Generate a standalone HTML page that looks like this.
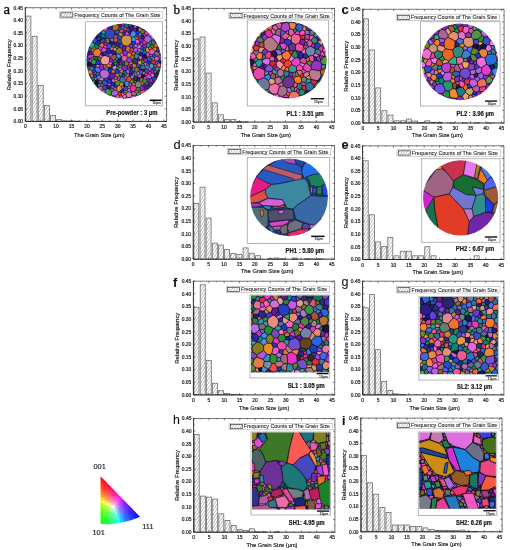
<!DOCTYPE html>
<html lang="en"><head><meta charset="utf-8"><title>Grain size distributions</title>
<style>html,body{margin:0;padding:0;background:#fff}body{width:510px;height:550px;overflow:hidden}svg{display:block;filter:blur(0.3px)}</style>
</head><body>
<svg width="510" height="550" viewBox="0 0 510 550" font-family="Liberation Sans, Arial, sans-serif">
<defs>
<pattern id="hatch" width="2" height="2.3" patternUnits="userSpaceOnUse" patternTransform="rotate(-58)"><rect width="2" height="2.3" fill="#fff"/><rect width="2" height="0.55" fill="#9c9c9c"/></pattern>
<filter id="soft" x="-5%" y="-5%" width="110%" height="110%"><feGaussianBlur stdDeviation="0.25"/></filter>
</defs>
<rect width="510" height="550" fill="#fff"/>
<g id="panel-a">
<rect x="25.9" y="16.1" width="5" height="105.3" fill="url(#hatch)" stroke="#666" stroke-width="0.75"/>
<rect x="32.1" y="36.3" width="5" height="85.1" fill="url(#hatch)" stroke="#666" stroke-width="0.75"/>
<rect x="38.2" y="85.6" width="5" height="35.8" fill="url(#hatch)" stroke="#666" stroke-width="0.75"/>
<rect x="44.4" y="105.5" width="5" height="15.9" fill="url(#hatch)" stroke="#666" stroke-width="0.75"/>
<rect x="50.5" y="115.4" width="5" height="6" fill="url(#hatch)" stroke="#666" stroke-width="0.75"/>
<rect x="56.7" y="119.7" width="5" height="1.7" fill="url(#hatch)" stroke="#666" stroke-width="0.75"/>
<rect x="62.9" y="120.9" width="5" height="0.5" fill="url(#hatch)" stroke="#666" stroke-width="0.75"/>
<rect x="69" y="120.9" width="5" height="0.5" fill="url(#hatch)" stroke="#666" stroke-width="0.75"/>
<rect x="75.2" y="121.2" width="5" height="0.2" fill="url(#hatch)" stroke="#666" stroke-width="0.75"/>
<path d="M25.3 7.7H166.6V121.4" fill="none" stroke="#4a4a4a" stroke-width="0.75"/>
<path d="M25.3 7.3V121.4H167" fill="none" stroke="#222" stroke-width="0.95"/>
<path d="M25.3 121.4v-1.9M25.3 7.7v1.9M40.7 121.4v-1.9M40.7 7.7v1.9M56.1 121.4v-1.9M56.1 7.7v1.9M71.5 121.4v-1.9M71.5 7.7v1.9M86.9 121.4v-1.9M86.9 7.7v1.9M102.3 121.4v-1.9M102.3 7.7v1.9M117.7 121.4v-1.9M117.7 7.7v1.9M133.1 121.4v-1.9M133.1 7.7v1.9M148.5 121.4v-1.9M148.5 7.7v1.9M163.9 121.4v-1.9M163.9 7.7v1.9M33 121.4v-1M33 7.7v1M48.4 121.4v-1M48.4 7.7v1M63.8 121.4v-1M63.8 7.7v1M79.2 121.4v-1M79.2 7.7v1M94.6 121.4v-1M94.6 7.7v1M110 121.4v-1M110 7.7v1M125.4 121.4v-1M125.4 7.7v1M140.8 121.4v-1M140.8 7.7v1M156.2 121.4v-1M156.2 7.7v1M25.3 121.4h1.9M166.6 121.4h-1.9M25.3 115.1h1.0M166.6 115.1h-1.0M25.3 108.8h1.9M166.6 108.8h-1.9M25.3 102.5h1.0M166.6 102.5h-1.0M25.3 96.1h1.9M166.6 96.1h-1.9M25.3 89.8h1.0M166.6 89.8h-1.0M25.3 83.5h1.9M166.6 83.5h-1.9M25.3 77.2h1.0M166.6 77.2h-1.0M25.3 70.9h1.9M166.6 70.9h-1.9M25.3 64.6h1.0M166.6 64.6h-1.0M25.3 58.2h1.9M166.6 58.2h-1.9M25.3 51.9h1.0M166.6 51.9h-1.0M25.3 45.6h1.9M166.6 45.6h-1.9M25.3 39.3h1.0M166.6 39.3h-1.0M25.3 33h1.9M166.6 33h-1.9M25.3 26.7h1.0M166.6 26.7h-1.0M25.3 20.3h1.9M166.6 20.3h-1.9M25.3 14h1.0M166.6 14h-1.0M25.3 7.7h1.9M166.6 7.7h-1.9" stroke="#2b2b2b" stroke-width="0.6" fill="none"/>
<g font-size="4.9" fill="#222" stroke="#222" stroke-width="0.2">
<text x="25.3" y="128.4" text-anchor="middle">0</text>
<text x="40.7" y="128.4" text-anchor="middle">5</text>
<text x="56.1" y="128.4" text-anchor="middle">10</text>
<text x="71.5" y="128.4" text-anchor="middle">15</text>
<text x="86.9" y="128.4" text-anchor="middle">20</text>
<text x="102.3" y="128.4" text-anchor="middle">25</text>
<text x="117.7" y="128.4" text-anchor="middle">30</text>
<text x="133.1" y="128.4" text-anchor="middle">35</text>
<text x="148.5" y="128.4" text-anchor="middle">40</text>
<text x="163.9" y="128.4" text-anchor="middle">45</text>
<text x="23.1" y="123.2" text-anchor="end">0.00</text>
<text x="23.1" y="110.5" text-anchor="end">0.05</text>
<text x="23.1" y="97.9" text-anchor="end">0.10</text>
<text x="23.1" y="85.2" text-anchor="end">0.15</text>
<text x="23.1" y="72.6" text-anchor="end">0.20</text>
<text x="23.1" y="60" text-anchor="end">0.25</text>
<text x="23.1" y="47.3" text-anchor="end">0.30</text>
<text x="23.1" y="34.7" text-anchor="end">0.35</text>
<text x="23.1" y="22.1" text-anchor="end">0.40</text>
<text x="23.1" y="9.5" text-anchor="end">0.45</text>
</g>
<text x="74.1" y="136.5" font-size="5.55" fill="#222" stroke="#222" stroke-width="0.18" textLength="50.5" lengthAdjust="spacingAndGlyphs">The Grain Size (µm)</text>
<text transform="translate(10.5 90.2) rotate(-90)" font-size="5.9" fill="#222" stroke="#222" stroke-width="0.18" textLength="51" lengthAdjust="spacingAndGlyphs">Relative Frequency</text>
<rect x="59.5" y="11.7" width="103.4" height="6.5" fill="#fff" stroke="#b0b0b0" stroke-width="0.6"/>
<rect x="60.8" y="12.8" width="12" height="4.3" fill="url(#hatch)" stroke="#3a3a3a" stroke-width="0.7"/>
<text x="74.3" y="16.9" font-size="5.3" fill="#222" stroke="#222" stroke-width="0.08" textLength="86.2" lengthAdjust="spacingAndGlyphs">Frequency Counts of The Grain Size</text>
<text x="3.4" y="13.9" font-size="14.8" font-family="Liberation Serif, sans-serif" font-weight="normal" fill="#111" stroke="#111" stroke-width="0.3">a</text>
<text x="106.3" y="115" font-size="6.3" font-weight="bold" fill="#1a1a1a" stroke="#1a1a1a" stroke-width="0.2" textLength="51.2" lengthAdjust="spacingAndGlyphs">Pre-powder : 3 µm</text>
</g>
<g id="panel-b">
<rect x="193.8" y="39" width="5" height="83.1" fill="url(#hatch)" stroke="#666" stroke-width="0.75"/>
<rect x="200" y="37" width="5" height="85.1" fill="url(#hatch)" stroke="#666" stroke-width="0.75"/>
<rect x="206.1" y="73.1" width="5" height="49" fill="url(#hatch)" stroke="#666" stroke-width="0.75"/>
<rect x="212.3" y="102.9" width="5" height="19.2" fill="url(#hatch)" stroke="#666" stroke-width="0.75"/>
<rect x="218.4" y="114.8" width="5" height="7.3" fill="url(#hatch)" stroke="#666" stroke-width="0.75"/>
<rect x="224.6" y="119.4" width="5" height="2.7" fill="url(#hatch)" stroke="#666" stroke-width="0.75"/>
<rect x="230.8" y="119.6" width="5" height="2.5" fill="url(#hatch)" stroke="#666" stroke-width="0.75"/>
<rect x="236.9" y="121.4" width="5" height="0.7" fill="url(#hatch)" stroke="#666" stroke-width="0.75"/>
<rect x="243.1" y="121.9" width="5" height="0.2" fill="url(#hatch)" stroke="#666" stroke-width="0.75"/>
<path d="M193.2 8.4H334.5V122.1" fill="none" stroke="#4a4a4a" stroke-width="0.75"/>
<path d="M193.2 8V122.1H334.9" fill="none" stroke="#222" stroke-width="0.95"/>
<path d="M193.2 122.1v-1.9M193.2 8.4v1.9M208.6 122.1v-1.9M208.6 8.4v1.9M224 122.1v-1.9M224 8.4v1.9M239.4 122.1v-1.9M239.4 8.4v1.9M254.8 122.1v-1.9M254.8 8.4v1.9M270.2 122.1v-1.9M270.2 8.4v1.9M285.6 122.1v-1.9M285.6 8.4v1.9M301 122.1v-1.9M301 8.4v1.9M316.4 122.1v-1.9M316.4 8.4v1.9M331.8 122.1v-1.9M331.8 8.4v1.9M200.9 122.1v-1M200.9 8.4v1M216.3 122.1v-1M216.3 8.4v1M231.7 122.1v-1M231.7 8.4v1M247.1 122.1v-1M247.1 8.4v1M262.5 122.1v-1M262.5 8.4v1M277.9 122.1v-1M277.9 8.4v1M293.3 122.1v-1M293.3 8.4v1M308.7 122.1v-1M308.7 8.4v1M324.1 122.1v-1M324.1 8.4v1M193.2 122.1h1.9M334.5 122.1h-1.9M193.2 115.8h1.0M334.5 115.8h-1.0M193.2 109.5h1.9M334.5 109.5h-1.9M193.2 103.2h1.0M334.5 103.2h-1.0M193.2 96.8h1.9M334.5 96.8h-1.9M193.2 90.5h1.0M334.5 90.5h-1.0M193.2 84.2h1.9M334.5 84.2h-1.9M193.2 77.9h1.0M334.5 77.9h-1.0M193.2 71.6h1.9M334.5 71.6h-1.9M193.2 65.2h1.0M334.5 65.2h-1.0M193.2 58.9h1.9M334.5 58.9h-1.9M193.2 52.6h1.0M334.5 52.6h-1.0M193.2 46.3h1.9M334.5 46.3h-1.9M193.2 40h1.0M334.5 40h-1.0M193.2 33.7h1.9M334.5 33.7h-1.9M193.2 27.4h1.0M334.5 27.4h-1.0M193.2 21h1.9M334.5 21h-1.9M193.2 14.7h1.0M334.5 14.7h-1.0M193.2 8.4h1.9M334.5 8.4h-1.9" stroke="#2b2b2b" stroke-width="0.6" fill="none"/>
<g font-size="4.9" fill="#222" stroke="#222" stroke-width="0.2">
<text x="193.2" y="129.1" text-anchor="middle">0</text>
<text x="208.6" y="129.1" text-anchor="middle">5</text>
<text x="224" y="129.1" text-anchor="middle">10</text>
<text x="239.4" y="129.1" text-anchor="middle">15</text>
<text x="254.8" y="129.1" text-anchor="middle">20</text>
<text x="270.2" y="129.1" text-anchor="middle">25</text>
<text x="285.6" y="129.1" text-anchor="middle">30</text>
<text x="301" y="129.1" text-anchor="middle">35</text>
<text x="316.4" y="129.1" text-anchor="middle">40</text>
<text x="331.8" y="129.1" text-anchor="middle">45</text>
<text x="191" y="123.9" text-anchor="end">0.00</text>
<text x="191" y="111.2" text-anchor="end">0.05</text>
<text x="191" y="98.6" text-anchor="end">0.10</text>
<text x="191" y="86" text-anchor="end">0.15</text>
<text x="191" y="73.3" text-anchor="end">0.20</text>
<text x="191" y="60.7" text-anchor="end">0.25</text>
<text x="191" y="48" text-anchor="end">0.30</text>
<text x="191" y="35.4" text-anchor="end">0.35</text>
<text x="191" y="22.8" text-anchor="end">0.40</text>
<text x="191" y="10.2" text-anchor="end">0.45</text>
</g>
<text x="240.7" y="136.9" font-size="5.55" fill="#222" stroke="#222" stroke-width="0.18" textLength="50.2" lengthAdjust="spacingAndGlyphs">The Grain Size (µm)</text>
<text transform="translate(178.4 90.8) rotate(-90)" font-size="5.9" fill="#222" stroke="#222" stroke-width="0.18" textLength="51" lengthAdjust="spacingAndGlyphs">Relative Frequency</text>
<rect x="228.8" y="12.3" width="103.4" height="6.5" fill="#fff" stroke="#b0b0b0" stroke-width="0.6"/>
<rect x="230.1" y="13.4" width="12" height="4.3" fill="url(#hatch)" stroke="#3a3a3a" stroke-width="0.7"/>
<text x="243.6" y="17.5" font-size="5.3" fill="#222" stroke="#222" stroke-width="0.08" textLength="86.2" lengthAdjust="spacingAndGlyphs">Frequency Counts of The Grain Size</text>
<text x="173.6" y="13.9" font-size="13.3" font-family="Liberation Serif, sans-serif" font-weight="normal" fill="#111" stroke="#111" stroke-width="0.3">b</text>
<text x="286.5" y="116.1" font-size="6.3" font-weight="bold" fill="#1a1a1a" stroke="#1a1a1a" stroke-width="0.2" textLength="37.3" lengthAdjust="spacingAndGlyphs">PL1 : 3.51 µm</text>
</g>
<g id="panel-c">
<rect x="363.4" y="18.9" width="5" height="104.1" fill="url(#hatch)" stroke="#666" stroke-width="0.75"/>
<rect x="369.6" y="50" width="5" height="73" fill="url(#hatch)" stroke="#666" stroke-width="0.75"/>
<rect x="375.7" y="87.9" width="5" height="35.1" fill="url(#hatch)" stroke="#666" stroke-width="0.75"/>
<rect x="381.9" y="110.7" width="5" height="12.3" fill="url(#hatch)" stroke="#666" stroke-width="0.75"/>
<rect x="388" y="115" width="5" height="8" fill="url(#hatch)" stroke="#666" stroke-width="0.75"/>
<rect x="394.2" y="120.8" width="5" height="2.2" fill="url(#hatch)" stroke="#666" stroke-width="0.75"/>
<rect x="400.4" y="120.8" width="5" height="2.2" fill="url(#hatch)" stroke="#666" stroke-width="0.75"/>
<rect x="406.5" y="119" width="5" height="4" fill="url(#hatch)" stroke="#666" stroke-width="0.75"/>
<rect x="412.7" y="121" width="5" height="2" fill="url(#hatch)" stroke="#666" stroke-width="0.75"/>
<rect x="418.8" y="122.5" width="5" height="0.5" fill="url(#hatch)" stroke="#666" stroke-width="0.75"/>
<rect x="425" y="120.8" width="5" height="2.2" fill="url(#hatch)" stroke="#666" stroke-width="0.75"/>
<rect x="431.2" y="122.3" width="5" height="0.7" fill="url(#hatch)" stroke="#666" stroke-width="0.75"/>
<rect x="437.3" y="122.5" width="5" height="0.5" fill="url(#hatch)" stroke="#666" stroke-width="0.75"/>
<rect x="449.6" y="122.8" width="5" height="0.2" fill="url(#hatch)" stroke="#666" stroke-width="0.75"/>
<rect x="462" y="122.8" width="5" height="0.2" fill="url(#hatch)" stroke="#666" stroke-width="0.75"/>
<rect x="474.3" y="122.8" width="5" height="0.2" fill="url(#hatch)" stroke="#666" stroke-width="0.75"/>
<rect x="486.6" y="122.8" width="5" height="0.2" fill="url(#hatch)" stroke="#666" stroke-width="0.75"/>
<path d="M362.8 9.3H504.1V123" fill="none" stroke="#4a4a4a" stroke-width="0.75"/>
<path d="M362.8 8.9V123H504.5" fill="none" stroke="#222" stroke-width="0.95"/>
<path d="M362.8 123v-1.9M362.8 9.3v1.9M378.2 123v-1.9M378.2 9.3v1.9M393.6 123v-1.9M393.6 9.3v1.9M409 123v-1.9M409 9.3v1.9M424.4 123v-1.9M424.4 9.3v1.9M439.8 123v-1.9M439.8 9.3v1.9M455.2 123v-1.9M455.2 9.3v1.9M470.6 123v-1.9M470.6 9.3v1.9M486 123v-1.9M486 9.3v1.9M501.4 123v-1.9M501.4 9.3v1.9M370.5 123v-1M370.5 9.3v1M385.9 123v-1M385.9 9.3v1M401.3 123v-1M401.3 9.3v1M416.7 123v-1M416.7 9.3v1M432.1 123v-1M432.1 9.3v1M447.5 123v-1M447.5 9.3v1M462.9 123v-1M462.9 9.3v1M478.3 123v-1M478.3 9.3v1M493.7 123v-1M493.7 9.3v1M362.8 123h1.9M504.1 123h-1.9M362.8 116.7h1.0M504.1 116.7h-1.0M362.8 110.4h1.9M504.1 110.4h-1.9M362.8 104h1.0M504.1 104h-1.0M362.8 97.7h1.9M504.1 97.7h-1.9M362.8 91.4h1.0M504.1 91.4h-1.0M362.8 85.1h1.9M504.1 85.1h-1.9M362.8 78.8h1.0M504.1 78.8h-1.0M362.8 72.5h1.9M504.1 72.5h-1.9M362.8 66.2h1.0M504.1 66.2h-1.0M362.8 59.8h1.9M504.1 59.8h-1.9M362.8 53.5h1.0M504.1 53.5h-1.0M362.8 47.2h1.9M504.1 47.2h-1.9M362.8 40.9h1.0M504.1 40.9h-1.0M362.8 34.6h1.9M504.1 34.6h-1.9M362.8 28.2h1.0M504.1 28.2h-1.0M362.8 21.9h1.9M504.1 21.9h-1.9M362.8 15.6h1.0M504.1 15.6h-1.0M362.8 9.3h1.9M504.1 9.3h-1.9" stroke="#2b2b2b" stroke-width="0.6" fill="none"/>
<g font-size="4.9" fill="#222" stroke="#222" stroke-width="0.2">
<text x="362.8" y="130" text-anchor="middle">0</text>
<text x="378.2" y="130" text-anchor="middle">5</text>
<text x="393.6" y="130" text-anchor="middle">10</text>
<text x="409" y="130" text-anchor="middle">15</text>
<text x="424.4" y="130" text-anchor="middle">20</text>
<text x="439.8" y="130" text-anchor="middle">25</text>
<text x="455.2" y="130" text-anchor="middle">30</text>
<text x="470.6" y="130" text-anchor="middle">35</text>
<text x="486" y="130" text-anchor="middle">40</text>
<text x="501.4" y="130" text-anchor="middle">45</text>
<text x="360.6" y="124.8" text-anchor="end">0.00</text>
<text x="360.6" y="112.1" text-anchor="end">0.05</text>
<text x="360.6" y="99.5" text-anchor="end">0.10</text>
<text x="360.6" y="86.8" text-anchor="end">0.15</text>
<text x="360.6" y="74.2" text-anchor="end">0.20</text>
<text x="360.6" y="61.6" text-anchor="end">0.25</text>
<text x="360.6" y="48.9" text-anchor="end">0.30</text>
<text x="360.6" y="36.3" text-anchor="end">0.35</text>
<text x="360.6" y="23.7" text-anchor="end">0.40</text>
<text x="360.6" y="11" text-anchor="end">0.45</text>
</g>
<text x="411.8" y="137.3" font-size="5.55" fill="#222" stroke="#222" stroke-width="0.18" textLength="51" lengthAdjust="spacingAndGlyphs">The Grain Size (µm)</text>
<text transform="translate(348 91.8) rotate(-90)" font-size="5.9" fill="#222" stroke="#222" stroke-width="0.18" textLength="51" lengthAdjust="spacingAndGlyphs">Relative Frequency</text>
<rect x="396.2" y="14.2" width="103.4" height="6.5" fill="#fff" stroke="#b0b0b0" stroke-width="0.6"/>
<rect x="397.5" y="15.3" width="12" height="4.3" fill="url(#hatch)" stroke="#3a3a3a" stroke-width="0.7"/>
<text x="411" y="19.4" font-size="5.3" fill="#222" stroke="#222" stroke-width="0.08" textLength="86.2" lengthAdjust="spacingAndGlyphs">Frequency Counts of The Grain Size</text>
<text x="341.4" y="13.8" font-size="13" font-family="Liberation Sans, sans-serif" font-weight="bold" fill="#111" stroke="#111" stroke-width="0.1">c</text>
<text x="456.5" y="116.1" font-size="6.3" font-weight="bold" fill="#1a1a1a" stroke="#1a1a1a" stroke-width="0.2" textLength="37.5" lengthAdjust="spacingAndGlyphs">PL2 : 3.96 µm</text>
</g>
<g id="panel-d">
<rect x="193.8" y="203.4" width="5" height="55.8" fill="url(#hatch)" stroke="#666" stroke-width="0.75"/>
<rect x="200" y="187.2" width="5" height="72" fill="url(#hatch)" stroke="#666" stroke-width="0.75"/>
<rect x="206.1" y="218.1" width="5" height="41.1" fill="url(#hatch)" stroke="#666" stroke-width="0.75"/>
<rect x="212.3" y="243.1" width="5" height="16.1" fill="url(#hatch)" stroke="#666" stroke-width="0.75"/>
<rect x="218.4" y="245.1" width="5" height="14.1" fill="url(#hatch)" stroke="#666" stroke-width="0.75"/>
<rect x="224.6" y="249.4" width="5" height="9.8" fill="url(#hatch)" stroke="#666" stroke-width="0.75"/>
<rect x="230.8" y="253.4" width="5" height="5.8" fill="url(#hatch)" stroke="#666" stroke-width="0.75"/>
<rect x="236.9" y="254.4" width="5" height="4.8" fill="url(#hatch)" stroke="#666" stroke-width="0.75"/>
<rect x="243.1" y="247.9" width="5" height="11.3" fill="url(#hatch)" stroke="#666" stroke-width="0.75"/>
<rect x="249.2" y="253.2" width="5" height="6" fill="url(#hatch)" stroke="#666" stroke-width="0.75"/>
<rect x="255.4" y="255.7" width="5" height="3.5" fill="url(#hatch)" stroke="#666" stroke-width="0.75"/>
<rect x="267.7" y="258.7" width="5" height="0.5" fill="url(#hatch)" stroke="#666" stroke-width="0.75"/>
<rect x="273.9" y="258" width="5" height="1.2" fill="url(#hatch)" stroke="#666" stroke-width="0.75"/>
<rect x="280" y="258.7" width="5" height="0.5" fill="url(#hatch)" stroke="#666" stroke-width="0.75"/>
<rect x="292.4" y="258" width="5" height="1.2" fill="url(#hatch)" stroke="#666" stroke-width="0.75"/>
<rect x="304.7" y="258.7" width="5" height="0.5" fill="url(#hatch)" stroke="#666" stroke-width="0.75"/>
<rect x="310.8" y="259" width="5" height="0.2" fill="url(#hatch)" stroke="#666" stroke-width="0.75"/>
<rect x="317" y="258.7" width="5" height="0.5" fill="url(#hatch)" stroke="#666" stroke-width="0.75"/>
<path d="M193.2 145.5H334.5V259.2" fill="none" stroke="#4a4a4a" stroke-width="0.75"/>
<path d="M193.2 145.1V259.2H334.9" fill="none" stroke="#222" stroke-width="0.95"/>
<path d="M193.2 259.2v-1.9M193.2 145.5v1.9M208.6 259.2v-1.9M208.6 145.5v1.9M224 259.2v-1.9M224 145.5v1.9M239.4 259.2v-1.9M239.4 145.5v1.9M254.8 259.2v-1.9M254.8 145.5v1.9M270.2 259.2v-1.9M270.2 145.5v1.9M285.6 259.2v-1.9M285.6 145.5v1.9M301 259.2v-1.9M301 145.5v1.9M316.4 259.2v-1.9M316.4 145.5v1.9M331.8 259.2v-1.9M331.8 145.5v1.9M200.9 259.2v-1M200.9 145.5v1M216.3 259.2v-1M216.3 145.5v1M231.7 259.2v-1M231.7 145.5v1M247.1 259.2v-1M247.1 145.5v1M262.5 259.2v-1M262.5 145.5v1M277.9 259.2v-1M277.9 145.5v1M293.3 259.2v-1M293.3 145.5v1M308.7 259.2v-1M308.7 145.5v1M324.1 259.2v-1M324.1 145.5v1M193.2 259.2h1.9M334.5 259.2h-1.9M193.2 252.9h1.0M334.5 252.9h-1.0M193.2 246.6h1.9M334.5 246.6h-1.9M193.2 240.2h1.0M334.5 240.2h-1.0M193.2 233.9h1.9M334.5 233.9h-1.9M193.2 227.6h1.0M334.5 227.6h-1.0M193.2 221.3h1.9M334.5 221.3h-1.9M193.2 215h1.0M334.5 215h-1.0M193.2 208.7h1.9M334.5 208.7h-1.9M193.2 202.3h1.0M334.5 202.3h-1.0M193.2 196h1.9M334.5 196h-1.9M193.2 189.7h1.0M334.5 189.7h-1.0M193.2 183.4h1.9M334.5 183.4h-1.9M193.2 177.1h1.0M334.5 177.1h-1.0M193.2 170.8h1.9M334.5 170.8h-1.9M193.2 164.4h1.0M334.5 164.4h-1.0M193.2 158.1h1.9M334.5 158.1h-1.9M193.2 151.8h1.0M334.5 151.8h-1.0M193.2 145.5h1.9M334.5 145.5h-1.9" stroke="#2b2b2b" stroke-width="0.6" fill="none"/>
<g font-size="4.9" fill="#222" stroke="#222" stroke-width="0.2">
<text x="193.2" y="266.2" text-anchor="middle">0</text>
<text x="208.6" y="266.2" text-anchor="middle">5</text>
<text x="224" y="266.2" text-anchor="middle">10</text>
<text x="239.4" y="266.2" text-anchor="middle">15</text>
<text x="254.8" y="266.2" text-anchor="middle">20</text>
<text x="270.2" y="266.2" text-anchor="middle">25</text>
<text x="285.6" y="266.2" text-anchor="middle">30</text>
<text x="301" y="266.2" text-anchor="middle">35</text>
<text x="316.4" y="266.2" text-anchor="middle">40</text>
<text x="331.8" y="266.2" text-anchor="middle">45</text>
<text x="191" y="260.9" text-anchor="end">0.00</text>
<text x="191" y="248.3" text-anchor="end">0.05</text>
<text x="191" y="235.7" text-anchor="end">0.10</text>
<text x="191" y="223" text-anchor="end">0.15</text>
<text x="191" y="210.4" text-anchor="end">0.20</text>
<text x="191" y="197.8" text-anchor="end">0.25</text>
<text x="191" y="185.1" text-anchor="end">0.30</text>
<text x="191" y="172.5" text-anchor="end">0.35</text>
<text x="191" y="159.9" text-anchor="end">0.40</text>
<text x="191" y="147.2" text-anchor="end">0.45</text>
</g>
<text x="240.7" y="273" font-size="5.55" fill="#222" stroke="#222" stroke-width="0.18" textLength="52.8" lengthAdjust="spacingAndGlyphs">The Grain Size (µm)</text>
<text transform="translate(178.4 227.9) rotate(-90)" font-size="5.9" fill="#222" stroke="#222" stroke-width="0.18" textLength="51" lengthAdjust="spacingAndGlyphs">Relative Frequency</text>
<rect x="227.5" y="148.3" width="103.4" height="6.5" fill="#fff" stroke="#b0b0b0" stroke-width="0.6"/>
<rect x="228.8" y="149.4" width="12" height="4.3" fill="url(#hatch)" stroke="#3a3a3a" stroke-width="0.7"/>
<text x="242.3" y="153.5" font-size="5.3" fill="#222" stroke="#222" stroke-width="0.08" textLength="86.2" lengthAdjust="spacingAndGlyphs">Frequency Counts of The Grain Size</text>
<text x="173.4" y="149.4" font-size="12.8" font-family="Liberation Sans, sans-serif" font-weight="normal" fill="#111" stroke="#111" stroke-width="0.1">d</text>
<text x="285.5" y="252.9" font-size="6.3" font-weight="bold" fill="#1a1a1a" stroke="#1a1a1a" stroke-width="0.2" textLength="38.6" lengthAdjust="spacingAndGlyphs">PH1 : 5.80 µm</text>
</g>
<g id="panel-e">
<rect x="363.2" y="160.8" width="5" height="98.7" fill="url(#hatch)" stroke="#666" stroke-width="0.75"/>
<rect x="369.4" y="214.8" width="5" height="44.7" fill="url(#hatch)" stroke="#666" stroke-width="0.75"/>
<rect x="375.5" y="241.9" width="5" height="17.6" fill="url(#hatch)" stroke="#666" stroke-width="0.75"/>
<rect x="381.7" y="246.4" width="5" height="13.1" fill="url(#hatch)" stroke="#666" stroke-width="0.75"/>
<rect x="387.8" y="237.6" width="5" height="21.9" fill="url(#hatch)" stroke="#666" stroke-width="0.75"/>
<rect x="394" y="255.8" width="5" height="3.7" fill="url(#hatch)" stroke="#666" stroke-width="0.75"/>
<rect x="400.2" y="251.2" width="5" height="8.3" fill="url(#hatch)" stroke="#666" stroke-width="0.75"/>
<rect x="406.3" y="251.2" width="5" height="8.3" fill="url(#hatch)" stroke="#666" stroke-width="0.75"/>
<rect x="412.5" y="255.8" width="5" height="3.7" fill="url(#hatch)" stroke="#666" stroke-width="0.75"/>
<rect x="418.6" y="255.8" width="5" height="3.7" fill="url(#hatch)" stroke="#666" stroke-width="0.75"/>
<rect x="424.8" y="246.7" width="5" height="12.8" fill="url(#hatch)" stroke="#666" stroke-width="0.75"/>
<rect x="431" y="255.8" width="5" height="3.7" fill="url(#hatch)" stroke="#666" stroke-width="0.75"/>
<rect x="474.1" y="255.8" width="5" height="3.7" fill="url(#hatch)" stroke="#666" stroke-width="0.75"/>
<path d="M362.6 145.8H503.9V259.5" fill="none" stroke="#4a4a4a" stroke-width="0.75"/>
<path d="M362.6 145.4V259.5H504.3" fill="none" stroke="#222" stroke-width="0.95"/>
<path d="M362.6 259.5v-1.9M362.6 145.8v1.9M378 259.5v-1.9M378 145.8v1.9M393.4 259.5v-1.9M393.4 145.8v1.9M408.8 259.5v-1.9M408.8 145.8v1.9M424.2 259.5v-1.9M424.2 145.8v1.9M439.6 259.5v-1.9M439.6 145.8v1.9M455 259.5v-1.9M455 145.8v1.9M470.4 259.5v-1.9M470.4 145.8v1.9M485.8 259.5v-1.9M485.8 145.8v1.9M501.2 259.5v-1.9M501.2 145.8v1.9M370.3 259.5v-1M370.3 145.8v1M385.7 259.5v-1M385.7 145.8v1M401.1 259.5v-1M401.1 145.8v1M416.5 259.5v-1M416.5 145.8v1M431.9 259.5v-1M431.9 145.8v1M447.3 259.5v-1M447.3 145.8v1M462.7 259.5v-1M462.7 145.8v1M478.1 259.5v-1M478.1 145.8v1M493.5 259.5v-1M493.5 145.8v1M362.6 259.5h1.9M503.9 259.5h-1.9M362.6 253.2h1.0M503.9 253.2h-1.0M362.6 246.9h1.9M503.9 246.9h-1.9M362.6 240.6h1.0M503.9 240.6h-1.0M362.6 234.2h1.9M503.9 234.2h-1.9M362.6 227.9h1.0M503.9 227.9h-1.0M362.6 221.6h1.9M503.9 221.6h-1.9M362.6 215.3h1.0M503.9 215.3h-1.0M362.6 209h1.9M503.9 209h-1.9M362.6 202.7h1.0M503.9 202.7h-1.0M362.6 196.3h1.9M503.9 196.3h-1.9M362.6 190h1.0M503.9 190h-1.0M362.6 183.7h1.9M503.9 183.7h-1.9M362.6 177.4h1.0M503.9 177.4h-1.0M362.6 171.1h1.9M503.9 171.1h-1.9M362.6 164.8h1.0M503.9 164.8h-1.0M362.6 158.4h1.9M503.9 158.4h-1.9M362.6 152.1h1.0M503.9 152.1h-1.0M362.6 145.8h1.9M503.9 145.8h-1.9" stroke="#2b2b2b" stroke-width="0.6" fill="none"/>
<g font-size="4.9" fill="#222" stroke="#222" stroke-width="0.2">
<text x="362.6" y="266.5" text-anchor="middle">0</text>
<text x="378" y="266.5" text-anchor="middle">5</text>
<text x="393.4" y="266.5" text-anchor="middle">10</text>
<text x="408.8" y="266.5" text-anchor="middle">15</text>
<text x="424.2" y="266.5" text-anchor="middle">20</text>
<text x="439.6" y="266.5" text-anchor="middle">25</text>
<text x="455" y="266.5" text-anchor="middle">30</text>
<text x="470.4" y="266.5" text-anchor="middle">35</text>
<text x="485.8" y="266.5" text-anchor="middle">40</text>
<text x="501.2" y="266.5" text-anchor="middle">45</text>
<text x="360.4" y="261.2" text-anchor="end">0.00</text>
<text x="360.4" y="248.6" text-anchor="end">0.05</text>
<text x="360.4" y="236" text-anchor="end">0.10</text>
<text x="360.4" y="223.3" text-anchor="end">0.15</text>
<text x="360.4" y="210.7" text-anchor="end">0.20</text>
<text x="360.4" y="198.1" text-anchor="end">0.25</text>
<text x="360.4" y="185.4" text-anchor="end">0.30</text>
<text x="360.4" y="172.8" text-anchor="end">0.35</text>
<text x="360.4" y="160.2" text-anchor="end">0.40</text>
<text x="360.4" y="147.6" text-anchor="end">0.45</text>
</g>
<text x="412.5" y="274.3" font-size="5.55" fill="#222" stroke="#222" stroke-width="0.18" textLength="50.6" lengthAdjust="spacingAndGlyphs">The Grain Size (µm)</text>
<text transform="translate(347.8 228.2) rotate(-90)" font-size="5.9" fill="#222" stroke="#222" stroke-width="0.18" textLength="51" lengthAdjust="spacingAndGlyphs">Relative Frequency</text>
<rect x="397" y="149.7" width="103.4" height="6.5" fill="#fff" stroke="#b0b0b0" stroke-width="0.6"/>
<rect x="398.3" y="150.8" width="12" height="4.3" fill="url(#hatch)" stroke="#3a3a3a" stroke-width="0.7"/>
<text x="411.8" y="154.9" font-size="5.3" fill="#222" stroke="#222" stroke-width="0.08" textLength="86.2" lengthAdjust="spacingAndGlyphs">Frequency Counts of The Grain Size</text>
<text x="341.4" y="149.2" font-size="12.8" font-family="Liberation Sans, sans-serif" font-weight="bold" fill="#111" stroke="#111" stroke-width="0.1">e</text>
<text x="455.8" y="251.2" font-size="6.3" font-weight="bold" fill="#1a1a1a" stroke="#1a1a1a" stroke-width="0.2" textLength="38.3" lengthAdjust="spacingAndGlyphs">PH2 : 6.67 µm</text>
</g>
<g id="panel-f">
<rect x="194" y="307.3" width="5" height="87.6" fill="url(#hatch)" stroke="#666" stroke-width="0.75"/>
<rect x="200.2" y="284.8" width="5" height="110.1" fill="url(#hatch)" stroke="#666" stroke-width="0.75"/>
<rect x="206.3" y="360.6" width="5" height="34.3" fill="url(#hatch)" stroke="#666" stroke-width="0.75"/>
<rect x="212.5" y="383.2" width="5" height="11.7" fill="url(#hatch)" stroke="#666" stroke-width="0.75"/>
<rect x="218.6" y="390.7" width="5" height="4.2" fill="url(#hatch)" stroke="#666" stroke-width="0.75"/>
<rect x="224.8" y="393.4" width="5" height="1.5" fill="url(#hatch)" stroke="#666" stroke-width="0.75"/>
<rect x="231" y="394.4" width="5" height="0.5" fill="url(#hatch)" stroke="#666" stroke-width="0.75"/>
<rect x="237.1" y="394.7" width="5" height="0.2" fill="url(#hatch)" stroke="#666" stroke-width="0.75"/>
<path d="M193.4 281.2H334.7V394.9" fill="none" stroke="#4a4a4a" stroke-width="0.75"/>
<path d="M193.4 280.8V394.9H335.1" fill="none" stroke="#222" stroke-width="0.95"/>
<path d="M193.4 394.9v-1.9M193.4 281.2v1.9M208.8 394.9v-1.9M208.8 281.2v1.9M224.2 394.9v-1.9M224.2 281.2v1.9M239.6 394.9v-1.9M239.6 281.2v1.9M255 394.9v-1.9M255 281.2v1.9M270.4 394.9v-1.9M270.4 281.2v1.9M285.8 394.9v-1.9M285.8 281.2v1.9M301.2 394.9v-1.9M301.2 281.2v1.9M316.6 394.9v-1.9M316.6 281.2v1.9M332 394.9v-1.9M332 281.2v1.9M201.1 394.9v-1M201.1 281.2v1M216.5 394.9v-1M216.5 281.2v1M231.9 394.9v-1M231.9 281.2v1M247.3 394.9v-1M247.3 281.2v1M262.7 394.9v-1M262.7 281.2v1M278.1 394.9v-1M278.1 281.2v1M293.5 394.9v-1M293.5 281.2v1M308.9 394.9v-1M308.9 281.2v1M324.3 394.9v-1M324.3 281.2v1M193.4 394.9h1.9M334.7 394.9h-1.9M193.4 388.6h1.0M334.7 388.6h-1.0M193.4 382.3h1.9M334.7 382.3h-1.9M193.4 375.9h1.0M334.7 375.9h-1.0M193.4 369.6h1.9M334.7 369.6h-1.9M193.4 363.3h1.0M334.7 363.3h-1.0M193.4 357h1.9M334.7 357h-1.9M193.4 350.7h1.0M334.7 350.7h-1.0M193.4 344.4h1.9M334.7 344.4h-1.9M193.4 338h1.0M334.7 338h-1.0M193.4 331.7h1.9M334.7 331.7h-1.9M193.4 325.4h1.0M334.7 325.4h-1.0M193.4 319.1h1.9M334.7 319.1h-1.9M193.4 312.8h1.0M334.7 312.8h-1.0M193.4 306.5h1.9M334.7 306.5h-1.9M193.4 300.1h1.0M334.7 300.1h-1.0M193.4 293.8h1.9M334.7 293.8h-1.9M193.4 287.5h1.0M334.7 287.5h-1.0M193.4 281.2h1.9M334.7 281.2h-1.9" stroke="#2b2b2b" stroke-width="0.6" fill="none"/>
<g font-size="4.9" fill="#222" stroke="#222" stroke-width="0.2">
<text x="193.4" y="401.9" text-anchor="middle">0</text>
<text x="208.8" y="401.9" text-anchor="middle">5</text>
<text x="224.2" y="401.9" text-anchor="middle">10</text>
<text x="239.6" y="401.9" text-anchor="middle">15</text>
<text x="255" y="401.9" text-anchor="middle">20</text>
<text x="270.4" y="401.9" text-anchor="middle">25</text>
<text x="285.8" y="401.9" text-anchor="middle">30</text>
<text x="301.2" y="401.9" text-anchor="middle">35</text>
<text x="316.6" y="401.9" text-anchor="middle">40</text>
<text x="332" y="401.9" text-anchor="middle">45</text>
<text x="191.2" y="396.6" text-anchor="end">0.00</text>
<text x="191.2" y="384" text-anchor="end">0.05</text>
<text x="191.2" y="371.4" text-anchor="end">0.10</text>
<text x="191.2" y="358.8" text-anchor="end">0.15</text>
<text x="191.2" y="346.1" text-anchor="end">0.20</text>
<text x="191.2" y="333.5" text-anchor="end">0.25</text>
<text x="191.2" y="320.8" text-anchor="end">0.30</text>
<text x="191.2" y="308.2" text-anchor="end">0.35</text>
<text x="191.2" y="295.6" text-anchor="end">0.40</text>
<text x="191.2" y="282.9" text-anchor="end">0.45</text>
</g>
<text x="239.1" y="410.3" font-size="5.55" fill="#222" stroke="#222" stroke-width="0.18" textLength="50.2" lengthAdjust="spacingAndGlyphs">The Grain Size (µm)</text>
<text transform="translate(178.6 363.7) rotate(-90)" font-size="5.9" fill="#222" stroke="#222" stroke-width="0.18" textLength="51" lengthAdjust="spacingAndGlyphs">Relative Frequency</text>
<rect x="226.3" y="286.2" width="103.4" height="6.5" fill="#fff" stroke="#b0b0b0" stroke-width="0.6"/>
<rect x="227.6" y="287.3" width="12" height="4.3" fill="url(#hatch)" stroke="#3a3a3a" stroke-width="0.7"/>
<text x="241.1" y="291.3" font-size="5.3" fill="#222" stroke="#222" stroke-width="0.08" textLength="86.2" lengthAdjust="spacingAndGlyphs">Frequency Counts of The Grain Size</text>
<text x="173" y="286.9" font-size="12.5" font-family="Liberation Sans, sans-serif" font-weight="bold" fill="#111" stroke="#111" stroke-width="0.1">f</text>
<text x="287.7" y="387.8" font-size="6.3" font-weight="bold" fill="#1a1a1a" stroke="#1a1a1a" stroke-width="0.2" textLength="37" lengthAdjust="spacingAndGlyphs">SL1 : 3.05 µm</text>
</g>
<g id="panel-g">
<rect x="363.2" y="307.8" width="5" height="87.1" fill="url(#hatch)" stroke="#666" stroke-width="0.75"/>
<rect x="369.4" y="294.4" width="5" height="100.5" fill="url(#hatch)" stroke="#666" stroke-width="0.75"/>
<rect x="375.5" y="349.7" width="5" height="45.2" fill="url(#hatch)" stroke="#666" stroke-width="0.75"/>
<rect x="381.7" y="381.3" width="5" height="13.6" fill="url(#hatch)" stroke="#666" stroke-width="0.75"/>
<rect x="387.8" y="390.4" width="5" height="4.5" fill="url(#hatch)" stroke="#666" stroke-width="0.75"/>
<rect x="394" y="393.9" width="5" height="1" fill="url(#hatch)" stroke="#666" stroke-width="0.75"/>
<rect x="400.2" y="394.7" width="5" height="0.2" fill="url(#hatch)" stroke="#666" stroke-width="0.75"/>
<path d="M362.6 281.2H503.9V394.9" fill="none" stroke="#4a4a4a" stroke-width="0.75"/>
<path d="M362.6 280.8V394.9H504.3" fill="none" stroke="#222" stroke-width="0.95"/>
<path d="M362.6 394.9v-1.9M362.6 281.2v1.9M378 394.9v-1.9M378 281.2v1.9M393.4 394.9v-1.9M393.4 281.2v1.9M408.8 394.9v-1.9M408.8 281.2v1.9M424.2 394.9v-1.9M424.2 281.2v1.9M439.6 394.9v-1.9M439.6 281.2v1.9M455 394.9v-1.9M455 281.2v1.9M470.4 394.9v-1.9M470.4 281.2v1.9M485.8 394.9v-1.9M485.8 281.2v1.9M501.2 394.9v-1.9M501.2 281.2v1.9M370.3 394.9v-1M370.3 281.2v1M385.7 394.9v-1M385.7 281.2v1M401.1 394.9v-1M401.1 281.2v1M416.5 394.9v-1M416.5 281.2v1M431.9 394.9v-1M431.9 281.2v1M447.3 394.9v-1M447.3 281.2v1M462.7 394.9v-1M462.7 281.2v1M478.1 394.9v-1M478.1 281.2v1M493.5 394.9v-1M493.5 281.2v1M362.6 394.9h1.9M503.9 394.9h-1.9M362.6 388.6h1.0M503.9 388.6h-1.0M362.6 382.3h1.9M503.9 382.3h-1.9M362.6 375.9h1.0M503.9 375.9h-1.0M362.6 369.6h1.9M503.9 369.6h-1.9M362.6 363.3h1.0M503.9 363.3h-1.0M362.6 357h1.9M503.9 357h-1.9M362.6 350.7h1.0M503.9 350.7h-1.0M362.6 344.4h1.9M503.9 344.4h-1.9M362.6 338h1.0M503.9 338h-1.0M362.6 331.7h1.9M503.9 331.7h-1.9M362.6 325.4h1.0M503.9 325.4h-1.0M362.6 319.1h1.9M503.9 319.1h-1.9M362.6 312.8h1.0M503.9 312.8h-1.0M362.6 306.5h1.9M503.9 306.5h-1.9M362.6 300.1h1.0M503.9 300.1h-1.0M362.6 293.8h1.9M503.9 293.8h-1.9M362.6 287.5h1.0M503.9 287.5h-1.0M362.6 281.2h1.9M503.9 281.2h-1.9" stroke="#2b2b2b" stroke-width="0.6" fill="none"/>
<g font-size="4.9" fill="#222" stroke="#222" stroke-width="0.2">
<text x="362.6" y="401.9" text-anchor="middle">0</text>
<text x="378" y="401.9" text-anchor="middle">5</text>
<text x="393.4" y="401.9" text-anchor="middle">10</text>
<text x="408.8" y="401.9" text-anchor="middle">15</text>
<text x="424.2" y="401.9" text-anchor="middle">20</text>
<text x="439.6" y="401.9" text-anchor="middle">25</text>
<text x="455" y="401.9" text-anchor="middle">30</text>
<text x="470.4" y="401.9" text-anchor="middle">35</text>
<text x="485.8" y="401.9" text-anchor="middle">40</text>
<text x="501.2" y="401.9" text-anchor="middle">45</text>
<text x="360.4" y="396.6" text-anchor="end">0.00</text>
<text x="360.4" y="384" text-anchor="end">0.05</text>
<text x="360.4" y="371.4" text-anchor="end">0.10</text>
<text x="360.4" y="358.8" text-anchor="end">0.15</text>
<text x="360.4" y="346.1" text-anchor="end">0.20</text>
<text x="360.4" y="333.5" text-anchor="end">0.25</text>
<text x="360.4" y="320.8" text-anchor="end">0.30</text>
<text x="360.4" y="308.2" text-anchor="end">0.35</text>
<text x="360.4" y="295.6" text-anchor="end">0.40</text>
<text x="360.4" y="282.9" text-anchor="end">0.45</text>
</g>
<text x="409.4" y="409.9" font-size="5.55" fill="#222" stroke="#222" stroke-width="0.18" textLength="50.5" lengthAdjust="spacingAndGlyphs">The Grain Size (µm)</text>
<text transform="translate(347.8 363.7) rotate(-90)" font-size="5.9" fill="#222" stroke="#222" stroke-width="0.18" textLength="51" lengthAdjust="spacingAndGlyphs">Relative Frequency</text>
<rect x="396.6" y="286.5" width="103.4" height="6.5" fill="#fff" stroke="#b0b0b0" stroke-width="0.6"/>
<rect x="397.9" y="287.6" width="12" height="4.3" fill="url(#hatch)" stroke="#3a3a3a" stroke-width="0.7"/>
<text x="411.4" y="291.6" font-size="5.3" fill="#222" stroke="#222" stroke-width="0.08" textLength="86.2" lengthAdjust="spacingAndGlyphs">Frequency Counts of The Grain Size</text>
<text x="341.4" y="286.4" font-size="12.5" font-family="Liberation Sans, sans-serif" font-weight="normal" fill="#111" stroke="#111" stroke-width="0.1">g</text>
<text x="457.1" y="389.1" font-size="6.3" font-weight="bold" fill="#1a1a1a" stroke="#1a1a1a" stroke-width="0.2" textLength="35.1" lengthAdjust="spacingAndGlyphs">SL2: 3.12 µm</text>
</g>
<g id="panel-h">
<rect x="194.2" y="434.5" width="5" height="97.7" fill="url(#hatch)" stroke="#666" stroke-width="0.75"/>
<rect x="200.4" y="496.1" width="5" height="36.1" fill="url(#hatch)" stroke="#666" stroke-width="0.75"/>
<rect x="206.5" y="497.1" width="5" height="35.1" fill="url(#hatch)" stroke="#666" stroke-width="0.75"/>
<rect x="212.7" y="499.1" width="5" height="33.1" fill="url(#hatch)" stroke="#666" stroke-width="0.75"/>
<rect x="218.8" y="513.8" width="5" height="18.4" fill="url(#hatch)" stroke="#666" stroke-width="0.75"/>
<rect x="225" y="520.5" width="5" height="11.7" fill="url(#hatch)" stroke="#666" stroke-width="0.75"/>
<rect x="231.2" y="525.4" width="5" height="6.8" fill="url(#hatch)" stroke="#666" stroke-width="0.75"/>
<rect x="237.3" y="529.7" width="5" height="2.5" fill="url(#hatch)" stroke="#666" stroke-width="0.75"/>
<rect x="243.5" y="530.5" width="5" height="1.7" fill="url(#hatch)" stroke="#666" stroke-width="0.75"/>
<rect x="249.6" y="528.8" width="5" height="3.4" fill="url(#hatch)" stroke="#666" stroke-width="0.75"/>
<rect x="255.8" y="531.7" width="5" height="0.5" fill="url(#hatch)" stroke="#666" stroke-width="0.75"/>
<rect x="262" y="531.7" width="5" height="0.5" fill="url(#hatch)" stroke="#666" stroke-width="0.75"/>
<rect x="274.3" y="531.7" width="5" height="0.5" fill="url(#hatch)" stroke="#666" stroke-width="0.75"/>
<path d="M193.6 418.5H334.9V532.2" fill="none" stroke="#4a4a4a" stroke-width="0.75"/>
<path d="M193.6 418.1V532.2H335.3" fill="none" stroke="#222" stroke-width="0.95"/>
<path d="M193.6 532.2v-1.9M193.6 418.5v1.9M209 532.2v-1.9M209 418.5v1.9M224.4 532.2v-1.9M224.4 418.5v1.9M239.8 532.2v-1.9M239.8 418.5v1.9M255.2 532.2v-1.9M255.2 418.5v1.9M270.6 532.2v-1.9M270.6 418.5v1.9M286 532.2v-1.9M286 418.5v1.9M301.4 532.2v-1.9M301.4 418.5v1.9M316.8 532.2v-1.9M316.8 418.5v1.9M332.2 532.2v-1.9M332.2 418.5v1.9M201.3 532.2v-1M201.3 418.5v1M216.7 532.2v-1M216.7 418.5v1M232.1 532.2v-1M232.1 418.5v1M247.5 532.2v-1M247.5 418.5v1M262.9 532.2v-1M262.9 418.5v1M278.3 532.2v-1M278.3 418.5v1M293.7 532.2v-1M293.7 418.5v1M309.1 532.2v-1M309.1 418.5v1M324.5 532.2v-1M324.5 418.5v1M193.6 532.2h1.9M334.9 532.2h-1.9M193.6 525.9h1.0M334.9 525.9h-1.0M193.6 519.6h1.9M334.9 519.6h-1.9M193.6 513.2h1.0M334.9 513.2h-1.0M193.6 506.9h1.9M334.9 506.9h-1.9M193.6 500.6h1.0M334.9 500.6h-1.0M193.6 494.3h1.9M334.9 494.3h-1.9M193.6 488h1.0M334.9 488h-1.0M193.6 481.7h1.9M334.9 481.7h-1.9M193.6 475.4h1.0M334.9 475.4h-1.0M193.6 469h1.9M334.9 469h-1.9M193.6 462.7h1.0M334.9 462.7h-1.0M193.6 456.4h1.9M334.9 456.4h-1.9M193.6 450.1h1.0M334.9 450.1h-1.0M193.6 443.8h1.9M334.9 443.8h-1.9M193.6 437.5h1.0M334.9 437.5h-1.0M193.6 431.1h1.9M334.9 431.1h-1.9M193.6 424.8h1.0M334.9 424.8h-1.0M193.6 418.5h1.9M334.9 418.5h-1.9" stroke="#2b2b2b" stroke-width="0.6" fill="none"/>
<g font-size="4.9" fill="#222" stroke="#222" stroke-width="0.2">
<text x="193.6" y="539.2" text-anchor="middle">0</text>
<text x="209" y="539.2" text-anchor="middle">5</text>
<text x="224.4" y="539.2" text-anchor="middle">10</text>
<text x="239.8" y="539.2" text-anchor="middle">15</text>
<text x="255.2" y="539.2" text-anchor="middle">20</text>
<text x="270.6" y="539.2" text-anchor="middle">25</text>
<text x="286" y="539.2" text-anchor="middle">30</text>
<text x="301.4" y="539.2" text-anchor="middle">35</text>
<text x="316.8" y="539.2" text-anchor="middle">40</text>
<text x="332.2" y="539.2" text-anchor="middle">45</text>
<text x="191.4" y="534" text-anchor="end">0.00</text>
<text x="191.4" y="521.3" text-anchor="end">0.05</text>
<text x="191.4" y="508.7" text-anchor="end">0.10</text>
<text x="191.4" y="496.1" text-anchor="end">0.15</text>
<text x="191.4" y="483.4" text-anchor="end">0.20</text>
<text x="191.4" y="470.8" text-anchor="end">0.25</text>
<text x="191.4" y="458.2" text-anchor="end">0.30</text>
<text x="191.4" y="445.5" text-anchor="end">0.35</text>
<text x="191.4" y="432.9" text-anchor="end">0.40</text>
<text x="191.4" y="420.3" text-anchor="end">0.45</text>
</g>
<text x="246.5" y="546.5" font-size="5.55" fill="#222" stroke="#222" stroke-width="0.18" textLength="51" lengthAdjust="spacingAndGlyphs">The Grain Size (µm)</text>
<text transform="translate(178.8 501) rotate(-90)" font-size="5.9" fill="#222" stroke="#222" stroke-width="0.18" textLength="51" lengthAdjust="spacingAndGlyphs">Relative Frequency</text>
<rect x="229" y="423.3" width="103.4" height="6.5" fill="#fff" stroke="#b0b0b0" stroke-width="0.6"/>
<rect x="230.3" y="424.4" width="12" height="4.3" fill="url(#hatch)" stroke="#3a3a3a" stroke-width="0.7"/>
<text x="243.8" y="428.4" font-size="5.3" fill="#222" stroke="#222" stroke-width="0.08" textLength="86.2" lengthAdjust="spacingAndGlyphs">Frequency Counts of The Grain Size</text>
<text x="173.1" y="424.1" font-size="12.3" font-family="Liberation Sans, sans-serif" font-weight="normal" fill="#111" stroke="#111" stroke-width="0.1">h</text>
<text x="288.8" y="524.5" font-size="6.3" font-weight="bold" fill="#1a1a1a" stroke="#1a1a1a" stroke-width="0.2" textLength="35.9" lengthAdjust="spacingAndGlyphs">SH1: 4.95 µm</text>
</g>
<g id="panel-i">
<rect x="361.4" y="455.3" width="5" height="76.5" fill="url(#hatch)" stroke="#666" stroke-width="0.75"/>
<rect x="367.6" y="482.8" width="5" height="49" fill="url(#hatch)" stroke="#666" stroke-width="0.75"/>
<rect x="373.7" y="494.2" width="5" height="37.6" fill="url(#hatch)" stroke="#666" stroke-width="0.75"/>
<rect x="379.9" y="507.6" width="5" height="24.2" fill="url(#hatch)" stroke="#666" stroke-width="0.75"/>
<rect x="386" y="512.6" width="5" height="19.2" fill="url(#hatch)" stroke="#666" stroke-width="0.75"/>
<rect x="392.2" y="525" width="5" height="6.8" fill="url(#hatch)" stroke="#666" stroke-width="0.75"/>
<rect x="398.4" y="525" width="5" height="6.8" fill="url(#hatch)" stroke="#666" stroke-width="0.75"/>
<rect x="404.5" y="525" width="5" height="6.8" fill="url(#hatch)" stroke="#666" stroke-width="0.75"/>
<rect x="410.7" y="526.5" width="5" height="5.3" fill="url(#hatch)" stroke="#666" stroke-width="0.75"/>
<rect x="416.8" y="526.5" width="5" height="5.3" fill="url(#hatch)" stroke="#666" stroke-width="0.75"/>
<rect x="423" y="527.9" width="5" height="3.9" fill="url(#hatch)" stroke="#666" stroke-width="0.75"/>
<rect x="429.2" y="529.6" width="5" height="2.2" fill="url(#hatch)" stroke="#666" stroke-width="0.75"/>
<rect x="435.3" y="530.6" width="5" height="1.2" fill="url(#hatch)" stroke="#666" stroke-width="0.75"/>
<rect x="441.5" y="530.3" width="5" height="1.5" fill="url(#hatch)" stroke="#666" stroke-width="0.75"/>
<rect x="447.6" y="530.6" width="5" height="1.2" fill="url(#hatch)" stroke="#666" stroke-width="0.75"/>
<rect x="453.8" y="530.6" width="5" height="1.2" fill="url(#hatch)" stroke="#666" stroke-width="0.75"/>
<rect x="460" y="530.1" width="5" height="1.7" fill="url(#hatch)" stroke="#666" stroke-width="0.75"/>
<rect x="466.1" y="531.3" width="5" height="0.5" fill="url(#hatch)" stroke="#666" stroke-width="0.75"/>
<rect x="472.3" y="531.6" width="5" height="0.2" fill="url(#hatch)" stroke="#666" stroke-width="0.75"/>
<path d="M360.8 418.1H502.1V531.8" fill="none" stroke="#4a4a4a" stroke-width="0.75"/>
<path d="M360.8 417.7V531.8H502.5" fill="none" stroke="#222" stroke-width="0.95"/>
<path d="M360.8 531.8v-1.9M360.8 418.1v1.9M376.2 531.8v-1.9M376.2 418.1v1.9M391.6 531.8v-1.9M391.6 418.1v1.9M407 531.8v-1.9M407 418.1v1.9M422.4 531.8v-1.9M422.4 418.1v1.9M437.8 531.8v-1.9M437.8 418.1v1.9M453.2 531.8v-1.9M453.2 418.1v1.9M468.6 531.8v-1.9M468.6 418.1v1.9M484 531.8v-1.9M484 418.1v1.9M499.4 531.8v-1.9M499.4 418.1v1.9M368.5 531.8v-1M368.5 418.1v1M383.9 531.8v-1M383.9 418.1v1M399.3 531.8v-1M399.3 418.1v1M414.7 531.8v-1M414.7 418.1v1M430.1 531.8v-1M430.1 418.1v1M445.5 531.8v-1M445.5 418.1v1M460.9 531.8v-1M460.9 418.1v1M476.3 531.8v-1M476.3 418.1v1M491.7 531.8v-1M491.7 418.1v1M360.8 531.8h1.9M502.1 531.8h-1.9M360.8 525.5h1.0M502.1 525.5h-1.0M360.8 519.2h1.9M502.1 519.2h-1.9M360.8 512.9h1.0M502.1 512.9h-1.0M360.8 506.5h1.9M502.1 506.5h-1.9M360.8 500.2h1.0M502.1 500.2h-1.0M360.8 493.9h1.9M502.1 493.9h-1.9M360.8 487.6h1.0M502.1 487.6h-1.0M360.8 481.3h1.9M502.1 481.3h-1.9M360.8 475h1.0M502.1 475h-1.0M360.8 468.6h1.9M502.1 468.6h-1.9M360.8 462.3h1.0M502.1 462.3h-1.0M360.8 456h1.9M502.1 456h-1.9M360.8 449.7h1.0M502.1 449.7h-1.0M360.8 443.4h1.9M502.1 443.4h-1.9M360.8 437.1h1.0M502.1 437.1h-1.0M360.8 430.7h1.9M502.1 430.7h-1.9M360.8 424.4h1.0M502.1 424.4h-1.0M360.8 418.1h1.9M502.1 418.1h-1.9" stroke="#2b2b2b" stroke-width="0.6" fill="none"/>
<g font-size="4.9" fill="#222" stroke="#222" stroke-width="0.2">
<text x="360.8" y="538.8" text-anchor="middle">0</text>
<text x="376.2" y="538.8" text-anchor="middle">5</text>
<text x="391.6" y="538.8" text-anchor="middle">10</text>
<text x="407" y="538.8" text-anchor="middle">15</text>
<text x="422.4" y="538.8" text-anchor="middle">20</text>
<text x="437.8" y="538.8" text-anchor="middle">25</text>
<text x="453.2" y="538.8" text-anchor="middle">30</text>
<text x="468.6" y="538.8" text-anchor="middle">35</text>
<text x="484" y="538.8" text-anchor="middle">40</text>
<text x="499.4" y="538.8" text-anchor="middle">45</text>
<text x="358.6" y="533.6" text-anchor="end">0.00</text>
<text x="358.6" y="520.9" text-anchor="end">0.05</text>
<text x="358.6" y="508.3" text-anchor="end">0.10</text>
<text x="358.6" y="495.7" text-anchor="end">0.15</text>
<text x="358.6" y="483" text-anchor="end">0.20</text>
<text x="358.6" y="470.4" text-anchor="end">0.25</text>
<text x="358.6" y="457.8" text-anchor="end">0.30</text>
<text x="358.6" y="445.1" text-anchor="end">0.35</text>
<text x="358.6" y="432.5" text-anchor="end">0.40</text>
<text x="358.6" y="419.9" text-anchor="end">0.45</text>
</g>
<text x="411.3" y="546" font-size="5.55" fill="#222" stroke="#222" stroke-width="0.18" textLength="50.2" lengthAdjust="spacingAndGlyphs">The Grain Size (µm)</text>
<text transform="translate(346 500.6) rotate(-90)" font-size="5.9" fill="#222" stroke="#222" stroke-width="0.18" textLength="51" lengthAdjust="spacingAndGlyphs">Relative Frequency</text>
<rect x="396.3" y="422" width="103.4" height="6.5" fill="#fff" stroke="#b0b0b0" stroke-width="0.6"/>
<rect x="397.6" y="423.1" width="12" height="4.3" fill="url(#hatch)" stroke="#3a3a3a" stroke-width="0.7"/>
<text x="411.1" y="427.1" font-size="5.3" fill="#222" stroke="#222" stroke-width="0.08" textLength="86.2" lengthAdjust="spacingAndGlyphs">Frequency Counts of The Grain Size</text>
<text x="342" y="424.9" font-size="12.3" font-family="Liberation Sans, sans-serif" font-weight="bold" fill="#111" stroke="#111" stroke-width="0.1">i</text>
<text x="456.1" y="524.5" font-size="6.3" font-weight="bold" fill="#1a1a1a" stroke="#1a1a1a" stroke-width="0.2" textLength="35.7" lengthAdjust="spacingAndGlyphs">SH2: 6.26 µm</text>
</g>
<rect x="85.4" y="21.7" width="77.2" height="84" fill="#fff" stroke="#adadad" stroke-width="0.9"/>
<clipPath id="clip-a"><circle cx="123.9" cy="61.1" r="37.6"/></clipPath>
<g clip-path="url(#clip-a)"><g filter="url(#soft)" stroke="#0a0812" stroke-width="0.4" stroke-linejoin="round">
<rect x="84" y="21" width="80" height="80" fill="#15101c" stroke="none"/>
<path d="M115 33.3L114.8 34.6L113.5 37.9L109.7 39.2L109.5 39.2L105.9 38.2L105.5 38L104.7 34.4L105.5 31.4L108.2 28.8L112.1 28.8L114.6 30.9z" fill="#2d46be"/>
<path d="M124.2 45.5L121.5 43.1L121 39.8L122.2 36.6L122.8 36L125.4 35L129.7 35.5L131.2 37.1L131.7 41.5L131 43.4L128.1 45.8L126.4 46.1z" fill="#cd9646"/>
<path d="M101.4 51.7L100.5 54.6L98.7 56.4L97.8 56.7L94 56.1L93.1 54.5L92.9 52L94.1 50.1L96 48.8L98.4 48.6L101 50.6z" fill="#eb7832"/>
<path d="M100.4 60.8L101.2 58L102.8 56.2L103.8 55.7L105.4 55.6L109 57L109.7 57.7L109.5 62L108.4 63.7L106.8 64.8L102.9 64.5L101.3 63.8z" fill="#eba096"/>
<path d="M107.5 77.8L103.6 78.9L101.1 77L100 75L99.9 72.3L101 70.7L104.1 69.3L104.4 69.3L107.9 70.6L109.5 73.4L108.8 76.5z" fill="#b46ed2"/>
<path d="M151.6 40.2L148.4 42.7L147 42.8L143.9 40.1L143.8 39.2L144.6 37.4L146.8 35.6L147.7 35.3L150.5 36.5L151.9 39.7z" fill="#aa5adc"/>
<path d="M131.1 92L130 88.4L130.5 86.4L131.9 85.4L135.3 85.8L136.4 87.5L136 89.9L134.9 91.2L131.1 92z" fill="#f0328c"/>
<path d="M117.9 94.3L115.6 96.1L112.8 95.9L111.2 94.5L111.7 92L113.7 90.2L116.7 90.2L118.4 91.8z" fill="#a06ec8"/>
<path d="M124.6 61.5L123.8 61.4L121.6 59.7L121.1 57.6L121.3 57.1L123.8 55.4L126.7 56L127.6 57.2L126.3 60.8z" fill="#f05aaa"/>
<path d="M122.3 52.4L119.7 54.1L116.3 53.9L115.7 51.7L116.7 49L119.4 47.3L121.5 48.3L122.8 50.9z" fill="#967828"/>
<path d="M95.9 71.7L94.6 68.8L96.1 67L99.2 67.3L101 70.7L99.9 72.3L96.6 72.2z" fill="#5078e6"/>
<path d="M154 64.6L153.8 67.5L152.1 68.9L151.6 69L149.5 67.6L149 65.9L149.4 64.6L151.1 63.1z" fill="#3ca0aa"/>
<path d="M156.6 64.6L158.6 62.8L159.9 62.9L161.3 64.9L160.2 66.8L158.8 67.4L157.4 66.7z" fill="#f06e3c"/>
<path d="M140.7 82.1L141.9 85.4L139.5 87.6L136.4 87.5L135.3 85.8L135.4 83.4L137.2 81L139 81.1z" fill="#788c6e"/>
<path d="M130.7 97.5L129.1 97.8L126.6 97L125.8 94.5L126.4 93.2L127.9 91.8L131.1 92L131.1 92L131.9 95.4zM121.7 102L117.3 102L117.5 100L119.6 96.3L121.6 95.8L122.2 96.2L123.6 98.5zM141 49.4L139.9 52.4L139.8 52.4L137.7 50.9L137.8 48.8L140.5 48.5zM122.2 96.2L124.5 94.5L125.8 94.5L126.6 97L125.6 98.3L123.6 98.5zM114.7 79.2L115.3 82.3L115 82.7L111.8 82.1L111.6 79.5L111.7 79.3L114 78.6zM109.8 49L111.7 46.5L113.7 47.7L112.8 50.2L111.5 50.6zM99.2 67.3L96.1 67L95.7 64.5L100.3 64.6z" fill="#e471bd"/>
<path d="M127.1 66L127.4 67.7L126.9 69.7L126 70.6L123.6 70.7L122 69.3L121.7 67.8L122.6 65.5L124.2 65zM140.5 90.7L139.5 87.6L141.9 85.4L142.1 85.4L144.4 87.4L144.8 89L144.3 89.9zM130.6 20L135.2 20L134.2 25.1L133.2 25.9L131.8 25.6L129.9 23.3zM128.2 52.3L126.7 56L123.8 55.4L122.3 52.4L122.8 50.9L125.4 50.3L128.2 52.2zM88.6 42.6L89 47.5L83 45.9L83 37.9z" fill="#7c2edb"/>
<path d="M89 47.5L88.6 42.6L93.2 42.5L95 43.6L95.1 43.9L94.3 46.5L92.6 48.1L91.3 48.3L89 47.5zM104.7 34.4L101.7 33.8L101.1 31.4L102.9 30.2L105.5 31.4zM153.3 57.5L151.7 59.3L150 56.9L152.2 56.3z" fill="#1fa9a2"/>
<path d="M147 78.8L146 76.4L148.1 73.8L150.6 74.8L151.7 77.7L151.4 78.4L150.2 78.9zM137.7 50.9L135.1 52.4L133.3 51.5L133.3 49L135.4 47.6L136.8 47.6L137.8 48.8zM105.4 93.3L100.9 94.7L101.6 90.4L103 89.3L105.2 90zM107 48.9L103.3 47.4L104 44.8L106.9 45.4L107.2 48.8zM150.2 71.2L151.8 73.3L150.6 74.8L148.1 73.8L148 73.4L149.4 71.3z" fill="#b950ea"/>
<path d="M129.8 35.2L131.5 30.9L132.8 30.5L135.4 31.5L136.3 34.1L135.2 36.2L134.3 36.7L131.2 37.1L129.7 35.5zM129.2 82.3L129 85.8L127.4 86.7L125.4 86.2L124.1 82.7L126.1 80.9L129 82zM134.3 36.7L136.2 39.6L135.1 41.6L131.7 41.5L131.2 37.1zM119.7 54.1L121.3 57.1L121.1 57.6L118.6 58.5L116.6 57.2L116.1 54.2L116.3 53.9zM108.2 67.1L108.5 69.7L107.9 70.6L104.4 69.3L107 66zM101.1 77L98.5 79.9L97.4 79.3L96.4 77.3L96.9 76.2L100 75z" fill="#3c90ec"/>
<path d="M128.4 24.2L128.8 27.2L128.6 27.6L126.9 28.3L124.7 27.6L123.9 26L124.4 24.1L126.2 23.1zM83 97.9L83 90.2L94 83.5L94.9 83.6L95.8 86.5zM126 70.6L127.2 73.3L125.2 75.5L125.2 75.5L122.6 73.4L122.5 73.3L123.6 70.7zM89.7 74.7L85.1 79.9L83 81.3L83 72.3L87.5 71.8zM118.9 26.5L120.9 26.8L121.5 28.9L119.2 30.5L117.8 29.9z" fill="#09746a"/>
<path d="M116.6 88L117.7 85.8L119.5 85.2L121.2 86.4L122.2 89.1L119.4 91.6L118.4 91.8L116.7 90.2z" fill="#d88f30"/>
<path d="M137 58.8L138.2 60.9L137.3 63.4L136 64.2L133.1 63.5L131.9 61.3L132.1 59.7L134.4 57.9zM137.7 77.2L137.1 80.9L133.5 80.2L132.4 79.1L134.1 76.4L134.9 76L137.1 76.2zM107.8 20L115.1 20L115.5 23.5L112.6 25.5z" fill="#2e3a48"/>
<path d="M154.5 53.4L152.3 54.5L149.7 54.2L148.4 52.4L149.6 50L152.1 48.7L152.6 48.8L155.1 51.6zM147.2 63.4L146.4 65.7L145.2 66.4L144.5 65.8L143.9 63.4L144.8 62.3L146.7 62.2zM165 58.1L165 61.2L160.9 61.3L159.5 59.6L159.6 58.6L161.9 57.4zM134 72.5L134.9 76L134.1 76.4L132.1 74.9L132.2 73.9zM149.4 71.3L148 69.1L149.5 67.6L151.6 69L150.2 71.2zM146.4 65.7L147.2 63.4L149.4 64.6L149 65.9z" fill="#f153bb"/>
<path d="M159.5 59.6L157.5 61.1L155.8 61.3L154.6 60.3L154.4 57.6L156 56L158.1 56.2L159.6 58.6zM151.4 86.4L164.2 102L154.6 102L148.4 89.2L149.7 86.6zM100.8 20L103.6 20L108.2 28.8L105.5 31.4L102.9 30.2zM140.2 77.9L137.7 77.2L137.1 76.2L137.4 75.5L140.2 73.8L141.6 74.3L141.3 77.5zM149.7 54.2L149.4 56.6L147.4 57.4L145.7 54.6L147.4 52.4L148.4 52.4zM154.6 102L150.9 102L144.3 89.9L144.8 89L148.4 89.2zM111 86.1L106.9 85.6L106.8 85.4L107.7 83L110.9 83.2L111.4 85.7zM165 72.9L165 78.5L157.8 76.5L158 74.6L162.6 72.6zM124.5 94.5L123.1 92.6L123.8 91.5L126.4 93.2L125.8 94.5zM149.6 50L148 47.7L150.5 46.3L152.1 48.7zM121.2 86.4L122.7 85.7L124.5 86.8L123.2 89.3L122.2 89.1z" fill="#df4e9e"/>
<path d="M115.5 23.5L118.1 24.6L118.9 26.5L117.8 29.9L114.6 30.9L112.1 28.8L112.6 25.5zM132.1 59.7L129.5 57.3L131.5 54.8L134.2 56L134.4 57.9zM135.6 53.9L134.2 56L131.5 54.8L131.4 53.8L132.9 51.7L133.3 51.5L135.1 52.4zM100.9 86.2L100.7 83.9L102 83.2L103.8 85.4L102.5 87z" fill="#b46d1c"/>
<path d="M112.8 95.9L113.3 102L106.3 102L109.2 95.3L111.2 94.5z" fill="#866d9c"/>
<path d="M139.6 31.8L141.4 29.2L141.9 28.9L144.4 29.5L145.4 31.2L144.4 33.3L142.4 34.4L141.9 34.3L139.7 32.7zM113.7 44.3L115.6 46.1L115.1 47.2L113.7 47.7L111.7 46.5L111.6 45.3zM153.8 44.7L154.3 47.1L152.6 48.8L152.1 48.7L150.5 46.3L150.7 45L151.9 44.4zM140 44.8L137.5 45.3L136.5 43.8L139.8 42.4L140 42.5z" fill="#726c24"/>
<path d="M106.9 88.7L110.2 89.3L111.7 92L111.2 94.5L109.2 95.3L106.1 94.2L105.4 93.3L105.2 90zM118 20L123 20L122.6 23.2L121.5 24L119 23.5zM87.2 66.2L83 68.3L83 63.3L86.5 64.3zM142.9 59.8L144.8 62.3L143.9 63.4L141.9 63.4L141.2 60.1L141.7 59.8zM119.4 67.9L118.6 69.6L116.5 69L116.8 66.3L118.1 66.3z" fill="#3ba330"/>
<path d="M103.8 85.4L102 83.2L102.5 80.9L103.6 79.6L107.3 81.5L107.7 83L106.8 85.4zM143.4 54.9L142.1 52.8L143.3 50.6L145.5 50.4L147.4 52.4L145.7 54.6zM127.2 90.6L123.9 90.3L123.2 89.3L124.5 86.8L125.4 86.2L127.4 86.7L128 88.4zM111.7 46.5L109.8 49L107.2 48.8L106.9 45.4L108.2 43.5L108.9 43.3L110.1 43.6L111.6 45.3zM93.2 42.5L92.2 39.1L94.5 37.8L96.5 38.2L97.4 40.3L95 43.6zM138.2 34.1L138.9 36.2L137.9 37.7L135.2 36.2L136.3 34.1zM83 50.9L83 45.9L89 47.5L89 47.5L87.9 50.7zM142.2 46.1L144.2 47.9L142.9 49.9L141 49.4L140.5 48.5L141.4 46.3zM154.4 57.6L153.3 57.5L152.2 56.3L152.3 54.5L154.5 53.4L156 56zM89.6 58.7L89.3 61.8L87.8 62.3L86.5 60.1L87.7 57.6zM107.5 77.8L108.1 79.9L107.3 81.5L103.6 79.6L103.6 78.9z" fill="#2c53d4"/>
<path d="M116.6 57.2L115.5 59.5L113.3 60.3L109.9 57.7L112.5 54.7L116.1 54.2zM91.3 66L89.7 69.5L89.2 69.6L87.2 66.2zM144.4 33.3L146.8 35.6L144.6 37.4L142.4 34.4z" fill="#9b5149"/>
<path d="M85.5 20.2L101.1 31.4L101.7 33.8L100.2 36.2L100.1 36.3L97.5 36.4L92.7 31.2zM99.1 45.7L95.1 43.9L95 43.6L97.4 40.3L100.4 40.6L101.3 42.9zM111.5 50.6L110.8 52.8L109 53.9L106.8 52.7L106.2 51.5L107 48.9L107.2 48.8L109.8 49zM111.8 82.1L115 82.7L115.3 84.6L114.1 85.9L111.4 85.7L110.9 83.2zM123.9 90.3L123.8 91.5L123.1 92.6L121.6 93.2L119.4 91.6L122.2 89.1L123.2 89.3zM160.9 61.3L159.9 62.9L158.6 62.8L157.5 61.1L159.5 59.6z" fill="#1531a1"/>
<path d="M124.1 76.8L126.1 80.4L126.1 80.9L124.1 82.7L123.9 82.7L120.4 82.1L119.3 80.7L120.7 76.7L121.2 76.6zM116.7 49L115.1 47.2L115.6 46.1L116.2 45.7L119.2 46.8L119.4 47.3zM129.5 70.5L126.9 69.7L127.4 67.7L130 68.2L130.4 69.5z" fill="#2f7b9c"/>
<path d="M144.3 89.9L150.9 102L149 102L140.3 94.2L139.8 91.6L139.8 91.6L140.5 90.7zM101.6 90.4L99.1 90L98.1 88.7L98 87L100.9 86.2L102.5 87L103 89.3zM132.6 64.1L129.6 65.2L128.6 64.8L128.6 62.9L131.9 61.3L133.1 63.5zM124.1 76.8L125.2 75.5L125.2 75.5L127.4 77.2L126.1 80.4zM153.9 73.4L154.2 70.7L155.6 70.1L157.1 70.9L156.5 73L154.1 73.5zM148.1 73.8L146 76.4L145.5 76.2L144.5 74.6L145.3 73L148 73.4zM96.6 72.2L95.8 74.6L93.1 74.2L92.7 73.7L92.9 73.3L95.9 71.7z" fill="#fa4c71"/>
<path d="M115.3 75.9L114 78.6L111.7 79.3L108.8 76.5L109.5 73.4L111.1 72.8L115 73.3L115.1 73.5zM123.5 32.1L125.3 33.3L125.4 35L122.8 36L122.1 33.1zM142.1 85.4L143.9 83.4L145.4 83.4L146.2 85L144.4 87.4zM140.3 66.8L141.7 69.4L141.4 70.1L139.2 70.8L138.6 67.8zM121.2 76.6L122.6 73.4L125.2 75.5L124.1 76.8zM111.6 79.5L108.1 79.9L107.5 77.8L108.8 76.5L111.7 79.3z" fill="#6a1ba8"/>
<path d="M113.8 69.8L111.7 67.1L111.7 67L115 65.2L116 65.5L116.8 66.3L116.5 69L114.7 70.3z" fill="#cf81e2"/>
<path d="M89.7 69.5L92 70.4L92.9 73.3L92.7 73.7L89.9 74.7L89.7 74.7L87.5 71.8L89.2 69.6zM165 43.1L165 45.8L160.2 48.7L157.5 47.5L158.3 44.8zM106.3 102L101.4 102L106.1 94.2L109.2 95.3zM154.6 60.3L151.8 60.4L151.7 59.3L153.3 57.5L154.4 57.6z" fill="#db7a37"/>
<path d="M156.9 80.2L155.2 81.5L152.9 81.5L151.4 78.4L151.7 77.7L154.2 76.4L156.6 77.3zM114.7 70.3L116.5 69L118.6 69.6L119.5 70.9L119.5 72.3L118.6 73.2L115.1 73.5L115 73.3zM100.1 36.3L100.7 40L100.4 40.6L97.4 40.3L96.5 38.2L97.5 36.4zM100.3 64.6L95.7 64.5L95.5 64.3L96.2 60.8L97.9 60L100.4 60.8L101.3 63.8zM94.6 77.8L93.1 76.8L93.1 74.2L95.8 74.6L96.9 76.2L96.4 77.3zM136.1 43.7L133.7 45.4L133.3 45.4L131 43.4L131.7 41.5L135.1 41.6zM110.9 83.2L107.7 83L107.3 81.5L108.1 79.9L111.6 79.5L111.8 82.1zM149 102L140.7 102L137.9 96L140.3 94.2zM138.2 34.1L136.3 34.1L135.4 31.5L136 30.9L138.7 31L139.6 31.8L139.7 32.7zM107.9 70.6L108.5 69.7L110.7 69.1L111.7 70.5L111.1 72.8L109.5 73.4zM139.6 20L146.9 20L142 26.2L139.7 26.7L138.1 25.2zM95.9 71.7L92.9 73.3L92 70.4L94.2 68.8L94.6 68.8zM149.4 64.6L147.2 63.4L146.7 62.2L147.6 61.1L150.9 61.6L151.1 63.1zM117.6 36.7L114.8 34.6L115 33.3L118.6 34.6L118.8 35.4zM115.6 46.1L113.7 44.3L114.4 42.1L116.3 42.4L116.2 45.7zM125.3 33.3L123.5 32.1L123.9 30.1L126 30.5L126.6 31.6z" fill="#2039c9"/>
<path d="M144.7 69.1L141.7 69.4L140.3 66.8L140.8 65.6L144.5 65.8L145.2 66.4L145.3 68.5zM127.7 102L121.7 102L123.6 98.5L125.6 98.3L127.7 101.6z" fill="#3e8398"/>
<path d="M83 72.3L83 68.3L87.2 66.2L87.2 66.2L89.2 69.6L87.5 71.8zM87.7 57.6L86.5 60.1L83 61.1L83 54.8L87.3 56.6zM148.4 42.7L150.7 45L150.5 46.3L148 47.7L146.6 47.4L146.1 44.1L147 42.8zM122.6 73.4L121.2 76.6L120.7 76.7L119.6 76.1L118.6 73.2L119.5 72.3L122.5 73.3zM137.7 50.9L139.8 52.4L138.8 54.5L135.6 53.9L135.1 52.4zM151.6 40.2L151.9 44.4L150.7 45L148.4 42.7zM118.6 58.5L118.3 59.9L117 60.7L115.5 59.5L116.6 57.2z" fill="#1c9285"/>
<path d="M138.7 57.6L137 58.8L134.4 57.9L134.2 56L135.6 53.9L138.8 54.5L139.3 55.8zM165 69.3L165 72.9L162.6 72.6L158.7 70.2L158.8 67.4L160.2 66.8zM143.9 63.4L144.5 65.8L140.8 65.6L140.7 65.2L141.9 63.4z" fill="#4080ba"/>
<path d="M141.2 60.1L141.9 63.4L140.7 65.2L137.3 63.4L138.2 60.9L140.7 60.1zM128.2 52.3L131.4 53.8L131.5 54.8L129.5 57.3L127.6 57.2L126.7 56zM93.1 74.2L93.1 76.8L91.2 77.9L91.1 77.8L89.9 74.7L92.7 73.7zM115.1 47.2L116.7 49L115.7 51.7L112.8 50.2L113.7 47.7zM91.9 102L83 102L83 101L98.1 88.7L99.1 90z" fill="#d98f33"/>
<path d="M134.9 91.2L136.5 93.8L136.4 95.2L135 96.1L131.9 95.4L131.1 92zM129 73.5L129.7 76.4L127.4 77.2L125.2 75.5L127.2 73.3z" fill="#9d6590"/>
<path d="M93.8 56.6L90 58.7L89.6 58.7L87.7 57.6L87.3 56.6L89.3 54.4L93.1 54.5L94 56.1zM118.2 80.5L117.1 79.3L117.3 77.1L119.6 76.1L120.7 76.7L119.3 80.7zM122.6 23.2L124.4 24.1L123.9 26L121.6 25.9L121.5 24zM131.4 53.8L128.2 52.3L128.2 52.2L130 50.5L132.9 51.7z" fill="#e427b9"/>
<path d="M144.8 62.3L142.9 59.8L144.4 58.2L147.1 57.9L147.6 61.1L146.7 62.2zM148 69.1L149.4 71.3L148 73.4L145.3 73L144.3 71.4L144.7 69.1L145.3 68.5zM145.7 48.1L144.2 47.9L142.2 46.1L143.5 44.3L146.1 44.1L146.6 47.4zM165 31L165 31.2L156.2 43L155.7 43L152.5 39.7zM102.9 64.5L104.1 69.3L101 70.7L99.2 67.3L100.3 64.6L101.3 63.8zM106.9 45.4L104 44.8L103.4 43.4L103.8 43L106.5 42.2L108.2 43.5zM113.3 60.3L112.9 62.4L112.8 62.4L109.5 62L109.7 57.7L109.9 57.7zM133.7 45.4L135.4 47.6L133.3 49L132.2 47.9L133.3 45.4z" fill="#9424c1"/>
<path d="M129.5 57.3L132.1 59.7L131.9 61.3L128.6 62.9L126.3 60.8L127.6 57.2zM157.4 66.7L155.3 68.1L153.8 67.5L154 64.6L155.4 64L156.6 64.6zM140.7 102L134.2 102L135 96.1L136.4 95.2L137.9 96zM142.4 41.9L143.5 44.3L142.2 46.1L141.4 46.3L140 44.8L140 42.5zM132.4 66.6L130.5 66.8L129.6 65.2L132.6 64.1z" fill="#863fd8"/>
<path d="M91.3 66L87.2 66.2L87.2 66.2L86.5 64.3L87.8 62.3L89.3 61.8L91.3 62.6L92.2 64.4L91.5 65.9zM98.4 83L95.1 83.4L94.8 80.3L97.4 79.3L98.5 79.9L98.8 80.4zM145.7 54.6L147.4 57.4L147.1 57.9L144.4 58.2L143 55.7L143.4 54.9zM145.5 76.2L143 78.5L141.3 77.5L141.6 74.3L141.6 74.3L144.5 74.6zM98.1 88.7L83 101L83 97.9L95.8 86.5L97.8 86.8L98 87z" fill="#280b33"/>
<path d="M123.9 30.1L123.5 32.1L122.1 33.1L119.8 32.4L119.2 30.5L121.5 28.9L123.4 29.4zM113.8 41.6L113.5 37.9L117.2 37.9L118.2 39.8L117.4 41.8L116.3 42.4L114.4 42.1zM149.4 20L162.6 20L148.3 31.3L145.4 31.2L144.4 29.5zM106.8 64.8L107 66L104.4 69.3L104.1 69.3L102.9 64.5zM165 45.8L165 51.8L160.3 50.8L160.2 48.7z" fill="#d74b47"/>
<path d="M140.5 48.5L137.8 48.8L136.8 47.6L137.5 45.3L140 44.8L141.4 46.3zM139.8 42.4L136.5 43.8L136.1 43.7L135.1 41.6L136.2 39.6L138.2 39L138.4 39.1zM112.8 62.4L111.3 65.5L108.4 63.7L109.5 62zM146.6 79.2L143.2 79L143 78.5L145.5 76.2L146 76.4L147 78.8z" fill="#e45cf6"/>
<path d="M91.3 62.6L92 60.5L94.1 59.3L96.2 60.8L95.5 64.3L92.2 64.4zM117.7 85.8L115.3 84.6L115 82.7L115.3 82.3L118.2 80.5L119.3 80.7L120.4 82.1L119.5 85.2zM121.7 67.8L119.4 67.9L118.1 66.3L119.6 64.6L122.4 65.3L122.6 65.5zM94.8 80.3L95.1 83.4L94.9 83.6L94 83.5L92.1 81.3L92.6 80.3L94.2 80z" fill="#3ca333"/>
<path d="M133.5 80.2L133.6 82.5L131.8 83.8L129.2 82.3L129 82L132 79.1L132.4 79.1zM138.6 67.8L139.2 70.8L139 71.3L136.3 72.3L134.5 71.8L134.8 67.9L136.2 66.9zM124.2 65L124.6 61.5L126.3 60.8L128.6 62.9L128.6 64.8L127.1 66zM143.2 79L142.4 81.5L140.7 82.1L139 81.1L140.2 77.9L141.3 77.5L143 78.5z" fill="#718426"/>
<path d="M165 78.5L165 86.1L156.9 80.2L156.6 77.3L157.8 76.5zM162.6 72.6L158 74.6L156.5 73L157.1 70.9L158.7 70.2zM154.2 76.4L154.1 73.5L156.5 73L158 74.6L157.8 76.5L156.6 77.3zM111.3 65.5L112.8 62.4L112.9 62.4L114 63.1L115 65.2L111.7 67L111.7 67zM144.3 71.4L142.8 71.8L141.4 70.1L141.7 69.4L144.7 69.1z" fill="#1e3158"/>
<path d="M131.8 69.5L134.4 71.8L134 72.5L132.2 73.9L129.3 73.2L129.5 70.5L130.4 69.5zM119.2 46.8L116.2 45.7L116.3 42.4L117.4 41.8L120.5 43.6zM146.9 20L149.4 20L144.4 29.5L141.9 28.9L142 26.2zM165 61.2L165 64.4L161.3 64.9L159.9 62.9L160.9 61.3z" fill="#53159a"/>
<path d="M106.2 51.5L103 52.4L101.4 51.7L101 50.6L102.6 47.7L103.3 47.4L107 48.9zM134.2 25.1L137.1 25.8L136.7 28.2L136 28.6L133.9 28.1L133.2 25.9zM125.4 35L125.3 33.3L126.6 31.6L128.2 31.9L129.8 35.2L129.7 35.5zM109 57L109 53.9L110.8 52.8L112.5 54.7L109.9 57.7L109.7 57.7zM141.4 29.2L139.5 28.1L139.7 26.7L142 26.2L141.9 28.9z" fill="#c44ddc"/>
<path d="M112.5 54.7L110.8 52.8L111.5 50.6L112.8 50.2L115.7 51.7L116.3 53.9L116.1 54.2zM113.7 44.3L111.6 45.3L110.1 43.6L111.9 41.7L113.8 41.6L114.4 42.1zM142.1 56.3L139.3 55.8L138.8 54.5L139.8 52.4L139.9 52.4L142.1 52.8L143.4 54.9L143 55.7zM139.7 26.7L139.5 28.1L138.5 28.8L136.7 28.2L137.1 25.8L138.1 25.2zM121.6 59.7L120.3 61.3L118.3 59.9L118.6 58.5L121.1 57.6zM129.8 35.2L128.2 31.9L130 30.3L131.5 30.9zM103 52.4L103.8 55.7L102.8 56.2L100.5 54.6L101.4 51.7z" fill="#2f189f"/>
<path d="M83 85.5L83 81.3L85.1 79.9L91.1 77.8L91.2 77.9L92.6 80.3L92.1 81.3zM117.8 29.9L119.2 30.5L119.8 32.4L118.6 34.6L115 33.3L114.6 30.9zM103 89.3L102.5 87L103.8 85.4L106.8 85.4L106.9 85.6L106.9 88.7L105.2 90zM137.3 63.4L140.7 65.2L140.8 65.6L140.3 66.8L138.6 67.8L136.2 66.9L136 64.2zM118.8 35.4L122.2 36.6L121 39.8L118.2 39.8L117.2 37.9L117.6 36.7zM117.3 102L113.3 102L112.8 95.9L115.6 96.1L117.5 100zM150.2 78.9L150.1 81.8L148.4 82.8L146.9 82L146.6 79.2L147 78.8zM85.1 79.9L89.7 74.7L89.9 74.7L91.1 77.8zM113.8 69.8L111.7 70.5L110.7 69.1L111.7 67.1z" fill="#404ab0"/>
<path d="M158.9 52.1L159.7 54.4L158.1 56.2L156 56L154.5 53.4L155.1 51.6L156 51.3z" fill="#786e91"/>
<path d="M150 56.9L151.7 59.3L151.8 60.4L150.9 61.6L147.6 61.1L147.1 57.9L147.4 57.4L149.4 56.6zM124.2 45.5L121.5 48.3L119.4 47.3L119.2 46.8L120.5 43.6L121.5 43.1zM100 75L96.9 76.2L95.8 74.6L96.6 72.2L99.9 72.3zM105.1 38.2L103.8 43L103.4 43.4L101.3 42.9L100.4 40.6L100.7 40L104.2 38.2zM91.3 48.3L91.3 51.1L89.1 51.6L87.9 50.7L89 47.5zM122.4 65.3L122.1 62.5L123.8 61.4L124.6 61.5L124.2 65L122.6 65.5zM85.3 20L100.8 20L102.9 30.2L101.1 31.4L85.5 20.2zM105.4 55.6L106.8 52.7L109 53.9L109 57zM155.3 68.1L155.6 70.1L154.2 70.7L152.1 68.9L153.8 67.5z" fill="#3b4fb9"/>
<path d="M96 48.8L94.3 46.5L95.1 43.9L99.1 45.7L99.2 46.2L98.4 48.6zM104.2 38.2L100.2 36.2L101.7 33.8L104.7 34.4L105.5 38L105.1 38.2zM116.9 62.2L114 63.1L112.9 62.4L113.3 60.3L115.5 59.5L117 60.7zM135.4 83.4L133.6 82.5L133.5 80.2L137.1 80.9L137.2 81z" fill="#12874e"/>
<path d="M151.8 60.4L154.6 60.3L155.8 61.3L155.4 64L154 64.6L151.1 63.1L150.9 61.6zM121.6 93.2L121.6 95.8L119.6 96.3L117.9 94.3L118.4 91.8L119.4 91.6zM129.6 65.2L130.5 66.8L130 68.2L127.4 67.7L127.1 66L128.6 64.8z" fill="#de2a28"/>
<path d="M139.8 42.4L138.4 39.1L140.8 38L143.8 39.2L143.9 40.1L142.4 41.9L140 42.5zM152.1 68.9L154.2 70.7L153.9 73.4L151.8 73.3L150.2 71.2L151.6 69zM131 43.4L133.3 45.4L132.2 47.9L130.2 48.1L128.1 45.8zM130 30.3L128.2 31.9L126.6 31.6L126 30.5L126.9 28.3L128.6 27.6zM155.2 81.5L157.2 85.8L152.9 84.9L152.3 82.2L152.9 81.5z" fill="#7b29bf"/>
<path d="M126.1 80.4L127.4 77.2L129.7 76.4L130.2 76.6L132 79.1L129 82L126.1 80.9zM148.3 85L146.2 85L145.4 83.4L146.9 82L148.4 82.8z" fill="#d64831"/>
<path d="M128.8 27.2L131.8 25.6L133.2 25.9L133.9 28.1L132.8 30.5L131.5 30.9L130 30.3L128.6 27.6zM140.8 38L140.5 36.4L141.9 34.3L142.4 34.4L144.6 37.4L143.8 39.2zM95.7 64.5L96.1 67L94.6 68.8L94.2 68.8L91.5 65.9L92.2 64.4L95.5 64.3zM106.9 85.6L111 86.1L111 88.2L110.2 89.3L106.9 88.7zM123 20L126 20L126.2 23.1L124.4 24.1L122.6 23.2zM117 60.7L118.3 59.9L120.3 61.3L120.4 61.4L119 63.1L117.3 62.7L116.9 62.2zM108.5 69.7L108.2 67.1L111.7 67L111.7 67L111.7 67.1L110.7 69.1zM109.7 39.2L111.9 41.7L110.1 43.6L108.9 43.3L109.5 39.2zM140.2 77.9L139 81.1L137.2 81L137.1 80.9L137.7 77.2zM132.2 73.9L132.1 74.9L130.2 76.6L129.7 76.4L129 73.5L129.3 73.2z" fill="#27208e"/>
<path d="M148.4 89.2L144.8 89L144.4 87.4L146.2 85L148.3 85L149.7 86.6zM103.6 20L107.8 20L112.6 25.5L112.1 28.8L108.2 28.8zM148.3 85L148.4 82.8L150.1 81.8L152.3 82.2L152.9 84.9L151.4 86.4L149.7 86.6zM89.1 51.6L89.3 54.4L87.3 56.6L83 54.8L83 50.9L87.9 50.7zM138.7 57.6L140.7 60.1L138.2 60.9L137 58.8zM143 55.7L144.4 58.2L142.9 59.8L141.7 59.8L142.1 56.3zM100.7 40L100.1 36.3L100.2 36.2L104.2 38.2z" fill="#362ca2"/>
<path d="M130.2 48.1L130 50.5L128.2 52.2L125.4 50.3L126.4 46.1L128.1 45.8zM157 47.8L154.3 47.1L153.8 44.7L155.7 43L156.2 43L158.3 44.8L157.5 47.5zM118.6 73.2L119.6 76.1L117.3 77.1L115.3 75.9L115.1 73.5zM139.8 91.6L136.5 93.8L134.9 91.2L136 89.9L139.8 91.6z" fill="#b77444"/>
<path d="M160.2 48.7L160.3 50.8L158.9 52.1L156 51.3L157 47.8L157.5 47.5zM119.6 64.6L118.1 66.3L116.8 66.3L116 65.5L117.3 62.7L119 63.1zM126.4 46.1L125.4 50.3L122.8 50.9L121.5 48.3L124.2 45.5zM119 23.5L121.5 24L121.6 25.9L120.9 26.8L118.9 26.5L118.1 24.6zM93.1 54.5L89.3 54.4L89.1 51.6L91.3 51.1L92.9 52zM133.3 67.7L131.8 69.5L130.4 69.5L130 68.2L130.5 66.8L132.4 66.6zM106.8 52.7L105.4 55.6L103.8 55.7L103 52.4L106.2 51.5zM116.6 88L114.4 87.1L114.1 85.9L115.3 84.6L117.7 85.8z" fill="#6a2081"/>
<path d="M143.9 83.4L142.4 81.5L143.2 79L146.6 79.2L146.9 82L145.4 83.4zM151.9 44.4L151.6 40.2L151.9 39.7L152.5 39.7L155.7 43L153.8 44.7zM139.5 87.6L140.5 90.7L139.8 91.6L136 89.9L136.4 87.5z" fill="#3f8b4e"/>
<path d="M103.4 43.4L104 44.8L103.3 47.4L102.6 47.7L99.2 46.2L99.1 45.7L101.3 42.9zM133.6 102L127.7 102L127.7 101.6L129.1 97.8L130.7 97.5zM135.2 36.2L137.9 37.7L138.2 39L136.2 39.6L134.3 36.7zM126.9 28.3L126 30.5L123.9 30.1L123.4 29.4L124.7 27.6z" fill="#fe633d"/>
<path d="M135 96.1L134.2 102L133.6 102L130.7 97.5L131.9 95.4zM126.9 69.7L129.5 70.5L129.3 73.2L129 73.5L127.2 73.3L126 70.6zM127.9 91.8L127.2 90.6L128 88.4L130 88.4L131.1 92z" fill="#b06bda"/>
<path d="M134.8 67.9L133.3 67.7L132.4 66.6L132.6 64.1L133.1 63.5L136 64.2L136.2 66.9zM91.3 51.1L91.3 48.3L92.6 48.1L94.1 50.1L92.9 52zM142.4 81.5L143.9 83.4L142.1 85.4L141.9 85.4L140.7 82.1z" fill="#dd7b3c"/>
<path d="M162.6 20L165 20L165 20.2L150.5 36.5L147.7 35.3L148.3 31.3zM165 20.2L165 31L152.5 39.7L151.9 39.7L150.5 36.5zM130.2 76.6L132.1 74.9L134.1 76.4L132.4 79.1L132 79.1zM136.5 43.8L137.5 45.3L136.8 47.6L135.4 47.6L133.7 45.4L136.1 43.7zM140.2 73.8L137.4 75.5L136.3 72.3L139 71.3zM89.3 61.8L89.6 58.7L90 58.7L92 60.5L91.3 62.6zM165 52.5L165 58.1L161.9 57.4L160.8 54.6zM130 88.4L128 88.4L127.4 86.7L129 85.8L130.5 86.4zM141.6 74.3L142.8 71.8L144.3 71.4L145.3 73L144.5 74.6z" fill="#a274dc"/>
<path d="M97.8 56.7L97.9 60L96.2 60.8L94.1 59.3L93.8 56.6L94 56.1z" fill="#126d41"/>
<path d="M150.6 74.8L151.8 73.3L153.9 73.4L154.1 73.5L154.2 76.4L151.7 77.7zM142.1 56.3L141.7 59.8L141.2 60.1L140.7 60.1L138.7 57.6L139.3 55.8zM103.6 79.6L102.5 80.9L98.8 80.4L98.5 79.9L101.1 77L103.6 78.9zM123.1 92.6L124.5 94.5L122.2 96.2L121.6 95.8L121.6 93.2zM100.5 54.6L102.8 56.2L101.2 58L98.7 56.4z" fill="#e96fab"/>
<path d="M92.2 39.1L93.2 42.5L88.6 42.6L83 37.9L83 35.7z" fill="#f87568"/>
<path d="M121.6 25.9L123.9 26L124.7 27.6L123.4 29.4L121.5 28.9L120.9 26.8zM141.4 70.1L142.8 71.8L141.6 74.3L141.6 74.3L140.2 73.8L139 71.3L139.2 70.8zM114.1 85.9L114.4 87.1L113.2 88.9L111 88.2L111 86.1L111.4 85.7zM115.1 20L118 20L119 23.5L118.1 24.6L115.5 23.5zM157.5 61.1L158.6 62.8L156.6 64.6L155.4 64L155.8 61.3z" fill="#4665e2"/>
<path d="M83 63.3L83 61.1L86.5 60.1L87.8 62.3L86.5 64.3zM140.3 94.2L137.9 96L136.4 95.2L136.5 93.8L139.8 91.6zM157.1 70.9L155.6 70.1L155.3 68.1L157.4 66.7L158.8 67.4L158.7 70.2zM114 63.1L116.9 62.2L117.3 62.7L116 65.5L115 65.2z" fill="#38a992"/>
<path d="M136.7 28.2L138.5 28.8L138.7 31L136 30.9L136 28.6zM98.6 83.3L97.8 86.8L95.8 86.5L94.9 83.6L95.1 83.4L98.4 83zM126 20L130.6 20L129.9 23.3L128.4 24.2L126.2 23.1zM97.5 36.4L96.5 38.2L94.5 37.8L92.7 31.2zM124.5 86.8L122.7 85.7L123.9 82.7L124.1 82.7L125.4 86.2z" fill="#2d183d"/>
<path d="M119 63.1L120.4 61.4L122.1 62.5L122.4 65.3L119.6 64.6zM83 20L85.3 20L85.5 20.2L92.7 31.2L94.5 37.8L92.2 39.1L83 35.7zM133.9 28.1L136 28.6L136 30.9L135.4 31.5L132.8 30.5z" fill="#5e3996"/>
<path d="M141.9 34.3L140.5 36.4L138.9 36.2L138.2 34.1L139.7 32.7zM145.2 66.4L146.4 65.7L149 65.9L149.5 67.6L148 69.1L145.3 68.5zM89.7 69.5L91.3 66L91.5 65.9L94.2 68.8L92 70.4zM100.7 83.9L100.9 86.2L98 87L97.8 86.8L98.6 83.3zM139.9 52.4L141 49.4L142.9 49.9L143.3 50.6L142.1 52.8zM134.4 71.8L131.8 69.5L133.3 67.7L134.8 67.9L134.5 71.8z" fill="#3b85ec"/>
<path d="M97.9 60L97.8 56.7L98.7 56.4L101.2 58L100.4 60.8zM165 31.2L165 43.1L158.3 44.8L156.2 43zM106.5 42.2L103.8 43L105.1 38.2L105.5 38L105.9 38.2z" fill="#5f692d"/>
<path d="M123.9 82.7L122.7 85.7L121.2 86.4L119.5 85.2L120.4 82.1zM148 47.7L149.6 50L148.4 52.4L147.4 52.4L145.5 50.4L145.7 48.1L146.6 47.4zM111.7 67L108.2 67.1L107 66L106.8 64.8L108.4 63.7L111.3 65.5z" fill="#da9131"/>
<path d="M117.5 100L115.6 96.1L117.9 94.3L119.6 96.3z" fill="#ed5c93"/>
<path d="M157 47.8L156 51.3L155.1 51.6L152.6 48.8L154.3 47.1zM111.1 72.8L111.7 70.5L113.8 69.8L114.7 70.3L115 73.3z" fill="#e27a16"/>
<path d="M83 90.2L83 85.5L92.1 81.3L94 83.5zM152.3 54.5L152.2 56.3L150 56.9L149.4 56.6L149.7 54.2z" fill="#5b80e1"/>
<path d="M147 42.8L146.1 44.1L143.5 44.3L142.4 41.9L143.9 40.1zM152.3 82.2L150.1 81.8L150.2 78.9L151.4 78.4L152.9 81.5zM137.9 37.7L138.9 36.2L140.5 36.4L140.8 38L138.4 39.1L138.2 39zM129.1 97.8L127.7 101.6L125.6 98.3L126.6 97zM129.2 82.3L131.8 83.8L131.9 85.4L130.5 86.4L129 85.8z" fill="#f43579"/>
<path d="M100.7 83.9L98.6 83.3L98.4 83L98.8 80.4L102.5 80.9L102 83.2zM94.6 77.8L94.2 80L92.6 80.3L91.2 77.9L93.1 76.8zM135.2 20L139.6 20L138.1 25.2L137.1 25.8L134.2 25.1zM129.9 23.3L131.8 25.6L128.8 27.2L128.4 24.2zM123.8 61.4L122.1 62.5L120.4 61.4L120.3 61.3L121.6 59.7zM145.5 50.4L143.3 50.6L142.9 49.9L144.2 47.9L145.7 48.1z" fill="#2f7a54"/>
<path d="M119.8 32.4L122.1 33.1L122.8 36L122.2 36.6L118.8 35.4L118.6 34.6z" fill="#da9024"/>
<path d="M134.9 76L134 72.5L134.4 71.8L134.5 71.8L136.3 72.3L137.4 75.5L137.1 76.2z" fill="#478ca4"/>
<path d="M113.7 90.2L113.2 88.9L114.4 87.1L116.6 88L116.7 90.2zM148.3 31.3L147.7 35.3L146.8 35.6L144.4 33.3L145.4 31.2zM165 51.8L165 52.5L160.8 54.6L159.7 54.4L158.9 52.1L160.3 50.8zM99.2 46.2L102.6 47.7L101 50.6L98.4 48.6zM101.4 102L95.5 102L100.9 94.7L105.4 93.3L106.1 94.2zM165 64.4L165 69.3L160.2 66.8L161.3 64.9z" fill="#f232c9"/>
<path d="M122.3 52.4L123.8 55.4L121.3 57.1L119.7 54.1z" fill="#f0547e"/>
<path d="M109.5 39.2L108.9 43.3L108.2 43.5L106.5 42.2L105.9 38.2z" fill="#ad6e3d"/>
<path d="M160.8 54.6L161.9 57.4L159.6 58.6L158.1 56.2L159.7 54.4zM165 90.9L165 102L164.2 102L151.4 86.4L152.9 84.9L157.2 85.8zM92 60.5L90 58.7L93.8 56.6L94.1 59.3z" fill="#2b839c"/>
<path d="M122.5 73.3L119.5 72.3L119.5 70.9L122 69.3L123.6 70.7zM97.4 79.3L94.8 80.3L94.2 80L94.6 77.8L96.4 77.3z" fill="#ae7787"/>
<path d="M132.2 47.9L133.3 49L133.3 51.5L132.9 51.7L130 50.5L130.2 48.1z" fill="#fa3b42"/>
<path d="M131.9 85.4L131.8 83.8L133.6 82.5L135.4 83.4L135.3 85.8z" fill="#bf6b97"/>
<path d="M95.5 102L91.9 102L99.1 90L101.6 90.4L100.9 94.7zM165 86.1L165 90.9L157.2 85.8L155.2 81.5L156.9 80.2z" fill="#ad86a9"/>
<path d="M113.5 37.9L113.8 41.6L111.9 41.7L109.7 39.2L113.5 37.9zM114.8 34.6L117.6 36.7L117.2 37.9L113.5 37.9L113.5 37.9zM117.3 77.1L117.1 79.3L114.7 79.2L114 78.6L115.3 75.9z" fill="#858079"/>
<path d="M118.6 69.6L119.4 67.9L121.7 67.8L122 69.3L119.5 70.9z" fill="#e173b0"/>
<path d="M126.4 93.2L123.8 91.5L123.9 90.3L127.2 90.6L127.9 91.8zM94.1 50.1L92.6 48.1L94.3 46.5L96 48.8z" fill="#7f951e"/>
<path d="M120.5 43.6L117.4 41.8L118.2 39.8L121 39.8L121.5 43.1z" fill="#26616a"/>
<path d="M115.3 82.3L114.7 79.2L117.1 79.3L118.2 80.5z" fill="#ff7e65"/>
<path d="M111.7 92L110.2 89.3L111 88.2L113.2 88.9L113.7 90.2z" fill="#668479"/>
<path d="M139.5 28.1L141.4 29.2L139.6 31.8L138.7 31L138.5 28.8z" fill="#dfa195"/>
</g></g>
<rect x="149.7" y="99.5" width="12" height="1.6" fill="#111"/>
<text x="156.5" y="104.2" font-size="3.4" font-weight="bold" text-anchor="middle" fill="#222">10µm</text>
<rect x="247.3" y="20" width="81.3" height="86" fill="#fff" stroke="#adadad" stroke-width="0.9"/>
<clipPath id="clip-b"><circle cx="288.2" cy="60" r="38.5"/></clipPath>
<g clip-path="url(#clip-b)"><g filter="url(#soft)" stroke="#0a0812" stroke-width="0.55" stroke-linejoin="round">
<rect x="247" y="19" width="82" height="82" fill="#15101c" stroke="none"/>
<path d="M271.6 36.8L278.5 44.3L276.2 49.4L275.4 50.2L270.6 51.9L268.4 51.3L264.6 48.3L264 47.4L263.6 41.5L264 40.6L267.6 37.6z" fill="#b47882"/>
<path d="M254.1 70.3L257.9 67.2L258.9 67.2L264.5 69.8L264.7 70.2L265 75.5L264.2 77.7L258.1 80.1L256.7 79.6L253.4 76.1L253.1 72.7z" fill="#eb46aa"/>
<path d="M268.4 89.3L254.9 93.7L258.1 80.1L264.2 77.7L268.4 80.3L270.2 84.9z" fill="#6e7896"/>
<path d="M273.8 94.4L270.7 92.8L269.3 91.2L268.4 89.3L270.2 84.9L275.1 83.2L278 84.5L279.5 86.7L277.5 93.7z" fill="#f06eaa"/>
<path d="M279.5 86.7L283.5 85.6L287 88L287.3 91.6L286.1 94.3L282.8 96.5L280.1 96.2L277.5 93.7z" fill="#aa6e8c"/>
<path d="M294.8 82.3L292.9 86.3L290.3 87.8L287 88L283.5 85.6L282.3 82.1L282.5 80.8L285.3 76.7L288.5 75.9L292.8 77.3L293.7 78z" fill="#6e328c"/>
<path d="M298.7 102L290.1 102L288.5 97.5L288.6 96.3L290.2 92.6L291.5 91.6L294.4 91.1L296.1 91.5L298.3 92.9L299.5 95.2z" fill="#f06e6e"/>
<path d="M288.9 23.2L290 28.9L288.4 30.8L284.9 32L281.2 29.9L280.5 29L282.1 24L284 22.7L286.6 22.4z" fill="#aa46c8"/>
<path d="M291 22L294.4 22.7L296.4 24.6L295.6 28L293.3 29.6L290 28.9L288.9 23.2z" fill="#f0823c"/>
<path d="M264.8 32.2L268.4 29.8L270.6 29.9L273.1 34.9L271.6 36.8L267.6 37.6L264.9 33.9L264.7 32.4z" fill="#e632a0"/>
<path d="M280.8 36.7L279.6 43.7L279.4 44L278.5 44.3L271.6 36.8L273.1 34.9L275 34.3L280.4 36.3z" fill="#dc6ee6"/>
<path d="M281.8 54.1L286 50.7L288.4 51L291.3 55.1L291.4 55.4L288.6 59.9L285.8 60.3L282.7 58L281.6 54.5z" fill="#fa7828"/>
<path d="M288.4 67.6L286.2 67.3L283.7 64.8L283.7 63.8L285.8 60.3L288.6 59.9L291.4 62L292 64.4z" fill="#f03c3c"/>
<path d="M291 40.6L291.1 36L294.4 33.7L299.6 35L300.1 35.6L300.9 39.2L299.2 43.1L295.7 44.6L291.9 42.9z" fill="#f0648c"/>
<path d="M310.6 66L312.4 61.9L314.3 60.6L316.3 60.3L320.4 61.3L321.9 64.2L321.2 69.5L320.2 70.9L311.2 69.5z" fill="#9632c8"/>
<path d="M321.2 75L320.5 77.4L317.7 80.8L311.1 79.6L311.1 79.5L309.2 74.9L309.1 71.9L311.2 69.5L320.2 70.9z" fill="#be788c"/>
<path d="M308.7 56.3L305.7 53.4L305.5 49.3L308.8 46.6L311 46.4L314.5 48.2L315.3 49.3L314.9 52.9L313.3 55.4z" fill="#6e8caa"/>
<path d="M314.2 87.3L312.1 90L308.8 91.2L306.2 90.4L305.5 85.5L306.5 83.4L310.4 82.1L314 85.3z" fill="#326eaa"/>
<path d="M296.5 71.2L295.4 72L292.7 72.8L289.4 72.1L288.9 71.5L288.4 67.6L292 64.4L296.4 66.8L296.9 70.4z" fill="#3c9696"/>
<path d="M303.3 26.3L302.6 30L299.7 31.7L297.4 30.7L295.6 28L296.4 24.6L299.2 23.5L302.1 24.8z" fill="#3c5ac8"/>
<path d="M272 71.2L268.5 72L264.7 70.2L264.5 69.8L264.8 68.9L266.8 65.3L269.4 64.3L272.6 66.6L273.4 68.7L273.4 69z" fill="#8250c8"/>
<path d="M306.6 71.7L302.9 68.9L302.9 67.1L304.9 63.9L306.6 63.2L310.6 66L311.2 69.5L309.1 71.9z" fill="#eb46b4"/>
<path d="M330 39.7L330 46.9L325.6 48.5L323.3 47.9L321.5 45.6L321.5 45.5L323.3 42.6zM259.7 42.7L258.7 45.9L255.2 45.4L254.9 42L256.9 40.7zM277.3 71.3L273.4 69L273.4 68.7L276.9 66.6L280 68.9zM316.3 60.3L316.7 57L319 55.7L320.8 60.2L320.4 61.3zM264 40.6L261.5 36.9L264.9 33.9L267.6 37.6zM311 46.4L312.5 42.8L315.3 43.5L314.5 48.2zM272.7 73.3L270.3 75.6L268.4 74.4L268.5 72L272 71.2z" fill="#953dc7"/>
<path d="M330 70.2L330 77.3L321.2 75L320.2 70.9L321.2 69.5L325.2 68.4zM264 47.4L259.5 47.1L258.7 45.9L259.7 42.7L263.6 41.5z" fill="#b35a1c"/>
<path d="M254.9 62.3L252.2 66L251.9 66.2L246 63.6L246 61.2L251.3 58.8L253.2 59.4zM275.4 50.2L277.7 54.9L276.3 57L274.9 57.4L271.3 55.9L270.6 51.9z" fill="#3a1047"/>
<path d="M284 71L284 75.5L280 77L278.8 76.7L276.8 73.4L277.3 71.3L280 68.9L280.4 68.9zM282.3 82.1L278 84.5L275.1 83.2L274.6 79.1L275.6 77.8L278.8 76.7L280 77L282.5 80.8zM278.4 28.8L275.8 24.8L276.4 23.5L279.6 22.5L282.1 24L280.5 29zM272.1 28.4L276.1 30.4L275 34.3L273.1 34.9L270.6 29.9zM305.1 18L313.1 18L311.4 21.2L305.6 26.5L303.3 26.3L302.1 24.8zM285.1 49.5L287.2 45.4L288.5 45.4L289.1 50.3L288.4 51L286 50.7zM283.5 85.6L279.5 86.7L278 84.5L282.3 82.1z" fill="#b6728d"/>
<path d="M330 57.5L330 63.1L325.3 65L321.9 64.2L320.4 61.3L320.8 60.2L324 56.6L324.8 56.3zM307.4 45.1L303.6 45.3L305.5 42.1L307.1 42.3z" fill="#4b9a2c"/>
<path d="M295.5 50.2L294.1 50.9L289.1 50.3L288.5 45.4L291.9 42.9L295.7 44.6zM326.6 18L330 18L330 27.2L319 33.5L314.9 33.4L314.1 30.6zM291.3 18L296 18L294.4 22.7L291 22zM282.4 18L286.2 18L286.6 22.4L284 22.7z" fill="#5f3885"/>
<path d="M299.2 43.1L303.4 45.5L304 48.7L301.2 51.9L300.9 51.9L295.7 50.4L295.5 50.2L295.7 44.6zM306.7 102L298.7 102L299.5 95.2L303.5 95.1zM324 56.6L319.5 55.3L321.3 51.5L322.1 51.3L324 52.4L324.8 56.3zM297.8 83.6L296.6 87.3L294.5 87.4L292.9 86.3L294.8 82.3zM307.1 42.3L305.5 42.1L304.2 39.3L304.8 38.8L309.2 39.8z" fill="#ef52a0"/>
<path d="M285 32.5L289 34.8L289.5 35.5L286.9 39L285 39.6L281 36.7zM293.3 29.6L294.5 33L294.4 33.7L291.1 36L289.5 35.5L289 34.8L288.4 30.8L290 28.9zM313.5 55.8L314.3 60.6L312.4 61.9L309.5 60.7L308.6 56.6L308.7 56.3L313.3 55.4zM274.9 57.4L274.4 61L270.3 61.2L269.3 58.7L271.3 55.9zM288.4 30.8L289 34.8L285 32.5L284.9 32z" fill="#e55ca5"/>
<path d="M308.8 91.2L316.5 102L306.7 102L303.5 95.1L305.6 90.7L306.2 90.4z" fill="#14383c"/>
<path d="M254.2 50.6L253.2 52.7L249.8 54.4L246 53.7L246 44L253.2 47.2zM268.4 80.3L270.7 78.2L274.6 79.1L275.1 83.2L270.2 84.9zM282.7 58L279.7 60.9L278.2 60.9L276.3 57L277.7 54.9L281.6 54.5z" fill="#e6a371"/>
<path d="M330 91.2L330 100.6L314.2 87.3L314 85.3L317.7 81.1zM256.7 79.6L246 88.4L246 79.5L253.4 76.1zM330 77.3L330 82.7L320.5 77.4L321.2 75z" fill="#3a8825"/>
<path d="M266.8 65.3L262.5 63L261.9 60.1L266.1 57.9L269.3 58.7L270.3 61.2L269.4 64.3z" fill="#da70ef"/>
<path d="M291.4 62L294.6 58L297.6 57.6L299.8 59.1L300.5 62.5L299.6 64.6L296.4 66.8L292 64.4zM287.2 45.4L285.1 49.5L281.6 49.1L279.4 44L279.6 43.7L284.2 42.7zM280.1 96.2L277.2 102L271.8 102L273.8 94.4L277.5 93.7zM294.5 33L297.4 30.7L299.7 31.7L299.6 35L294.4 33.7zM306.6 71.7L303.5 73.7L302.5 73.4L301.4 70.4L302.9 68.9z" fill="#f240c8"/>
<path d="M294.9 77L298.8 75.8L299.5 76L301.4 77.8L301.5 81.9L300.6 83.1L297.8 83.6L294.8 82.3L293.7 78zM254.1 70.3L251.7 67.2L251.9 66.2L252.2 66L257.4 66.7L257.9 67.2z" fill="#f3821f"/>
<path d="M262.9 54.5L261.9 60L258.6 59.5L256.1 57L256.2 55.4L259.1 52.3L261.4 52.8zM286.2 67.3L284.4 70.7L284 71L280.4 68.9L283.7 64.8zM288.9 71.5L284.4 70.7L286.2 67.3L288.4 67.6z" fill="#ff7742"/>
<path d="M280 68.9L276.9 66.6L276 63.8L276.3 62.3L278.2 60.9L279.7 60.9L283.7 63.8L283.7 64.8L280.4 68.9zM291 40.6L286.9 39L289.5 35.5L291.1 36zM312.1 90L318.9 102L316.5 102L308.8 91.2z" fill="#f0988b"/>
<path d="M315.3 43.5L312.5 42.8L310.9 40.2L314.1 37L316.2 37.6L318.1 40.9L317.8 42zM295.7 50.4L298 54.6L297.6 57.6L294.6 58L291.4 55.4L291.3 55.1L294.1 50.9L295.5 50.2zM258.6 59.5L255 62.4L254.9 62.3L253.2 59.4L256.1 57zM264.9 54.8L266.1 57.9L261.9 60.1L261.9 60L262.9 54.5z" fill="#2e8b63"/>
<path d="M266.1 57.9L264.9 54.8L268.4 51.3L270.6 51.9L271.3 55.9L269.3 58.7zM306 58.6L306.9 62.2L306.6 63.2L304.9 63.9L300.5 62.5L299.8 59.1L303.1 57.4zM246 61.2L246 53.7L249.8 54.4L251.3 58.8z" fill="#e54785"/>
<path d="M310.9 30L314.1 30.6L314.9 33.4L313.6 35.9L309.5 35L309.2 34.6L309.5 31zM263.6 41.5L259.7 42.7L256.9 40.7L257.4 37.8L261.1 36.8L261.5 36.9L264 40.6zM318.2 49L321.3 51.5L319.5 55.3L319.1 55.5L314.9 52.9L315.3 49.3z" fill="#5d737e"/>
<path d="M254.9 42L255.2 45.4L253.2 47.2L246 44L246 39.7zM297.4 88.6L296.1 91.5L294.4 91.1L294.5 87.4L296.6 87.3z" fill="#e759b0"/>
<path d="M309.2 74.9L306.3 77.7L303.7 76.7L303.5 73.7L306.6 71.7L309.1 71.9zM295.4 72L294.9 77L293.7 78L292.8 77.3L292.7 72.8z" fill="#c7808e"/>
<path d="M265.1 18L274.8 18L276.4 23.5L275.8 24.8L272.5 26zM330 27.2L330 28.3L321.5 40L318.1 40.9L316.2 37.6L319 33.5zM264.8 68.9L262.1 63.9L262.5 63L266.8 65.3zM264.9 33.9L261.5 36.9L261.1 36.8L260.9 33L264.7 32.4zM258.9 67.2L262.1 63.9L264.8 68.9L264.5 69.8zM274.4 61L274.9 57.4L276.3 57L278.2 60.9L276.3 62.3zM316.7 57L316.3 60.3L314.3 60.6L313.5 55.8z" fill="#5d18a8"/>
<path d="M321.5 45.6L318.2 49L315.3 49.3L314.5 48.2L315.3 43.5L317.8 42L321.5 45.5zM287.2 45.4L284.2 42.7L285 39.6L286.9 39L291 40.6L291.9 42.9L288.5 45.4z" fill="#2b39c7"/>
<path d="M304.2 39.3L305.5 42.1L303.6 45.3L303.4 45.5L299.2 43.1L300.9 39.2zM313.1 18L326.6 18L314.1 30.6L310.9 30L311.4 21.2zM281 36.7L285 39.6L284.2 42.7L279.6 43.7L280.8 36.7z" fill="#812694"/>
<path d="M311.4 21.2L310.9 30L309.5 31L306.1 30.1L305.6 26.5zM246 71.8L246 70L251.7 67.2L254.1 70.3L253.1 72.7z" fill="#523297"/>
<path d="M306.3 77.7L306.9 78.9L305.8 82.5L301.5 81.9L301.4 77.8L303.7 76.7z" fill="#66887f"/>
<path d="M303.5 95.1L299.5 95.2L298.3 92.9L300 89.8L301.7 89.1L305.6 90.7zM282.5 80.8L280 77L284 75.5L285.3 76.7zM297.4 30.7L294.5 33L293.3 29.6L295.6 28z" fill="#248b67"/>
<path d="M309.5 35L309.4 39.8L309.2 39.8L304.8 38.8L304.8 35L305.3 34.5L309.2 34.6zM281.2 29.9L280.4 36.3L275 34.3L276.1 30.4L278.4 28.8L280.5 29zM257.4 37.8L256.9 40.7L254.9 42L246 39.7L246 26.5zM305.5 85.5L302.3 85.7L300.6 83.1L301.5 81.9L305.8 82.5L306.5 83.4zM275.6 77.8L275.1 74.3L276.8 73.4L278.8 76.7z" fill="#9e56a0"/>
<path d="M260.9 33L261.1 36.8L257.4 37.8L246 26.5L246 19.9z" fill="#828c1b"/>
<path d="M312.5 42.8L311 46.4L308.8 46.6L307.4 45.1L307.1 42.3L309.2 39.8L309.4 39.8L310.9 40.2z" fill="#e3579a"/>
<path d="M301.4 70.4L302.5 73.4L299.5 76L298.8 75.8L296.5 71.2L296.9 70.4zM308.6 56.6L309.5 60.7L306.9 62.2L306 58.6z" fill="#ff6843"/>
<path d="M258.4 51.1L254.2 50.6L253.2 47.2L255.2 45.4L258.7 45.9L259.5 47.1z" fill="#d93b3d"/>
<path d="M257.4 66.7L255 62.4L258.6 59.5L261.9 60L261.9 60.1L262.5 63L262.1 63.9L258.9 67.2L257.9 67.2zM314.9 33.4L319 33.5L316.2 37.6L314.1 37L313.6 35.9z" fill="#2b9ca1"/>
<path d="M275.1 74.3L275.6 77.8L274.6 79.1L270.7 78.2L270.3 75.6L272.7 73.3zM330 63.1L330 70.2L325.2 68.4L325.3 65z" fill="#8d6443"/>
<path d="M297.6 57.6L298 54.6L300.9 51.9L301.2 51.9L303.8 54.1L303.1 57.4L299.8 59.1zM330 82.7L330 91.2L317.7 81.1L317.7 80.8L320.5 77.4z" fill="#24279f"/>
<path d="M300 89.8L297.4 88.6L296.6 87.3L297.8 83.6L300.6 83.1L302.3 85.7L301.7 89.1zM271.8 102L266.3 102L270.7 92.8L273.8 94.4z" fill="#297e62"/>
<path d="M302.6 30L305 30.9L305.3 34.5L304.8 35L300.1 35.6L299.6 35L299.7 31.7zM251.3 58.8L249.8 54.4L253.2 52.7L256.2 55.4L256.1 57L253.2 59.4zM299.6 64.6L302.9 67.1L302.9 68.9L301.4 70.4L296.9 70.4L296.4 66.8zM275.8 24.8L278.4 28.8L276.1 30.4L272.1 28.4L272.5 26zM309.4 39.8L309.5 35L313.6 35.9L314.1 37L310.9 40.2zM325.6 48.5L326 50.7L324 52.4L322.1 51.3L323.3 47.9z" fill="#ff53b1"/>
<path d="M276.2 49.4L280.9 50L281.8 54.1L281.6 54.5L277.7 54.9L275.4 50.2zM309.2 34.6L305.3 34.5L305 30.9L306.1 30.1L309.5 31zM300.7 18L305.1 18L302.1 24.8L299.2 23.5z" fill="#9c69d8"/>
<path d="M284.4 70.7L288.9 71.5L289.4 72.1L288.5 75.9L285.3 76.7L284 75.5L284 71zM247 102L246 102L246 88.4L256.7 79.6L258.1 80.1L254.9 93.7z" fill="#1e8996"/>
<path d="M330 51.2L330 57.5L324.8 56.3L324 52.4L326 50.7zM283.5 97.5L283.8 102L277.2 102L280.1 96.2L282.8 96.5zM291.4 55.4L294.6 58L291.4 62L288.6 59.9zM314.9 52.9L319.1 55.5L319 55.7L316.7 57L313.5 55.8L313.3 55.4zM302.9 67.1L299.6 64.6L300.5 62.5L304.9 63.9zM257.4 66.7L252.2 66L254.9 62.3L255 62.4z" fill="#dc7ae3"/>
<path d="M259.6 18L265.1 18L272.5 26L272.1 28.4L270.6 29.9L268.4 29.8L261.1 20.6zM288.6 96.3L286.1 94.3L287.3 91.6L290.2 92.6z" fill="#d87738"/>
<path d="M276 63.8L272.6 66.6L269.4 64.3L270.3 61.2L274.4 61L276.3 62.3zM283.7 63.8L279.7 60.9L282.7 58L285.8 60.3zM251.7 67.2L246 70L246 63.6L251.9 66.2zM294.1 50.9L291.3 55.1L288.4 51L289.1 50.3z" fill="#d7253e"/>
<path d="M246 18L259.6 18L261.1 20.6L264.8 32.2L264.7 32.4L260.9 33L246 19.9zM256.2 55.4L253.2 52.7L254.2 50.6L258.4 51.1L259.1 52.3zM294.9 77L295.4 72L296.5 71.2L298.8 75.8z" fill="#7e7497"/>
<path d="M296 18L300.7 18L299.2 23.5L296.4 24.6L294.4 22.7zM273.4 69L277.3 71.3L276.8 73.4L275.1 74.3L272.7 73.3L272 71.2z" fill="#4b9698"/>
<path d="M286.2 18L291.3 18L291 22L288.9 23.2L286.6 22.4z" fill="#538dbd"/>
<path d="M290.1 102L283.8 102L283.5 97.5L288.5 97.5z" fill="#688721"/>
<path d="M265 75.5L268.4 74.4L270.3 75.6L270.7 78.2L268.4 80.3L264.2 77.7z" fill="#457ef5"/>
<path d="M269.3 91.2L261.3 102L247 102L254.9 93.7L268.4 89.3zM294.5 87.4L294.4 91.1L291.5 91.6L290.3 87.8L292.9 86.3zM310.6 66L306.6 63.2L306.9 62.2L309.5 60.7L312.4 61.9z" fill="#4a9248"/>
<path d="M264.6 48.3L261.4 52.8L259.1 52.3L258.4 51.1L259.5 47.1L264 47.4zM321.5 40L323.3 42.6L321.5 45.5L317.8 42L318.1 40.9zM311.1 79.5L306.9 78.9L306.3 77.7L309.2 74.9zM305.6 26.5L306.1 30.1L305 30.9L302.6 30L303.3 26.3z" fill="#e59b66"/>
<path d="M323.3 47.9L322.1 51.3L321.3 51.5L318.2 49L321.5 45.6zM288.5 97.5L283.5 97.5L282.8 96.5L286.1 94.3L288.6 96.3z" fill="#d741bd"/>
<path d="M279.3 18L282.4 18L284 22.7L282.1 24L279.6 22.5zM317.7 81.1L314 85.3L310.4 82.1L311.1 79.6L317.7 80.8zM304.8 35L304.8 38.8L304.2 39.3L300.9 39.2L300.1 35.6zM330 100.6L330 102L318.9 102L312.1 90L314.2 87.3zM276.9 66.6L273.4 68.7L272.6 66.6L276 63.8z" fill="#dd2648"/>
<path d="M268.4 51.3L264.9 54.8L262.9 54.5L261.4 52.8L264.6 48.3zM292.7 72.8L292.8 77.3L288.5 75.9L289.4 72.1zM320.8 60.2L319 55.7L319.1 55.5L319.5 55.3L324 56.6z" fill="#7c2cd3"/>
<path d="M264.8 32.2L261.1 20.6L268.4 29.8z" fill="#f47f7e"/>
<path d="M246 79.5L246 71.8L253.1 72.7L253.4 76.1z" fill="#f556de"/>
<path d="M305.6 90.7L301.7 89.1L302.3 85.7L305.5 85.5L306.2 90.4zM299.5 76L302.5 73.4L303.5 73.7L303.7 76.7L301.4 77.8z" fill="#d4312a"/>
<path d="M308.6 56.6L306 58.6L303.1 57.4L303.8 54.1L305.7 53.4L308.7 56.3z" fill="#19379b"/>
<path d="M279.4 44L281.6 49.1L280.9 50L276.2 49.4L278.5 44.3z" fill="#2b744e"/>
<path d="M306.5 83.4L305.8 82.5L306.9 78.9L311.1 79.5L311.1 79.6L310.4 82.1zM330 28.3L330 39.7L323.3 42.6L321.5 40z" fill="#2aa6a6"/>
<path d="M325.3 65L325.2 68.4L321.2 69.5L321.9 64.2zM330 46.9L330 51.2L326 50.7L325.6 48.5z" fill="#2f9e88"/>
<path d="M290.3 87.8L291.5 91.6L290.2 92.6L287.3 91.6L287 88z" fill="#c16de7"/>
<path d="M303.6 45.3L307.4 45.1L308.8 46.6L305.5 49.3L304 48.7L303.4 45.5zM296.1 91.5L297.4 88.6L300 89.8L298.3 92.9z" fill="#9f41c6"/>
<path d="M281.8 54.1L280.9 50L281.6 49.1L285.1 49.5L286 50.7z" fill="#455fbc"/>
<path d="M305.7 53.4L303.8 54.1L301.2 51.9L304 48.7L305.5 49.3z" fill="#ff6896"/>
<path d="M284.9 32L285 32.5L281 36.7L280.8 36.7L280.4 36.3L281.2 29.9z" fill="#4d68d4"/>
<path d="M266.3 102L261.3 102L269.3 91.2L270.7 92.8zM300.9 51.9L298 54.6L295.7 50.4zM274.8 18L279.3 18L279.6 22.5L276.4 23.5z" fill="#254cb1"/>
<path d="M268.5 72L268.4 74.4L265 75.5L264.7 70.2z" fill="#4d939a"/>
</g></g>
<rect x="310.8" y="98" width="13.3" height="1.4" fill="#111"/>
<text x="318.3" y="102.7" font-size="3.4" font-weight="bold" text-anchor="middle" fill="#222">10µm</text>
<rect x="420.5" y="21.7" width="79.6" height="84.3" fill="#fff" stroke="#adadad" stroke-width="0.9"/>
<clipPath id="clip-c"><circle cx="459.8" cy="61.8" r="38.4"/></clipPath>
<g clip-path="url(#clip-c)"><g filter="url(#soft)" stroke="#0a0812" stroke-width="0.55" stroke-linejoin="round">
<rect x="419" y="21" width="82" height="82" fill="#15101c" stroke="none"/>
<path d="M455.3 41.1L454.9 47.3L452.6 50L445.3 48.9L444.1 46.3L443.9 42.6L445.1 39.3L448.1 37.1z" fill="#eb6e28"/>
<path d="M454.4 56.5L448.6 61.1L445 59.2L442.3 55.9L442.3 52.1L445.3 48.9L452.6 50z" fill="#f06428"/>
<path d="M431.8 52.6L430 58.8L428.1 59.4L424.4 58.7L422.6 57.5L420.3 52.4L426.5 48.6L428.1 48.6z" fill="#f06ed2"/>
<path d="M454.9 47.3L459 46.1L462.7 48L463.9 50.1L461.3 57L456.4 57.6L454.4 56.5L452.6 50z" fill="#328c82"/>
<path d="M467.3 58.3L463.2 58.6L461.3 57L463.9 50.1L467.1 50L470.8 53.1L471.2 54.4L470.4 56z" fill="#3c82c8"/>
<path d="M472.2 46.7L467.9 47.5L464.6 45.7L463.2 42.5L463.4 39.6L465.6 37.5L471.3 37.3L473.3 39.4L473.6 44.2z" fill="#dc966e"/>
<path d="M481.7 35.5L477.8 39.3L473.3 39.4L471.3 37.3L471.4 33.7L473.7 30.6L477.6 29.8L477.7 29.8L480.9 32.4z" fill="#50963c"/>
<path d="M469.4 28.4L468.7 32.1L465.2 33.8L462.6 31.5L463.3 26.6L467.2 26z" fill="#f064be"/>
<path d="M463.4 39.6L458.5 38.2L458 33.4L459.4 32L462.6 31.5L465.2 33.8L465.6 37.5z" fill="#f06ec8"/>
<path d="M487.6 54.5L491.8 53.7L495.3 54.2L496.9 57.5L497.1 60.2L496 62.8L493.8 64.7L488.7 65.4L486.6 64.4L484.8 57.9z" fill="#286edc"/>
<path d="M481.2 56.9L478.6 52.1L478.7 51.1L481.6 48.8L485.3 48.8L487.5 51.6L487.6 54.5L484.8 57.9z" fill="#eb823c"/>
<path d="M442.9 64L448.7 62.3L450.2 64.1L451.1 67.1L449.7 72.1L445 72.7L442.4 70.8L441.6 69L441.6 65.8z" fill="#be3cd2"/>
<path d="M452.1 74.7L451.6 78.6L450.2 81L444.4 81.3L442.5 77.6L442.8 75.9L445 72.7L449.7 72.1L451.7 73.4z" fill="#be5adc"/>
<path d="M452.6 83.3L452.7 88.6L449.1 91.3L445.3 90.7L442.7 83.9L444.4 81.3L450.2 81z" fill="#28966e"/>
<path d="M442.8 93.4L436 94.2L434.3 88.7L434.6 86.7L436.8 84.5L440.2 83.6L442.7 83.9L445.3 90.7z" fill="#7850e6"/>
<path d="M455.9 88.9L458.5 96.3L456.4 98.4L451.1 98L450 96.9L449.1 91.3L452.7 88.6z" fill="#f08c32"/>
<path d="M481.6 67.6L479.6 67.1L476.8 64.2L476.4 60.4L477.2 58.8L481.2 56.9L484.8 57.9L486.6 64.4z" fill="#f06edc"/>
<path d="M488.7 65.4L491.6 70.3L491.5 70.9L488.5 75.5L484 75.1L481.6 72.5L481.6 67.6L486.6 64.4z" fill="#e63cc8"/>
<path d="M470 70.5L470.6 74.2L469.5 76.7L467.1 78.6L465.5 79L462.8 78.2L459.6 75.5L459.5 72.1L460.8 69.9L463.7 68.1L467.6 68.2z" fill="#6e46d2"/>
<path d="M485.5 86.4L479.4 87.3L477.5 85.3L477.5 82.1L480 79.1L483.1 78.4L485.4 79.8L487.2 84.1z" fill="#eb6e5a"/>
<path d="M485.4 79.8L488.6 75.8L489.6 76.1L492.6 78.9L492.8 80.3L491.7 82.4L487.9 84.1L487.2 84.1z" fill="#50a050"/>
<path d="M432.1 69L429.9 72.7L425.3 73.3L424.3 67.7L425.8 65.6L430.6 66.4L431.6 67.5z" fill="#2850c8"/>
<path d="M437.3 77.9L434.8 81L434.2 81L431.4 79.7L430.5 77.5L431.7 74.7L433.9 74.1L436.4 75.1z" fill="#f0823c"/>
<path d="M445.4 30L448.4 35.2L448.1 37.1L445.1 39.3L439.4 38.2L437.9 34.6L439.5 30.8L441.7 29.4z" fill="#aa6496"/>
<path d="M454.2 31.3L458 33.4L458.5 38.2L456 40.9L455.3 41.1L448.1 37.1L448.4 35.2L451.1 32.1z" fill="#f08c78"/>
<path d="M465.2 90.7L467.9 88.4L472.2 87.6L473.6 91.4L472.1 94.6L471.7 95L469.1 95.3L465.3 92.4z" fill="#d2a06e"/>
<path d="M458.5 96.3L455.9 88.9L456.1 88.8L460.8 87.2L462.8 87.6L465.2 90.7L465.3 92.4L462.1 96.3z" fill="#287882"/>
<path d="M442.3 55.9L438.9 58.9L437.5 59.1L435.2 57.5L434 52.8L437.4 50.2L442.3 52.1z" fill="#28826e"/>
<path d="M464.3 99.6L463.6 104L456.4 104L456.4 98.4L458.5 96.3L462.1 96.3zM418.8 20L425.1 20L439.5 30.8L437.9 34.6L434.8 34.9zM418 20L418.8 20L434.8 34.9L433.9 37.9L430.8 39.2L429.4 39L418 23.9zM476.8 64.2L474.6 65.1L473.1 63.9L473.9 61.2L476.4 60.4zM431.4 79.7L429.6 81.6L427 80.4L428 77.6L430.5 77.5z" fill="#7e2eb7"/>
<path d="M454.4 20L462.7 20L462.2 25.7L457.7 27.1L454.6 24.3zM465.5 79L464.1 82L461.5 80.9L462.8 78.2z" fill="#444ad1"/>
<path d="M490.8 20L502 20L502 21L487.1 36.8L484 37.1L481.7 35.5L480.9 32.4zM481.6 72.5L478 73.9L476 72.7L475 69.5L479.6 67.1L481.6 67.6zM477.5 82.1L474.3 78.8L474.8 77.7L477.8 76.6L480 79.1zM453.8 67.6L451.1 67.1L450.2 64.1L456.2 64.5zM462.7 48L464.6 45.7L467.9 47.5L467.1 50L463.9 50.1z" fill="#b061d9"/>
<path d="M502 37.9L502 51.4L496.1 52.8L493.9 49.4L494.3 45.5zM456.4 57.6L457.1 64.1L456.2 64.5L450.2 64.1L448.7 62.3L448.6 61.1L454.4 56.5zM438.8 39.2L435.5 39.8L433.9 37.9L434.8 34.9L437.9 34.6L439.4 38.2z" fill="#35ad92"/>
<path d="M487.5 104L482.4 104L476 97.1L475.7 95.1L476.8 92.1L479.3 90.9L480.2 91.5L486.4 101.6zM438.6 20L447 20L449.1 25.9L448.2 27.9L445.4 30L441.7 29.4zM502 92.9L502 103.7L486 89.6L485.5 86.4L487.2 84.1L487.9 84.1L497.9 89.7zM473.9 61.2L473.1 63.9L469.2 63.7L468.8 62.5L471.4 60zM469.5 76.7L471.6 79.2L469.7 81L467.1 78.6z" fill="#7d26d0"/>
<path d="M418 97.7L418 84L427 80.4L429.6 81.6L430.8 84.4L425.5 91.6zM431.8 84.5L434.2 81L434.8 81L435.8 81.8L436.8 84.5L434.6 86.7z" fill="#6b4593"/>
<path d="M487.1 36.8L490.3 40.3L489 44.6L486.6 45.4L483 43.1L482.6 42.1L484 37.1z" fill="#414ed1"/>
<path d="M502 71.6L502 76.2L495 75.9L493.2 74.6L491.5 70.9L491.6 70.3L495.1 67.7L496.6 67.9z" fill="#3d87fe"/>
<path d="M418 68.5L418 61.1L420 60.7L423.4 61.6L425.4 63.7L425.8 65.6L424.3 67.7zM442.8 75.9L440.1 73L442.4 70.8L445 72.7z" fill="#d57bf1"/>
<path d="M469.2 63.7L473.1 63.9L474.6 65.1L474.8 69.3L470 70.5L467.6 68.2zM434.3 88.7L425.5 91.6L430.8 84.4L431.8 84.5L434.6 86.7zM502 103.7L502 104L487.5 104L486.4 101.6L483.9 91.6L486 89.6zM471.7 104L463.6 104L464.3 99.6L467.8 99L471.7 104z" fill="#8945b7"/>
<path d="M472.2 87.5L469 83.8L469.7 81L471.6 79.2L474.3 78.8L477.5 82.1L477.5 85.3z" fill="#ca5bd4"/>
<path d="M428.1 48.6L430 45.1L433.6 43.6L437.4 46.4L437.4 50.2L434 52.8L431.8 52.6zM425.1 20L438.6 20L441.7 29.4L439.5 30.8z" fill="#c99381"/>
<path d="M457.9 64.4L460.8 69.9L459.5 72.1L454.5 71.1L453.8 67.6L456.2 64.5L457.1 64.1z" fill="#a65886"/>
<path d="M428 77.6L427 80.4L418 84L418 76L425.3 73.3zM469.5 20L474.6 20L474.4 24.8L472.1 28.4L469.4 28.4L467.2 26zM473.9 74.8L474.8 77.7L474.3 78.8L471.6 79.2L469.5 76.7L470.6 74.2z" fill="#c454f3"/>
<path d="M438.8 39.2L440.2 42.8L439.4 45.1L437.4 46.4L433.6 43.6L433.7 42.5L435.5 39.8zM459.4 81.4L459.1 84.7L457.1 85.1L455.2 82.3L455.4 82.1z" fill="#f37938"/>
<path d="M442.3 52.1L437.4 50.2L437.4 46.4L439.4 45.1L444.1 46.3L445.3 48.9z" fill="#db9e6d"/>
<path d="M471.7 95L473.3 97.7L471.7 104L467.8 99L469.1 95.3z" fill="#ff6095"/>
<path d="M454.3 79L455.1 76.6L459.4 75.7L459.7 81.1L459.4 81.4L455.4 82.1zM444.1 46.3L439.4 45.1L440.2 42.8L443.9 42.6zM491.7 82.4L497.9 89.7L487.9 84.1z" fill="#7d2ace"/>
<path d="M436.4 75.1L438.5 72.8L440.1 73L442.8 75.9L442.5 77.6L438.9 78.6L437.3 77.9zM429.4 39L428 41.6L420.4 41.6L418 40.4L418 23.9zM477.2 58.8L474.6 54.9L478.6 52.1L481.2 56.9zM472.2 87.6L467.9 88.4L467.1 84.6L469 83.8L472.2 87.5zM476.8 92.1L475.7 95.1L472.1 94.6L473.6 91.4z" fill="#173acc"/>
<path d="M477.8 39.3L479.1 41.5L477.9 44.7L473.6 44.2L473.3 39.4zM479.6 67.1L475 69.5L474.8 69.3L474.6 65.1L476.8 64.2z" fill="#3648e0"/>
<path d="M490.9 45.8L491.6 49.3L490.6 50.7L487.5 51.6L485.3 48.8L486.6 45.4L489 44.6zM502 37.5L502 37.9L494.3 45.5L490.9 45.8L489 44.6L490.3 40.3zM502 51.4L502 57.8L496.9 57.5L495.3 54.2L496.1 52.8z" fill="#f075e1"/>
<path d="M431.6 67.5L435.6 63.9L435.9 63.8L438 65.8L437.7 69.4L437.2 70L434.3 70.4L432.1 69zM467.3 58.3L468.1 62.1L463.6 61.4L463.2 58.6z" fill="#667c7d"/>
<path d="M470.8 53.1L472.7 47.6L476.9 48.8L478.7 51.1L478.6 52.1L474.6 54.9L471.2 54.4zM420.4 41.6L428 41.6L430 45.1L428.1 48.6L426.5 48.6z" fill="#6b8521"/>
<path d="M479.3 90.9L476.8 92.1L473.6 91.4L472.2 87.6L472.2 87.5L477.5 85.3L479.4 87.3zM502 21L502 37.5L490.3 40.3L487.1 36.8zM462.8 78.2L461.5 80.9L459.7 81.1L459.4 75.7L459.6 75.5z" fill="#b759a9"/>
<path d="M447 20L454.4 20L454.6 24.3L452.6 25.9L449.1 25.9zM467.1 84.6L467.9 88.4L465.2 90.7L462.8 87.6L465.2 84.4zM502 57.8L502 60.5L497.1 60.2L496.9 57.5z" fill="#ed691a"/>
<path d="M463.2 58.6L463.6 61.4L461.9 63.9L457.9 64.4L457.1 64.1L456.4 57.6L461.3 57zM418 51.8L418 40.4L420.4 41.6L426.5 48.6L420.3 52.4zM433.9 74.1L434.3 70.4L437.2 70L438.5 72.8L436.4 75.1zM434.2 81L431.8 84.5L430.8 84.4L429.6 81.6L431.4 79.7z" fill="#e97199"/>
<path d="M463.7 68.1L461.9 63.9L463.6 61.4L468.1 62.1L468.8 62.5L469.2 63.7L467.6 68.2zM469.1 95.3L467.8 99L464.3 99.6L462.1 96.3L465.3 92.4zM448.2 27.9L451.1 32.1L448.4 35.2L445.4 30zM480.7 45.5L478 44.9L477.9 44.7L479.1 41.5L482.6 42.1L483 43.1z" fill="#eea95c"/>
<path d="M451 104L442.7 104L445.8 98.2L450 96.9L451.1 98zM476 72.7L473.9 74.8L470.6 74.2L470 70.5L474.8 69.3L475 69.5zM422.6 57.5L420 60.7L418 61.1L418 51.8L420.3 52.4z" fill="#b266e4"/>
<path d="M460.8 87.2L459.1 84.7L459.4 81.4L459.7 81.1L461.5 80.9L464.1 82L465.2 84.4L462.8 87.6zM461.9 63.9L463.7 68.1L460.8 69.9L457.9 64.4z" fill="#fa50b4"/>
<path d="M485.5 86.4L486 89.6L483.9 91.6L480.2 91.5L479.3 90.9L479.4 87.3z" fill="#f23a88"/>
<path d="M432.2 62.9L430.6 66.4L425.8 65.6L425.4 63.7L428.1 59.4L430 58.8L430.4 59z" fill="#fa53c9"/>
<path d="M452.6 25.9L454.9 29L454.2 31.3L451.1 32.1L448.2 27.9L449.1 25.9z" fill="#9f6b3e"/>
<path d="M438.9 58.9L442.3 61.6L442.9 64L441.6 65.8L438 65.8L435.9 63.8L437.5 59.1zM451.1 67.1L453.8 67.6L454.5 71.1L451.7 73.4L449.7 72.1z" fill="#d74926"/>
<path d="M476.4 60.4L473.9 61.2L471.4 60L470.4 56L471.2 54.4L474.6 54.9L477.2 58.8z" fill="#698e28"/>
<path d="M442.8 93.4L443.3 95.5L439.3 104L429.2 104L436 94.2z" fill="#e13687"/>
<path d="M462.7 20L469.5 20L467.2 26L463.3 26.6L462.2 25.7z" fill="#79459e"/>
<path d="M459.4 75.7L455.1 76.6L452.1 74.7L451.7 73.4L454.5 71.1L459.5 72.1L459.6 75.5zM502 76.2L502 85.1L492.8 80.3L492.6 78.9L495 75.9z" fill="#256e9f"/>
<path d="M418 76L418 68.5L424.3 67.7L425.3 73.3L425.3 73.3z" fill="#c7b36b"/>
<path d="M502 64L502 71.6L496.6 67.9L498.1 64.6z" fill="#d98d1f"/>
<path d="M464.1 82L465.5 79L467.1 78.6L469.7 81L469 83.8L467.1 84.6L465.2 84.4zM463.3 26.6L462.6 31.5L459.4 32L457.5 27.7L457.7 27.1L462.2 25.7z" fill="#eb2a4c"/>
<path d="M449.1 91.3L450 96.9L445.8 98.2L443.3 95.5L442.8 93.4L445.3 90.7zM457.5 27.7L459.4 32L458 33.4L454.2 31.3L454.9 29z" fill="#208d50"/>
<path d="M484 75.1L483.1 78.4L480 79.1L477.8 76.6L478 73.9L481.6 72.5zM430 45.1L428 41.6L429.4 39L430.8 39.2L433.7 42.5L433.6 43.6zM434.3 70.4L433.9 74.1L431.7 74.7L429.9 72.7L432.1 69zM443.9 42.6L440.2 42.8L438.8 39.2L439.4 38.2L445.1 39.3z" fill="#9e5cf0"/>
<path d="M474.6 20L486.3 20L477.7 29.8L477.6 29.8L474.4 24.8z" fill="#5e8cf0"/>
<path d="M463.2 42.5L459.3 45L456 40.9L458.5 38.2L463.4 39.6z" fill="#3c79dc"/>
<path d="M435.6 63.9L432.2 62.9L430.4 59L435.2 57.5L437.5 59.1L435.9 63.8z" fill="#eb7ef4"/>
<path d="M452.6 83.3L455.2 82.3L457.1 85.1L456.1 88.8L455.9 88.9L452.7 88.6zM433.9 37.9L435.5 39.8L433.7 42.5L430.8 39.2z" fill="#944d2c"/>
<path d="M470.4 56L471.4 60L468.8 62.5L468.1 62.1L467.3 58.3zM456 40.9L459.3 45L459 46.1L454.9 47.3L455.3 41.1z" fill="#352083"/>
<path d="M430.5 77.5L428 77.6L425.3 73.3L425.3 73.3L429.9 72.7L431.7 74.7z" fill="#d99c72"/>
<path d="M502 60.5L502 64L498.1 64.6L496 62.8L497.1 60.2zM502 85.1L502 92.9L497.9 89.7L491.7 82.4L492.8 80.3z" fill="#4491ab"/>
<path d="M440.2 83.6L438.6 81.2L438.9 78.6L442.5 77.6L444.4 81.3L442.7 83.9zM486.3 20L490.8 20L480.9 32.4L477.7 29.8z" fill="#11875f"/>
<path d="M437.7 69.4L441.6 69L442.4 70.8L440.1 73L438.5 72.8L437.2 70zM451.6 78.6L454.3 79L455.4 82.1L455.2 82.3L452.6 83.3L450.2 81zM455.1 76.6L454.3 79L451.6 78.6L452.1 74.7z" fill="#f38430"/>
<path d="M456.4 104L451 104L451.1 98L456.4 98.4z" fill="#6d6f75"/>
<path d="M468.7 32.1L471.4 33.7L471.3 37.3L465.6 37.5L465.2 33.8zM429.2 104L418 104L418 97.7L425.5 91.6L434.3 88.7L436 94.2z" fill="#7e4393"/>
<path d="M481.6 48.8L480.7 45.5L483 43.1L486.6 45.4L485.3 48.8zM456.1 88.8L457.1 85.1L459.1 84.7L460.8 87.2z" fill="#1b1736"/>
<path d="M476.9 48.8L478 44.9L480.7 45.5L481.6 48.8L478.7 51.1z" fill="#1d1b5d"/>
<path d="M471.4 33.7L468.7 32.1L469.4 28.4L472.1 28.4L473.7 30.6z" fill="#e251b7"/>
<path d="M491.8 53.7L490.6 50.7L491.6 49.3L493.9 49.4L496.1 52.8L495.3 54.2z" fill="#5d7088"/>
<path d="M472.7 47.6L470.8 53.1L467.1 50L467.9 47.5L472.2 46.7zM493.9 49.4L491.6 49.3L490.9 45.8L494.3 45.5z" fill="#4d7dfa"/>
<path d="M478 44.9L476.9 48.8L472.7 47.6L472.2 46.7L473.6 44.2L477.9 44.7z" fill="#271139"/>
<path d="M445 59.2L442.3 61.6L438.9 58.9L442.3 55.9zM484 37.1L482.6 42.1L479.1 41.5L477.8 39.3L481.7 35.5z" fill="#2a942b"/>
<path d="M482.4 104L471.7 104L471.7 104L473.3 97.7L476 97.1z" fill="#f83f52"/>
<path d="M474.4 24.8L477.6 29.8L473.7 30.6L472.1 28.4z" fill="#4f9a46"/>
<path d="M448.7 62.3L442.9 64L442.3 61.6L445 59.2L448.6 61.1z" fill="#daa17a"/>
<path d="M488.6 75.8L485.4 79.8L483.1 78.4L484 75.1L488.5 75.5z" fill="#7e42a8"/>
<path d="M438.9 78.6L438.6 81.2L435.8 81.8L434.8 81L437.3 77.9zM457.5 27.7L454.9 29L452.6 25.9L454.6 24.3L457.7 27.1zM424.4 58.7L423.4 61.6L420 60.7L422.6 57.5z" fill="#248947"/>
<path d="M477.8 76.6L474.8 77.7L473.9 74.8L476 72.7L478 73.9z" fill="#1d305a"/>
<path d="M472.1 94.6L475.7 95.1L476 97.1L473.3 97.7L471.7 95zM490.6 50.7L491.8 53.7L487.6 54.5L487.5 51.6zM436.8 84.5L435.8 81.8L438.6 81.2L440.2 83.6z" fill="#388ea5"/>
<path d="M459.3 45L463.2 42.5L464.6 45.7L462.7 48L459 46.1z" fill="#c19115"/>
<path d="M483.9 91.6L486.4 101.6L480.2 91.5z" fill="#6e848e"/>
<path d="M496 62.8L498.1 64.6L496.6 67.9L495.1 67.7L493.8 64.7zM491.5 70.9L493.2 74.6L489.6 76.1L488.6 75.8L488.5 75.5z" fill="#21674e"/>
<path d="M493.8 64.7L495.1 67.7L491.6 70.3L488.7 65.4z" fill="#0d1f76"/>
<path d="M434 52.8L435.2 57.5L430.4 59L430 58.8L431.8 52.6zM489.6 76.1L493.2 74.6L495 75.9L492.6 78.9z" fill="#ee4a76"/>
<path d="M441.6 69L437.7 69.4L438 65.8L441.6 65.8z" fill="#1597ae"/>
<path d="M428.1 59.4L425.4 63.7L423.4 61.6L424.4 58.7z" fill="#dc9911"/>
<path d="M435.6 63.9L431.6 67.5L430.6 66.4L432.2 62.9z" fill="#e17231"/>
<path d="M442.7 104L439.3 104L443.3 95.5L445.8 98.2z" fill="#e29294"/>
</g></g>
<rect x="485" y="100.4" width="12" height="1.4" fill="#111"/>
<text x="491.8" y="104.8" font-size="3.4" font-weight="bold" text-anchor="middle" fill="#222">10µm</text>
<rect x="250" y="295" width="79.7" height="82.9" fill="#fff" stroke="#adadad" stroke-width="0.9"/>
<clipPath id="clip-f"><rect x="251" y="295.5" width="78" height="77"/></clipPath>
<g clip-path="url(#clip-f)"><g filter="url(#soft)" stroke="#0a0812" stroke-width="0.55" stroke-linejoin="round">
<rect x="249" y="293.5" width="82" height="81" fill="#15101c" stroke="none"/>
<path d="M263.7 350.4L256.7 355.1L252.7 351.7L251.8 348.4L252.8 345.8L257 342.1L257.7 341.9L259.9 342.5L263.7 345.3z" fill="#8c7814"/>
<path d="M271.4 343.4L273.4 347.3L271.7 354L270.1 354.8L266.9 354.4L263.7 350.4L263.7 345.3L267.4 342.9z" fill="#f08c28"/>
<path d="M264.4 361.3L263.4 366.4L261.9 367.6L258.3 368.3L255.9 367.9L252.5 364.3L254.2 359.1L256.9 357L263.3 359.3z" fill="#eb7846"/>
<path d="M278.1 319.3L278.8 321.6L277.8 325.4L274.1 328.5L273.5 328.6L268.1 325.6L267.4 321L268.1 318.2L272.8 315.2L274.4 315.5L275.9 316.4z" fill="#eb8c82"/>
<path d="M289.8 309.1L288.8 313.8L283.3 316.5L283.2 316.5L280.3 314.4L278.4 311.7L277.8 307.7L279.5 304.9L282.9 303.6L287.5 305z" fill="#283cbe"/>
<path d="M290.9 300.3L296.1 301.6L296.2 301.7L297.1 306.1L295.2 308.7L292.5 309.5L289.8 309.1L287.5 305L289.7 300.8z" fill="#be5ae6"/>
<path d="M289.2 320.1L289.4 314.2L292.8 313L296 313.6L297.8 316.4L297.7 318.6L293.3 322.7L289.3 320.3z" fill="#eb8c78"/>
<path d="M307.2 314.3L305.7 316.9L303.2 317.4L300.2 315.2L300.1 311.9L302.1 309.4L304.3 309.7z" fill="#b478aa"/>
<path d="M312.1 332.4L309.4 338.4L302.8 338.1L300.3 334.6L300.5 332.1L303 328.5L304.9 327.2L309.7 329z" fill="#7882aa"/>
<path d="M308.8 348.8L306.8 349.4L300.2 347.4L299.7 341.3L302.8 338.1L309.4 338.4L311.3 340.2L312.1 344.3z" fill="#64461e"/>
<path d="M322.5 341.3L320.9 344.5L317.4 346.6L312.1 344.3L311.3 340.2L315.5 336L320.1 336.2L320.8 336.7z" fill="#2864e6"/>
<path d="M299 349.3L292.3 350.3L287.6 345.7L289.6 340.4L290.4 339.7L295.3 337.5L299.7 341.3L300.2 347.4z" fill="#6e50d2"/>
<path d="M287.6 363.7L287 354.7L288.6 353.1L291.8 352L296.7 354.9L297.4 361.1L296.8 362.2L292.3 364.5z" fill="#e632c8"/>
<path d="M283.5 350.1L279.3 349.7L277.2 346.8L277.4 344.3L279.7 341.6L283.8 341.8L287.2 345.7L285.4 348.9z" fill="#f050a0"/>
<path d="M273.4 347.3L277.2 346.8L279.3 349.7L278.7 352.4L275.7 354.8L271.7 354z" fill="#f05ad2"/>
<path d="M258.2 324.5L259.6 329.6L259.5 329.8L255.8 333.2L252.7 333.3L248.9 327.4L253.2 323.7L257.8 324.2z" fill="#b46ee6"/>
<path d="M260.9 302.8L261 307L259.3 309.3L255.8 308.8L253.5 307.1L253.1 304.4L255.8 300.5L259.1 301.1z" fill="#e66e96"/>
<path d="M277.3 357.3L276.9 361.4L274.8 363.6L271.9 363.7L269.8 361.5L270.1 354.8L271.7 354L275.7 354.8z" fill="#3c8c32"/>
<path d="M256.7 355.1L263.7 350.4L266.9 354.4L263.3 359.3L256.9 357z" fill="#aa5adc"/>
<path d="M280.8 360.9L280.5 357.3L282.2 354.6L282.9 354.2L287 354.7L287.6 363.7L287.1 364L283.5 363.6z" fill="#aa646e"/>
<path d="M320.2 323.9L318.8 318.7L318.9 318.4L323.1 316L326.6 316.5L328.5 320L326.8 324.6L323 325.9L321.7 325.4z" fill="#be6e32"/>
<path d="M274.3 338L272.5 342.6L271.4 343.4L267.4 342.9L265.7 338.7L267.8 334.9L271 334.2z" fill="#82821e"/>
<path d="M323.1 316L320.8 311.8L321 310.5L322.7 308.5L327.2 309.3L329.1 313L326.6 316.5z" fill="#3264dc"/>
<path d="M331.3 348L326.8 353.4L322.4 351.7L322.2 351.3L321.8 348.8L322.8 346.3L325.1 344.9L328.2 345.1z" fill="#e678aa"/>
<path d="M251.2 337.7L252.5 333.5L252.7 333.3L255.8 333.2L259 336.6L257.7 341.9L257 342.1L252.3 340.5z" fill="#322896"/>
<path d="M293.7 369.1L290.8 371.5L286.2 371L287.1 364L287.6 363.7L292.3 364.5z" fill="#289696"/>
<path d="M304.3 309.7L306.9 305.7L309.2 304.6L313.3 307L313.5 311.9L310.8 314.4L307.2 314.3z" fill="#329646"/>
<path d="M300.6 368.5L298.1 365.9L296.8 362.2L297.4 361.1L299.7 360L303.8 359.5L306.7 362.1L307 365.1L306.1 368.1L305.3 369.1z" fill="#7850c8"/>
<path d="M264.7 292.5L272.1 292.5L271.8 295.1L270 298.4L266.7 300L265.8 299.9L263.7 297.1zM277.4 344.3L272.5 342.6L274.3 338L277.6 337.8L279.7 341.6zM309.7 329L311.5 325.9L315.2 326.8L316 328.7L312.9 332.5L312.1 332.4zM286.7 329.5L287.4 332.4L283.9 334L283.6 330.7z" fill="#e733cc"/>
<path d="M253.5 307.1L251.8 309L248 309.8L248 302.4L250.8 302.8L253.1 304.4zM267.8 334.9L264.7 332.5L264 329.3L266 326.3L268.1 325.6L273.5 328.6L271 334.2zM283.9 334L285.8 337.1L285.6 339.3L283.8 341.8L279.7 341.6L277.6 337.8L279.6 334.6zM248 292.5L257.4 292.5L257.6 296L255.2 299.6L252.7 299.4L248 297zM332 312.8L332 320.5L328.5 320L326.6 316.5L329.1 313zM248 365.5L248 356.2L254.2 359.1L252.5 364.3zM328.9 341.7L328.2 345.1L325.1 344.9L323.5 341.5L326.3 339.5z" fill="#228d33"/>
<path d="M327.7 298.5L332 301.1L332 304.8L328.5 306.2L324.4 304.7L324.4 299.4zM283.5 350.1L282.9 354.2L282.2 354.6L278.7 352.4L279.3 349.7zM323.5 341.5L325.1 344.9L322.8 346.3L320.9 344.5L322.5 341.3z" fill="#3b3ab3"/>
<path d="M305.7 316.9L308.9 319.7L308.9 323.4L304.9 326.7L300.6 322.8L300.5 320.4L303.2 317.4zM255.9 367.9L255.3 370.4L252.9 372.3L248 370.7L248 365.5L252.5 364.3zM296.8 362.2L298.1 365.9L295.5 369.5L294.9 369.6L293.7 369.1L292.3 364.5zM267.4 321L263.8 321.6L262.2 318.5L266 316.4L268.1 318.2zM248 311.8L248 309.8L251.8 309L252.9 312.5L252.8 312.9z" fill="#56863f"/>
<path d="M314.6 292.5L321.4 292.5L322.7 298.5L319.7 301.1L315.8 300.9L312.9 298.6L312.6 297.9zM321.4 331.1L318.6 328.9L321.7 325.4L323 325.9L322.6 330.7z" fill="#157551"/>
<path d="M303.5 304.1L301 307.3L297.1 306.1L296.2 301.7L300.7 299.3L303.1 301.1zM284.2 323.9L282.1 321.2L283 316.8L283.2 316.5L283.3 316.5L289.2 320.1L289.3 320.3L285.4 324.1zM276.7 300.1L278.7 297.6L280.4 297.2L283.6 300.3L282.9 303.6L279.5 304.9zM311.4 367.4L306.1 368.1L307 365.1L312.4 364.7L312.4 364.7z" fill="#dba18e"/>
<path d="M248 319.1L248 311.8L252.8 312.9L253.6 314.3L253.3 317.6L251.9 319.3zM332 304.8L332 312.8L329.1 313L327.2 309.3L328.5 306.2z" fill="#867423"/>
<path d="M327.5 355L324.8 360.1L320.1 359L319.6 355.1L322.4 351.7L326.8 353.4zM315.2 306.3L317.4 309.4L315.5 312.1L313.5 311.9L313.3 307z" fill="#4962f1"/>
<path d="M278.5 331.1L279.6 334.6L277.6 337.8L274.3 338L271 334.2L273.5 328.6L274.1 328.5zM254.2 359.1L248 356.2L248 355.2L252.7 351.7L256.7 355.1L256.9 357zM296.1 301.6L296 296.5L296.3 296.2L300.7 298.9L300.7 299.3L296.2 301.7z" fill="#744db2"/>
<path d="M304 292.5L314.6 292.5L312.6 297.9L307.3 297.9L304.2 294zM312.9 298.6L309.2 304L306.5 299.8L307.3 297.9L312.6 297.9z" fill="#383b48"/>
<path d="M269.7 303.5L271.9 300.7L274.4 299.7L276.7 300.1L279.5 304.9L277.8 307.7L272.8 308.2L269.6 305.2zM321.7 325.4L318.6 328.9L316 328.7L315.2 326.8L317 324L320.2 323.9z" fill="#cc73d4"/>
<path d="M332 364L327.2 369.8L323.2 369.1L322.1 365.1L325 360.8zM312.9 332.5L315.5 336L311.3 340.2L309.4 338.4L312.1 332.4z" fill="#d68e71"/>
<path d="M317.4 346.6L317.4 346.6L317.2 351.6L316.4 352.8L311.4 353L308.8 348.8L312.1 344.3zM286.7 329.5L283.6 330.7L281.2 329.2L280.7 326.6L284.2 323.9L285.4 324.1L287.6 327.8zM322 370.4L316.5 370.1L316.1 365.6L318.8 363.7L322.1 365.1L323.2 369.1zM281.1 366.7L281.8 369.4L278.6 371.1L277.2 370.5L277.2 366.9z" fill="#1541b6"/>
<path d="M315.5 312.1L317.9 313.7L318.9 318.4L318.8 318.7L315.7 320.4L313.2 320.2L311.6 318.9L310.8 314.4L313.5 311.9zM332 371.6L332 375.5L327.4 375.5L328.1 370.9z" fill="#a4542b"/>
<path d="M318.6 328.9L321.4 331.1L320.1 336.2L315.5 336L312.9 332.5L316 328.7zM272.8 308.2L271.1 312.5L269 312.3L265.9 309.2L265.9 307.4L269.6 305.2z" fill="#ee8568"/>
<path d="M281.5 292.5L286.1 292.5L287.7 295.9L286.9 299L283.6 300.3L280.4 297.2zM278.4 311.7L274.4 315.5L272.8 315.2L271.1 312.5L272.8 308.2L277.8 307.7z" fill="#69168a"/>
<path d="M332 327.9L332 329.1L327.9 332.6L325.4 332.7L322.6 330.7L323 325.9L326.8 324.6zM261.9 367.6L261.8 371L259 371.9L258.3 368.3z" fill="#13132e"/>
<path d="M264.2 311.1L266.2 314.3L266 316.4L262.2 318.5L261.7 318.5L258.7 316L258.3 314.4L259.9 310.6zM303.5 352.2L304 354.2L303 356.4L300.7 356.5L297.6 354.3L299.1 349.8zM304.9 326.7L308.9 323.4L310.8 324.1L311.5 325.9L309.7 329L304.9 327.2zM324.4 304.7L328.5 306.2L327.2 309.3L322.7 308.5L322.9 305.7z" fill="#2e288b"/>
<path d="M328.1 370.9L327.4 375.5L322.4 375.5L321.6 371.8L322 370.4L323.2 369.1L327.2 369.8zM297.7 318.6L300.5 320.4L300.6 322.8L298.3 324.5L293.5 323.1L293.3 322.7zM325 360.8L322.1 365.1L318.8 363.7L319 359.8L320.1 359L324.8 360.1z" fill="#527395"/>
<path d="M332 336.7L332 340.7L328.9 341.7L326.3 339.5L326.4 337.8L328.9 335.8zM295.3 337.3L289.8 335.2L289.6 333.7L293.5 330.5L293.8 330.6L295.6 336.8zM259.5 329.8L261.9 333.8L260.9 336L259 336.6L255.8 333.2z" fill="#d535ca"/>
<path d="M277.2 366.9L277.2 370.5L274.8 372.2L270.4 370.9L269 369.1L271.9 363.7L274.8 363.6z" fill="#fa4a4e"/>
<path d="M290.5 292.5L297.4 292.5L296.3 296.2L296 296.5L292 296.7L290.9 295.4zM248 348.6L248 342.4L250.6 342.5L252.8 345.8L251.8 348.4zM320.8 311.8L317.9 313.7L315.5 312.1L317.4 309.4L321 310.5z" fill="#3a88d9"/>
<path d="M314.5 358L319 359.8L318.8 363.7L316.1 365.6L312.4 364.7L312.4 364.7L311.6 361.3zM299.7 360L300.7 356.5L303 356.4L304.1 358.4L303.8 359.5z" fill="#d92a36"/>
<path d="M332 356.3L332 364L332 364L325 360.8L324.8 360.1L327.5 355zM321.4 292.5L328.1 292.5L329.2 295.5L327.7 298.5L324.4 299.4L322.7 298.5z" fill="#8944c3"/>
<path d="M311.1 353.8L314.4 357.8L314.5 358L311.6 361.3L308.6 360.6L307.2 357.7L308 355.2z" fill="#312c39"/>
<path d="M298.3 324.5L299 327.7L297.9 329.7L293.8 330.6L293.5 330.5L291.9 327.4L293.5 323.1zM253.3 317.6L257.3 318.3L258.5 320.3L257.8 324.2L253.2 323.7L251.9 319.3zM257.4 292.5L264.7 292.5L263.7 297.1L260.5 297.9L257.6 296zM286.9 299L289.7 300.8L287.5 305L282.9 303.6L283.6 300.3zM318.8 318.7L320.2 323.9L317 324L315.7 320.4zM276.1 292.5L281.5 292.5L280.4 297.2L278.7 297.6z" fill="#2e7f3e"/>
<path d="M266.7 300L269.7 303.5L269.6 305.2L265.9 307.4L264.5 306.6L263.1 302.7L265.8 299.9zM291.9 327.4L287.6 327.8L285.4 324.1L289.3 320.3L293.3 322.7L293.5 323.1z" fill="#fd63bd"/>
<path d="M316.5 370.2L318.7 373.6L318.7 375.5L311.5 375.5L313.8 371.1zM289.2 336.1L285.8 337.1L283.9 334L283.9 334L287.4 332.4L289.6 333.7L289.8 335.2z" fill="#da7b24"/>
<path d="M309.3 375.5L301 375.5L301.3 373.9L305.3 369.9zM286.9 299L287.7 295.9L290.9 295.4L292 296.7L290.9 300.3L289.7 300.8zM263.1 338.5L259.9 342.5L257.7 341.9L259 336.6L260.9 336z" fill="#11898d"/>
<path d="M293.5 330.5L289.6 333.7L287.4 332.4L286.7 329.5L287.6 327.8L291.9 327.4zM258.2 324.5L263.2 323.4L266 326.3L264 329.3L259.6 329.6zM332 320.5L332 327.9L326.8 324.6L328.5 320z" fill="#6f7476"/>
<path d="M315.7 320.4L317 324L315.2 326.8L311.5 325.9L310.8 324.1L313.2 320.2zM290.8 371.5L293 375.5L284.6 375.5L285.9 371.2L286.2 371zM306.5 299.8L309.2 304L309.2 304.6L306.9 305.7L303.5 304.1L303.1 301.1zM261.7 318.5L258.5 320.3L257.3 318.3L258.7 316z" fill="#b18479"/>
<path d="M272.1 292.5L276.1 292.5L278.7 297.6L276.7 300.1L274.4 299.7L271.8 295.1zM252.7 299.4L250.8 302.8L248 302.4L248 297z" fill="#d37b3e"/>
<path d="M264.6 375.5L257.4 375.5L258.1 372.6L259 371.9L261.8 371L264.2 372.6zM305.3 369.9L301.3 373.9L299.4 369.9L300.6 368.5L305.3 369.1zM252.8 345.8L250.6 342.5L252.3 340.5L257 342.1zM266 326.3L263.2 323.4L263.8 321.6L267.4 321L268.1 325.6z" fill="#4397a9"/>
<path d="M301 375.5L294.1 375.5L294.9 369.6L295.5 369.5L299.4 369.9L301.3 373.9zM294.9 369.6L294.1 375.5L293 375.5L290.8 371.5L293.7 369.1z" fill="#f472e8"/>
<path d="M321 310.5L317.4 309.4L315.2 306.3L316 305.2L320 303.7L322.9 305.7L322.7 308.5z" fill="#397f8b"/>
<path d="M284.6 375.5L280.3 375.5L278.6 371.1L281.8 369.4L285.9 371.2zM322.4 375.5L318.7 375.5L318.7 373.6L321.6 371.8zM255.8 308.8L252.9 312.5L251.8 309L253.5 307.1zM292.5 309.5L292.8 313L289.4 314.2L288.8 313.8L289.8 309.1z" fill="#0e7661"/>
<path d="M265.7 338.7L263.1 338.5L260.9 336L261.9 333.8L264.7 332.5L267.8 334.9zM300.2 315.2L297.8 316.4L296 313.6L296.8 312.2L300.1 311.9z" fill="#398cff"/>
<path d="M300.1 311.9L296.8 312.2L295.2 308.7L297.1 306.1L301 307.3L302.1 309.4zM258.3 314.4L253.6 314.3L252.8 312.9L252.9 312.5L255.8 308.8L259.3 309.3L259.9 310.6zM324.1 336L326.4 337.8L326.3 339.5L323.5 341.5L322.5 341.3L320.8 336.7zM252.7 351.7L248 355.2L248 348.6L251.8 348.4z" fill="#ad6099"/>
<path d="M248 327.4L248 319.1L251.9 319.3L253.2 323.7L248.9 327.4z" fill="#ed3331"/>
<path d="M285.9 371.2L281.8 369.4L281.1 366.7L283.5 363.6L287.1 364L286.2 371zM311.5 375.5L309.3 375.5L305.3 369.9L305.3 369.1L306.1 368.1L311.4 367.4L313.8 371.1z" fill="#9f7b82"/>
<path d="M315.8 300.9L316 305.2L315.2 306.3L313.3 307L309.2 304.6L309.2 304L312.9 298.6z" fill="#df538b"/>
<path d="M332 348L332 356.3L327.5 355L326.8 353.4L331.3 348zM314.4 357.8L316.6 353.5L319.6 355.1L320.1 359L319 359.8L314.5 358z" fill="#9750eb"/>
<path d="M270.4 370.9L269.8 375.5L264.6 375.5L264.2 372.6L267.9 369.1L269 369.1zM300.7 356.5L299.7 360L297.4 361.1L296.7 354.9L297.6 354.3z" fill="#2e313f"/>
<path d="M267.9 369.1L263.4 366.4L264.4 361.3L269.8 361.5L271.9 363.7L269 369.1z" fill="#7e8fa1"/>
<path d="M297.9 329.7L300.5 332.1L300.3 334.6L295.6 336.8L293.8 330.6zM319.7 301.1L320 303.7L316 305.2L315.8 300.9z" fill="#716d25"/>
<path d="M253.8 375.5L248 375.5L248 370.7L252.9 372.3z" fill="#8a5e41"/>
<path d="M281.1 366.7L277.2 366.9L274.8 363.6L276.9 361.4L280.8 360.9L283.5 363.6zM248 342.4L248 337.7L251.2 337.7L252.3 340.5L250.6 342.5zM292.3 350.3L291.8 352L288.6 353.1L285.4 348.9L287.2 345.7L287.6 345.7z" fill="#bc7796"/>
<path d="M297.4 292.5L304 292.5L304.2 294L300.7 298.9L296.3 296.2zM251.2 337.7L248 337.7L248 333.9L252.5 333.5z" fill="#5180b7"/>
<path d="M258.5 320.3L261.7 318.5L262.2 318.5L263.8 321.6L263.2 323.4L258.2 324.5L257.8 324.2zM311.1 353.8L308 355.2L306.7 354L306.5 349.9L306.8 349.4L308.8 348.8L311.4 353zM270.1 354.8L269.8 361.5L264.4 361.3L263.3 359.3L266.9 354.4zM287.2 345.7L283.8 341.8L285.6 339.3L289.6 340.4L287.6 345.7zM277.3 357.3L280.5 357.3L280.8 360.9L276.9 361.4z" fill="#2d94bb"/>
<path d="M317.4 346.6L321.8 348.8L322.2 351.3L317.2 351.6zM271.8 295.1L274.4 299.7L271.9 300.7L270 298.4z" fill="#9044de"/>
<path d="M289.2 336.1L290.4 339.7L289.6 340.4L285.6 339.3L285.8 337.1zM258.7 316L257.3 318.3L253.3 317.6L253.6 314.3L258.3 314.4zM300.5 320.4L297.7 318.6L297.8 316.4L300.2 315.2L303.2 317.4z" fill="#2e1598"/>
<path d="M282.9 354.2L283.5 350.1L285.4 348.9L288.6 353.1L287 354.7z" fill="#f37239"/>
<path d="M278.8 321.6L282.1 321.2L284.2 323.9L280.7 326.6L277.8 325.4zM252.5 333.5L248 333.9L248 327.4L248.9 327.4L252.7 333.3zM280.3 375.5L274.9 375.5L274.8 372.2L277.2 370.5L278.6 371.1zM257.6 296L260.5 297.9L259.1 301.1L255.8 300.5L255.2 299.6zM270 298.4L271.9 300.7L269.7 303.5L266.7 300z" fill="#5f6a9b"/>
<path d="M259.9 342.5L263.1 338.5L265.7 338.7L267.4 342.9L263.7 345.3zM267.9 369.1L264.2 372.6L261.8 371L261.9 367.6L263.4 366.4zM332 340.7L332 348L331.3 348L328.2 345.1L328.9 341.7z" fill="#568eda"/>
<path d="M257.4 375.5L253.8 375.5L252.9 372.3L255.3 370.4L258.1 372.6zM264.7 332.5L261.9 333.8L259.5 329.8L259.6 329.6L264 329.3z" fill="#8561a3"/>
<path d="M261 307L264.5 306.6L265.9 307.4L265.9 309.2L264.2 311.1L259.9 310.6L259.3 309.3z" fill="#f065bb"/>
<path d="M274.9 375.5L269.8 375.5L270.4 370.9L274.8 372.2zM268.1 318.2L266 316.4L266.2 314.3L269 312.3L271.1 312.5L272.8 315.2zM329.2 295.5L332 295.8L332 301.1L327.7 298.5zM296 296.5L296.1 301.6L290.9 300.3L292 296.7zM290.4 339.7L289.2 336.1L289.8 335.2L295.3 337.3L295.3 337.5z" fill="#383be0"/>
<path d="M332 329.1L332 336.7L328.9 335.8L327.9 332.6zM321.6 371.8L318.7 373.6L316.5 370.2L316.5 370.1L322 370.4z" fill="#604590"/>
<path d="M278.7 352.4L282.2 354.6L280.5 357.3L277.3 357.3L275.7 354.8zM283 316.8L278.1 319.3L275.9 316.4L280.3 314.4L283.2 316.5z" fill="#be6dd2"/>
<path d="M324.1 336L325.4 332.7L327.9 332.6L328.9 335.8L326.4 337.8z" fill="#d73198"/>
<path d="M307.2 357.7L304.1 358.4L303 356.4L304 354.2L306.7 354L308 355.2zM303 328.5L299 327.7L298.3 324.5L300.6 322.8L304.9 326.7L304.9 327.2zM306.5 349.9L306.7 354L304 354.2L303.5 352.2z" fill="#e931ab"/>
<path d="M278.5 331.1L281.2 329.2L283.6 330.7L283.9 334L283.9 334L279.6 334.6zM319.6 355.1L316.6 353.5L316.4 352.8L317.2 351.6L322.2 351.3L322.4 351.7z" fill="#ff7faf"/>
<path d="M303.5 304.1L306.9 305.7L304.3 309.7L302.1 309.4L301 307.3zM304.1 358.4L307.2 357.7L308.6 360.6L306.7 362.1L303.8 359.5z" fill="#62762e"/>
<path d="M324.4 299.4L324.4 304.7L322.9 305.7L320 303.7L319.7 301.1L322.7 298.5zM307.3 297.9L306.5 299.8L303.1 301.1L300.7 299.3L300.7 298.9L304.2 294zM310.8 314.4L311.6 318.9L308.9 319.7L305.7 316.9L307.2 314.3zM255.8 300.5L253.1 304.4L250.8 302.8L252.7 299.4L255.2 299.6z" fill="#342b80"/>
<path d="M281.2 329.2L278.5 331.1L274.1 328.5L277.8 325.4L280.7 326.6zM328.1 292.5L332 292.5L332 295.8L329.2 295.5z" fill="#2f95a7"/>
<path d="M318.9 318.4L317.9 313.7L320.8 311.8L323.1 316zM272.5 342.6L277.4 344.3L277.2 346.8L273.4 347.3L271.4 343.4zM280.3 314.4L275.9 316.4L274.4 315.5L278.4 311.7z" fill="#2e34c0"/>
<path d="M312.4 364.7L307 365.1L306.7 362.1L308.6 360.6L311.6 361.3zM320.9 344.5L322.8 346.3L321.8 348.8L317.4 346.6L317.4 346.6zM313.2 320.2L310.8 324.1L308.9 323.4L308.9 319.7L311.6 318.9z" fill="#3c834c"/>
<path d="M292.8 313L292.5 309.5L295.2 308.7L296.8 312.2L296 313.6zM265.8 299.9L263.1 302.7L260.9 302.8L259.1 301.1L260.5 297.9L263.7 297.1z" fill="#e32c48"/>
<path d="M325.4 332.7L324.1 336L320.8 336.7L320.1 336.2L321.4 331.1L322.6 330.7zM316.6 353.5L314.4 357.8L311.1 353.8L311.4 353L316.4 352.8z" fill="#593096"/>
<path d="M316.1 365.6L316.5 370.1L316.5 370.2L313.8 371.1L311.4 367.4L312.4 364.7zM258.3 368.3L259 371.9L258.1 372.6L255.3 370.4L255.9 367.9zM300.5 332.1L297.9 329.7L299 327.7L303 328.5z" fill="#d69c67"/>
<path d="M295.6 336.8L300.3 334.6L302.8 338.1L299.7 341.3L295.3 337.5L295.3 337.3zM286.1 292.5L290.5 292.5L290.9 295.4L287.7 295.9zM282.1 321.2L278.8 321.6L278.1 319.3L283 316.8z" fill="#5516a8"/>
<path d="M288.8 313.8L289.4 314.2L289.2 320.1L283.3 316.5z" fill="#349f4c"/>
<path d="M265.9 309.2L269 312.3L266.2 314.3L264.2 311.1z" fill="#c5952e"/>
<path d="M306.8 349.4L306.5 349.9L303.5 352.2L299.1 349.8L299 349.3L300.2 347.4z" fill="#1c4277"/>
<path d="M332 364L332 371.6L328.1 370.9L327.2 369.8L332 364z" fill="#2c7940"/>
<path d="M299.1 349.8L297.6 354.3L296.7 354.9L291.8 352L292.3 350.3L299 349.3z" fill="#ff7d40"/>
<path d="M300.6 368.5L299.4 369.9L295.5 369.5L298.1 365.9z" fill="#136e6a"/>
<path d="M263.1 302.7L264.5 306.6L261 307L260.9 302.8z" fill="#df5afc"/>
</g></g>
<rect x="316.6" y="373" width="11.9" height="1.3" fill="#111"/>
<text x="323.4" y="377.6" font-size="3.4" font-weight="bold" text-anchor="middle" fill="#222">10µm</text>
<rect x="419" y="296.4" width="79.3" height="83.7" fill="#fff" stroke="#adadad" stroke-width="0.9"/>
<clipPath id="clip-g"><rect x="420" y="297" width="77.9" height="77.3"/></clipPath>
<g clip-path="url(#clip-g)"><g filter="url(#soft)" stroke="#0a0812" stroke-width="0.55" stroke-linejoin="round">
<rect x="418" y="295" width="81.9" height="81.3" fill="#15101c" stroke="none"/>
<path d="M456.8 319.4L458.9 321.9L459.1 327L458.3 328.4L454.1 329.4L450 328.6L447.8 323.7L453.2 317.9L453.7 317.9z" fill="#f56e32"/>
<path d="M442.2 320.9L442.4 316.1L443.1 314.7L446.1 313L449.2 312.9L451 313.9L453.2 317.9L447.8 323.7L442.8 322.4z" fill="#e68296"/>
<path d="M429.7 305.8L431.9 309.9L432.1 310.8L429.1 314.5L426 315.6L422.6 314.8L420.7 313L420.1 310.5L420.5 307.3L421.8 305.1L424.1 303.6L425.6 303.6z" fill="#281e8c"/>
<path d="M430.1 319.2L429.1 314.5L432.1 310.8L433.9 311.4L437 315L435.7 319.2L435.3 319.5L431 319.9z" fill="#643ce6"/>
<path d="M447.8 296.4L452.1 297.7L453.4 299.1L454.8 303.3L454.7 304.1L452.2 307.6L449 308.9L445.1 308.4L442.5 306.2L441.7 301.9L443.2 298.4L443.2 298.4z" fill="#28286e"/>
<path d="M464 343.8L460.1 345.2L458.7 345.2L456.5 343L457.6 337.7L461.4 336.4L465.2 337.6L465.2 337.7L465.7 341.8z" fill="#f0963c"/>
<path d="M476.1 349.3L472.7 352.2L471.4 351.9L468.1 349.1L467.4 346.8L468.7 343.1L470 342.4L473.5 342.5L476.4 344.4L476.8 347.8z" fill="#e664e6"/>
<path d="M494.2 355.7L486.1 356.8L484.1 354.7L484 354L485.4 349.2L485.8 348.9L489.4 347.8L492.3 348.8L494.1 350.8z" fill="#f08232"/>
<path d="M419.5 327.9L420.6 324.1L421.5 323.6L425.5 323.6L426.5 324.6L427.3 327.9L425.5 331.2L425.2 331.4L421.4 330.8z" fill="#f0823c"/>
<path d="M450 328.6L449.1 330.6L443.9 332.8L441 331.5L439.8 329.5L439.5 327.3L440.1 325L442.8 322.4L447.8 323.7z" fill="#64826e"/>
<path d="M466.8 353.7L471.4 351.9L472.7 352.2L473 352.5L474.6 357.2L474.3 358.1L471.3 360.5L467.7 359.7L466.3 358.4z" fill="#326edc"/>
<path d="M466.3 358.4L462.2 361L459.5 360.5L456.7 357L456.8 354.4L458.6 350.8L462.9 350.5L465.8 352.1L466.8 353.7z" fill="#f05a96"/>
<path d="M427.6 352.9L431.3 350.8L433.5 350.8L435.5 351.8L436.7 355.4L435.7 357.5L431.3 359.1L429 358.5z" fill="#e68c46"/>
<path d="M444.8 356.3L444.5 361.8L443 363.5L442.9 363.5L437.2 361.8L435.7 357.5L436.7 355.4L442.3 354.1z" fill="#eb50c8"/>
<path d="M426.5 360.5L422.6 360.4L420.9 359.1L420.1 356.1L422.2 352.9L427 352.4L427.6 352.9L429 358.5z" fill="#3c6ed2"/>
<path d="M486.1 326L485.1 323.3L486.8 318.5L486.8 318.4L491.9 318.5L493.7 319.4L495 323.5L492.7 327.3L492.3 327.5L488.5 327.7L486.7 326.7z" fill="#f07832"/>
<path d="M494.8 357L494.6 362L494.5 362.3L493 363.3L488.2 364.5L485.4 362.3L486.1 356.8L494.2 355.7L494.5 356z" fill="#8250d2"/>
<path d="M440.8 341.6L441.3 344.2L440.5 346.5L437.1 347.4L434.4 345.7L433.8 343.4L434.5 341.7L437.4 339.6L438.2 339.5z" fill="#f064aa"/>
<path d="M452.9 343.7L449.2 341.9L448.4 340L448.3 338.1L451.5 334.2L453.3 334L455.9 335.1L457.6 337.7L456.5 343z" fill="#28968c"/>
<path d="M448.3 338.1L444.2 336.7L443.9 332.8L449.1 330.6L451.5 334.2z" fill="#c88232"/>
<path d="M474.4 328L471.9 325.9L471.7 321.7L474.7 320.7L477.4 321.4L479 324L478.3 327L476.3 328.4z" fill="#e63caa"/>
<path d="M442.2 351.7L444.2 348.1L444.8 347.7L447.5 347.7L450.7 349.7L451.8 351.7L450.8 354.1L448.7 356.1L444.8 356.3L442.3 354.1z" fill="#eb8c78"/>
<path d="M488.6 365.9L488.3 368.1L484.7 371.9L482.2 370.7L480.3 367.5L481.8 363.5L483.2 362.6L485.4 362.3L488.2 364.5z" fill="#325ac8"/>
<path d="M499.2 305.4L498 309.7L497.3 310.3L493.5 310.5L492 308.5L493.7 304.4L497.4 304zM479.3 298.5L481.4 300.2L481.6 302.8L481.3 303.4L477.1 304L475.8 300.2L476.9 298.8zM486.8 318.5L482.4 320L480 318.3L481 315.9L483.2 314.8L486.3 315.3L486.8 318.4zM477.1 374.5L473.1 374L472.4 372L473.1 369.6L476.9 368.6L477.1 368.7L478.3 371.8z" fill="#ff6435"/>
<path d="M437.4 339.6L433.9 336.8L433.7 334.1L436.2 332.7L439.3 333.6L440.1 336.9L438.2 339.5zM494.8 298.5L497.7 300.6L497.4 304L493.7 304.4L492.1 302.2L494.8 298.5zM473.5 299.8L475.8 300.2L477.1 304L476.5 305.3L476.4 305.3L472.2 305.9L470.5 301.9zM454.7 304.1L457.1 305.9L457.4 309.1L454.9 310.6L452.2 307.6zM500.9 360.6L500.9 364.5L497 365L494.5 362.3L494.6 362L498.8 360.2zM491.3 314.4L491.9 318.5L486.8 318.4L486.3 315.3L486.6 314.7zM500.9 314.9L500.9 317.5L496 317.5L496 314.7L498 313.5zM470 333.1L471.9 330.7L471.9 330.7L475.4 332.5L473.4 335.2L470.8 334.8zM417 328L417 322.1L420.6 324.1L419.5 327.9zM484 354L480.1 350.9L480.5 349L481.6 348.2L485.4 349.2zM448.1 371.6L448 368.8L450.7 367.3L453.2 370.6L452.7 371.8z" fill="#2f70b0"/>
<path d="M468.9 294L471.5 294L473.6 296.8L473.5 299.8L470.5 301.9L470.3 301.8L466.4 298.6zM476.9 368.6L473.8 365.3L473.8 363.9L476.8 361.1L477.8 361L481.8 363.5L480.3 367.5L477.1 368.7zM500.9 322.5L500.9 327.2L498 327.6L496.2 323.8zM492.3 348.8L494.4 345.9L496.1 346.6L496.3 349.9L494.1 350.8z" fill="#6f7c97"/>
<path d="M438.4 369.6L438.2 373.6L434.9 375L431.8 373.5L430.9 372L432.5 367.9L437.3 368.1zM426 315.6L425.9 317.1L422.4 319L422.2 318.8L422.6 314.8z" fill="#c756f7"/>
<path d="M458.1 350.1L451.9 351.7L451.8 351.7L450.7 349.7L451.4 345.9L452.9 343.7L456.5 343L458.7 345.2zM485.7 339.7L489.7 342.3L489.7 342.7L489.2 343.6L485.4 345.1L482.3 343.4L482.9 341.4zM497.3 310.3L498 313.5L496 314.7L493.2 312.4L493.5 310.5zM477.9 377.3L472.6 377.3L472.5 374.6L473.1 374L477.1 374.5z" fill="#0b856a"/>
<path d="M500.9 336.5L500.9 343.8L498.9 344L496.3 342.5L495.1 339.2L498.3 336.7zM430.7 304.7L429.9 301.1L433.1 300.2L435.7 302.9L435.3 304.4L434.2 305zM463.8 304.1L461.9 306.1L459.9 304.9L460.7 302.1L461.8 301.9z" fill="#3c4abb"/>
<path d="M493.2 312.4L491.3 314.4L486.6 314.7L486 310.1L489.3 308L492 308.5L493.5 310.5zM470.8 334.8L469.5 337.6L465.2 337.7L465.2 337.6L465.2 333.1L466.9 331.8L470 333.1zM496.3 342.5L494.1 344.9L489.7 342.7L489.7 342.3L490.1 341.5L493.8 338.9L495.1 339.2zM481.7 305L484.4 306L485.4 309.8L480.7 311L480.1 310.9L479.9 310.7L479.8 307.3zM422.6 360.4L422.1 363.1L420.3 363.8L417 362.3L417 361.3L420.9 359.1zM467.4 346.8L465.1 346.5L464 343.8L465.7 341.8L468.7 343.1z" fill="#ec8f8b"/>
<path d="M476 309.5L479.9 310.7L480.1 310.9L479.3 314.2L477 316.6L475.5 316.7L473.3 315.6L472.5 312.3L473.5 310.3zM426.4 340.8L424.9 343.9L424.8 344L421.1 343.5L420 340.3L420.9 337.9L421.6 337.3L423.4 337.2L425.7 338.8zM439.2 308.1L435.3 304.4L435.7 302.9L437.1 301.7L441.7 301.9L442.5 306.2zM470.3 301.8L466.4 303.4L466.1 298.7L466.4 298.6z" fill="#7337d8"/>
<path d="M460.3 373.7L455.3 377.1L452.7 371.8L453.2 370.6L455.5 368.4L459.3 368.9L460.8 371.4zM464.6 371.8L461.8 371.1L463.2 368.9L465.8 369.6z" fill="#f25596"/>
<path d="M476.2 332.1L476.3 328.4L478.3 327L481.6 328L483.2 330.7L480.6 334zM469.8 371.8L469.4 374.3L468.3 375.4L465.1 374.3L464.6 371.8L465.8 369.6L466.5 369.3L469.3 370.7zM442.4 316.1L439.4 316.3L437.3 315L439.3 311.3L442 312.5L443.1 314.7zM492.3 327.5L491.9 332.5L487.7 332.8L488.5 327.7zM479.2 318.4L477.4 321.4L474.7 320.7L475.5 316.7L477 316.6z" fill="#4e6e8e"/>
<path d="M479.9 357.7L477.4 356.2L477 353L477.9 351.7L480.1 350.9L484 354L484.1 354.7L480.2 357.7zM417 371.8L417 366L420 365.7L421.9 367L422.6 369.9L418.6 371.9zM463.2 368.9L461.8 371.1L460.8 371.4L459.3 368.9L460.5 366.8L461.3 366.6zM441.1 347.4L440.3 349.7L437.1 349.8L437.1 347.4L440.5 346.5zM429.9 301.1L430.7 304.7L429.7 305.8L425.6 303.6L429.5 300.8z" fill="#212a5a"/>
<path d="M448.4 361.1L451.3 363.3L451.6 365.6L450.7 367.3L448 368.8L444.2 366.9L443 363.5L444.5 361.8zM456.7 363.9L452.8 361.6L452.6 360L454.3 357.6L456.7 357L459.5 360.5L457 363.8zM441.3 344.2L444.2 343.8L444.8 347.7L444.2 348.1L441.1 347.4L440.5 346.5zM479.3 314.2L481 315.9L480 318.3L479.2 318.4L477 316.6zM447.5 347.7L448.7 345.4L451.4 345.9L450.7 349.7zM434.9 377.3L430.7 377.3L431.8 373.5L434.9 375z" fill="#1f51c4"/>
<path d="M465.7 325.7L467.3 329.8L466.9 331.8L465.2 333.1L461.8 333L459.1 330.9L458.3 328.4L459.1 327L463.2 325.2zM485.4 309.8L484.4 306L485.8 304.6L488.1 304.9L489.3 308L486 310.1zM454.1 329.4L453.3 334L451.5 334.2L449.1 330.6L450 328.6zM439.3 311.3L437.3 315L437 315L433.9 311.4L438.6 309.8zM442 312.5L444.9 309.8L446.1 313L443.1 314.7z" fill="#363589"/>
<path d="M480.5 337.7L477.2 339.8L474.8 339.2L474 338.3L473.4 335.2L475.4 332.5L476.2 332.1L480.6 334L481.1 336zM461.8 333L461.4 336.4L457.6 337.7L455.9 335.1L459.1 330.9zM474.3 358.1L476.8 361.1L473.8 363.9L471.6 362.1L471.3 360.5zM435.7 302.9L433.1 300.2L433.8 298.1L435.1 297.6L436 298L437.1 301.7z" fill="#3053c4"/>
<path d="M468.7 314.8L471.7 316.6L471.4 321.5L467.9 322.1L464.4 319.3L465 316zM484.4 377.3L477.9 377.3L477.1 374.5L478.3 371.8L482.2 370.7L484.7 371.9L485.2 372.7zM466.4 325.3L469.9 327.2L469.6 328.5L467.3 329.8L465.7 325.7zM487.4 333.4L488.8 337.2L486 338.2L485 336.4z" fill="#141359"/>
<path d="M500.9 343.8L500.9 352.4L496.3 349.9L496.1 346.6L498.9 344zM435.1 324.1L435.6 327.5L434.7 328.8L432.3 329.4L430.5 327.5L430.9 324L431 323.9zM453.3 294L457.6 294L458.2 296.5L457.6 297.9L453.4 299.1L452.1 297.7zM486.3 315.3L483.2 314.8L480.7 311L485.4 309.8L486 310.1L486.6 314.7zM482.2 370.7L478.3 371.8L477.1 368.7L480.3 367.5zM451.4 345.9L448.7 345.4L448.4 342.8L449.2 341.9L452.9 343.7zM426.2 364L423.3 364.5L422.1 363.1L422.6 360.4L426.5 360.5zM462.8 377.3L455.3 377.3L455.3 377.1L460.3 373.7L462.8 376.7z" fill="#239d86"/>
<path d="M494 377.3L484.4 377.3L485.2 372.7L490.6 371.7L491.5 372zM497.2 294L500.9 294L500.9 299.6L497.7 300.6L494.8 298.5zM417 294L423.5 294L421.6 298.5L417 299.5zM420.5 307.3L417 307.5L417 302.4L421.8 305.1zM439.8 329.5L436.5 330.8L434.7 328.8L435.6 327.5L439.5 327.3zM442.2 320.9L438.9 319L439.4 316.3L442.4 316.1zM471.7 316.6L468.7 314.8L469.2 312.6L472.5 312.3L473.3 315.6zM473.5 299.8L473.6 296.8L475.7 296.4L476.9 298.8L475.8 300.2z" fill="#239c8f"/>
<path d="M423.5 294L428.6 294L429.6 296.1L429.5 300.8L425.6 303.6L424.1 303.6L421.6 298.5zM498 371.2L496 377.3L494 377.3L491.5 372L495 369.1zM458.1 350.1L458.7 345.2L460.1 345.2L463.3 347.7L462.9 350.5L458.6 350.8zM500.9 352.4L500.9 353.3L494.5 356L494.2 355.7L494.1 350.8L496.3 349.9zM462.1 320.6L463.2 325.2L459.1 327L458.9 321.9L461.8 320.6zM480.4 294L486 294L484.2 297.6L480.8 295.8z" fill="#295fd7"/>
<path d="M455.3 377.3L446 377.3L448 371.7L448.1 371.6L452.7 371.8L455.3 377.1zM500.9 317.5L500.9 322.5L496.2 323.8L495 323.5L493.7 319.4L496 317.5zM471.6 367.9L469.3 370.7L466.5 369.3L467.9 366.3zM453.2 370.6L450.7 367.3L451.6 365.6L455.1 366.2L455.5 368.4zM467.9 322.1L466.4 325.3L465.7 325.7L463.2 325.2L462.1 320.6L464.4 319.3zM476 309.5L476.4 305.3L476.5 305.3L479.8 307.3L479.9 310.7zM500.9 305.4L500.9 310L498 309.7L499.2 305.4z" fill="#3082a9"/>
<path d="M426.2 364L426.5 360.5L429 358.5L431.3 359.1L433.4 363.4L431.9 366.8L428.1 366.5zM425.4 333.9L428.3 335.6L428.4 337.1L425.7 338.8L423.4 337.2zM480.5 337.7L482.9 341.4L482.3 343.4L481.9 343.7L477.9 343.2L477.2 339.8z" fill="#ff8541"/>
<path d="M500.9 353.3L500.9 360.6L498.8 360.2L494.8 357L494.5 356zM477.4 321.4L479.2 318.4L480 318.3L482.4 320L482.6 323L482.1 323.5L479 324zM466 311.3L464.3 308.9L466.7 306.9L468 307.8L467.5 311zM475.4 332.5L471.9 330.7L474.4 328L476.3 328.4L476.2 332.1z" fill="#29879f"/>
<path d="M500.9 364.5L500.9 370.5L498 371.2L495 369.1L495 368.6L497 365zM417 350.5L417 344.4L420.3 344.4L421.9 348.1L420.5 350.1zM479.9 357.7L477.8 361L476.8 361.1L474.3 358.1L474.6 357.2L477.4 356.2zM428.3 335.6L425.4 333.9L425.2 331.4L425.5 331.2L430.1 333.1zM464 343.8L465.1 346.5L463.3 347.7L460.1 345.2z" fill="#188463"/>
<path d="M471.8 306.7L468 307.8L466.7 306.9L465.7 304.2L466.4 303.4L470.3 301.8L470.5 301.9L472.2 305.9zM448 371.7L443.1 371.8L442.4 370.1L444.2 366.9L448 368.8L448.1 371.6z" fill="#3c71ee"/>
<path d="M429.1 346.8L426.5 349.9L423 347.8L424.8 344L424.9 343.9L428.6 345.2zM481.9 343.7L481.6 348.2L480.5 349L476.8 347.8L476.4 344.4L477.9 343.2zM438.6 309.8L433.9 311.4L432.1 310.8L431.9 309.9L434.2 305L435.3 304.4L439.2 308.1zM463.3 363.4L461.3 366.6L460.5 366.8L457 363.8L459.5 360.5L462.2 361zM498.9 344L496.1 346.6L494.4 345.9L494.1 344.9L496.3 342.5z" fill="#173a78"/>
<path d="M435.5 351.8L437.1 349.8L440.3 349.7L442.2 351.7L442.3 354.1L436.7 355.4zM486 294L489.9 294L490 294L488.2 299.7L485.5 299.7L484.2 298.2L484.2 297.6zM417 314.3L417 310.1L420.1 310.5L420.7 313z" fill="#ee5b7b"/>
<path d="M435.7 319.2L438.9 319L442.2 320.9L442.8 322.4L440.1 325L435.8 323.5L435.3 319.5zM500.9 370.5L500.9 377.3L496 377.3L498 371.2zM463.3 347.7L465.1 346.5L467.4 346.8L468.1 349.1L465.8 352.1L462.9 350.5zM482.1 323.5L482.7 326.3L481.6 328L478.3 327L479 324z" fill="#307b53"/>
<path d="M464.3 308.9L466 311.3L464.1 314.7L460.9 314L460.1 310.2L462.3 308.5zM454.6 311.6L451 313.9L449.2 312.9L449 308.9L452.2 307.6L454.9 310.6z" fill="#3779b7"/>
<path d="M472.5 312.3L469.2 312.6L467.5 311L468 307.8L471.8 306.7L473.5 310.3zM442.4 370.1L438.4 369.6L437.3 368.1L438 366L442.9 363.5L443 363.5L444.2 366.9z" fill="#bb6382"/>
<path d="M433.9 336.8L432.3 338.6L430.2 338.8L428.4 337.1L428.3 335.6L430.1 333.1L431.6 332.7L433.7 334.1zM425.2 331.4L425.4 333.9L423.4 337.2L421.6 337.3L419.6 333.1L421.4 330.8zM480.8 295.8L484.2 297.6L484.2 298.2L481.4 300.2L479.3 298.5z" fill="#78861d"/>
<path d="M444 336.9L444 339.7L442.5 341.3L440.8 341.6L438.2 339.5L440.1 336.9zM460.7 302.1L458.3 301L457.6 297.9L458.2 296.5L462.8 296.6L464 298.3L461.8 301.9zM485.8 348.9L485.4 345.1L489.2 343.6L489.4 347.8z" fill="#e7906c"/>
<path d="M431.8 373.5L430.7 377.3L425.2 377.3L425.6 375.1L429.2 371.9L430.9 372zM493.7 304.4L492 308.5L489.3 308L488.1 304.9L490.2 302.1L492.1 302.2zM475.5 316.7L474.7 320.7L471.7 321.7L471.4 321.5L471.7 316.6L473.3 315.6zM419.6 333.1L417 333.5L417 328L419.5 327.9L421.4 330.8zM471.5 294L476.4 294L475.7 296.4L473.6 296.8zM424.8 344L423 347.8L421.9 348.1L420.3 344.4L421.1 343.5z" fill="#5e68f5"/>
<path d="M425.2 377.3L421.3 377.3L418.6 371.9L422.6 369.9L423.8 370.3L425.6 375.1zM461.8 320.6L459.3 317.6L459.4 315.2L460.9 314L464.1 314.7L465 316L464.4 319.3L462.1 320.6zM455.1 366.2L451.6 365.6L451.3 363.3L452.8 361.6L456.7 363.9zM486.1 326L482.7 326.3L482.1 323.5L482.6 323L485.1 323.3z" fill="#698e74"/>
<path d="M490.2 302.1L488.1 304.9L485.8 304.6L484.4 302.3L485.5 299.7L488.2 299.7zM491.9 332.5L492.3 327.5L492.7 327.3L496.9 328.9L497.4 331.3L495.8 333.1L492.9 333.4zM450.8 354.1L454.3 357.6L452.6 360L449.6 359.1L448.7 356.1zM433.2 347.1L430.3 347.5L429.1 346.8L428.6 345.2L429.6 343.5L433.8 343.4L434.4 345.7zM490.1 341.5L489.4 337.6L492.5 337L493.8 338.9zM471.6 362.1L467.3 364.2L467.2 364.1L467.7 359.7L471.3 360.5z" fill="#0f2598"/>
<path d="M460.1 310.2L460.9 314L459.4 315.2L456.2 314.7L454.6 311.6L454.9 310.6L457.4 309.1zM437.1 301.7L436 298L439.1 295.8L443.2 298.4L441.7 301.9zM448.4 340L445.3 340.7L444 339.7L444 336.9L444.2 336.7L448.3 338.1zM427 352.4L426.5 349.9L429.1 346.8L430.3 347.5L431.3 350.8L427.6 352.9zM498.8 360.2L494.6 362L494.8 357zM439.4 316.3L438.9 319L435.7 319.2L437 315L437.3 315z" fill="#641e86"/>
<path d="M493.2 312.4L496 314.7L496 317.5L493.7 319.4L491.9 318.5L491.3 314.4zM471.6 367.9L467.9 366.3L467.3 364.2L471.6 362.1L473.8 363.9L473.8 365.3L471.6 367.9zM483.6 330.7L487.5 332.9L487.4 333.4L485 336.4L481.1 336L480.6 334L483.2 330.7zM459.9 304.9L461.9 306.1L462.3 308.5L460.1 310.2L457.4 309.1L457.1 305.9zM489.9 294L497.2 294L494.8 298.5L494.8 298.5L490 294z" fill="#596f8f"/>
<path d="M490 294L494.8 298.5L492.1 302.2L490.2 302.1L488.2 299.7z" fill="#ae5a2c"/>
<path d="M445 377.3L439 377.3L438.9 374.1L442.6 373.2zM476.4 305.3L476 309.5L473.5 310.3L471.8 306.7L472.2 305.9zM420 365.7L420.3 363.8L422.1 363.1L423.3 364.5L421.9 367zM420.3 363.8L420 365.7L417 366L417 362.3z" fill="#fba274"/>
<path d="M483.2 362.6L480.2 357.7L484.1 354.7L486.1 356.8L485.4 362.3zM485 336.4L486 338.2L485.7 339.7L482.9 341.4L480.5 337.7L481.1 336zM486 338.2L488.8 337.2L489.4 337.6L490.1 341.5L489.7 342.3L485.7 339.7zM469.6 328.5L471.9 330.7L470 333.1L466.9 331.8L467.3 329.8zM471.4 351.9L466.8 353.7L465.8 352.1L468.1 349.1z" fill="#309d3a"/>
<path d="M492.9 333.4L492.5 337L489.4 337.6L488.8 337.2L487.4 333.4L487.5 332.9L487.7 332.8L491.9 332.5zM454.3 357.6L450.8 354.1L451.8 351.7L451.9 351.7L456.8 354.4L456.7 357zM420.9 337.9L417 336.8L417 333.5L419.6 333.1L421.6 337.3z" fill="#c667c9"/>
<path d="M428.7 341.2L430.2 338.8L432.3 338.6L434.5 341.7L433.8 343.4L429.6 343.5zM500.9 332.7L500.9 336.5L498.3 336.7L495.8 333.1L497.4 331.3zM422.2 352.9L420.5 350.1L421.9 348.1L423 347.8L426.5 349.9L427 352.4zM476.1 349.3L477.9 351.7L477 353L473 352.5L472.7 352.2zM442.9 363.5L438 366L436.7 362.6L437.2 361.8z" fill="#e87341"/>
<path d="M421.8 305.1L417 302.4L417 299.5L421.6 298.5L424.1 303.6zM480.7 311L483.2 314.8L481 315.9L479.3 314.2L480.1 310.9zM481.7 305L479.8 307.3L476.5 305.3L477.1 304L481.3 303.4zM434.2 305L431.9 309.9L429.7 305.8L430.7 304.7z" fill="#3f1a5b"/>
<path d="M462.8 294L468.9 294L466.4 298.6L466.1 298.7L464 298.3L462.8 296.6zM460.7 302.1L459.9 304.9L457.1 305.9L454.7 304.1L454.8 303.3L458.3 301zM420.1 310.5L417 310.1L417 307.5L420.5 307.3z" fill="#a96d1e"/>
<path d="M467.9 366.3L466.5 369.3L465.8 369.6L463.2 368.9L461.3 366.6L463.3 363.4L467.2 364.1L467.3 364.2zM494.4 345.9L492.3 348.8L489.4 347.8L489.2 343.6L489.7 342.7L494.1 344.9zM453.4 299.1L457.6 297.9L458.3 301L454.8 303.3z" fill="#b971a6"/>
<path d="M445.1 342.9L448.4 342.8L448.7 345.4L447.5 347.7L444.8 347.7L444.2 343.8L444.5 343.3zM443.3 294L447.7 294L447.8 296.4L443.2 298.4zM496.2 323.8L498 327.6L496.9 328.9L492.7 327.3L495 323.5zM440.8 341.6L442.5 341.3L444.5 343.3L444.2 343.8L441.3 344.2z" fill="#f24a3b"/>
<path d="M495.8 333.1L498.3 336.7L495.1 339.2L493.8 338.9L492.5 337L492.9 333.4zM466.1 298.7L466.4 303.4L465.7 304.2L463.8 304.1L461.8 301.9L464 298.3zM474 338.3L470.4 338.8L469.5 337.6L470.8 334.8L473.4 335.2zM472.5 374.6L469.4 374.3L469.8 371.8L472.4 372L473.1 374z" fill="#db843b"/>
<path d="M430.1 333.1L425.5 331.2L427.3 327.9L430.5 327.5L432.3 329.4L431.6 332.7zM466.7 306.9L464.3 308.9L462.3 308.5L461.9 306.1L463.8 304.1L465.7 304.2zM485.1 323.3L482.6 323L482.4 320L486.8 318.5z" fill="#416fe9"/>
<path d="M490.6 371.7L488.3 368.1L488.6 365.9L492.7 366.3L495 368.6L495 369.1L491.5 372zM430.5 327.5L427.3 327.9L426.5 324.6L430.9 324z" fill="#c28d21"/>
<path d="M430.9 324L426.5 324.6L425.5 323.6L425.5 321.6L427.8 319.3L430.1 319.2L431 319.9L431 323.9z" fill="#db35b5"/>
<path d="M433.4 363.4L436.7 362.6L438 366L437.3 368.1L432.5 367.9L431.9 366.8zM468.3 377.3L462.8 377.3L462.8 376.7L465.1 374.3L468.3 375.4z" fill="#df60f4"/>
<path d="M476.4 294L480.4 294L480.8 295.8L479.3 298.5L476.9 298.8L475.7 296.4zM422.6 314.8L422.2 318.8L417 319.5L417 314.3L420.7 313zM482.7 326.3L486.1 326L486.7 326.7L483.6 330.7L483.2 330.7L481.6 328zM439.5 327.3L435.6 327.5L435.1 324.1L435.8 323.5L440.1 325z" fill="#e974a7"/>
<path d="M421.9 367L423.3 364.5L426.2 364L428.1 366.5L426.5 369.5L423.8 370.3L422.6 369.9zM467.7 359.7L467.2 364.1L463.3 363.4L462.2 361L466.3 358.4z" fill="#2b6e97"/>
<path d="M428.6 294L435.6 294L435.1 297.6L433.8 298.1L429.6 296.1zM438.8 294L443.3 294L443.2 298.4L443.2 298.4L439.1 295.8zM470.4 338.8L470 342.4L468.7 343.1L465.7 341.8L465.2 337.7L469.5 337.6zM427.8 319.3L425.9 317.1L426 315.6L429.1 314.5L430.1 319.2zM435.6 294L438.8 294L439.1 295.8L436 298L435.1 297.6z" fill="#1a2377"/>
<path d="M500.9 327.2L500.9 332.7L497.4 331.3L496.9 328.9L498 327.6zM500.9 299.6L500.9 305.4L499.2 305.4L497.4 304L497.7 300.6z" fill="#657b8c"/>
<path d="M425.5 321.6L422.6 319.6L422.4 319L425.9 317.1L427.8 319.3zM456.8 354.4L451.9 351.7L458.1 350.1L458.6 350.8z" fill="#1a1348"/>
<path d="M471.9 325.9L469.9 327.2L466.4 325.3L467.9 322.1L471.4 321.5L471.7 321.7zM483.6 330.7L486.7 326.7L488.5 327.7L487.7 332.8L487.5 332.9zM420 340.3L417 340.9L417 336.8L420.9 337.9z" fill="#973bdd"/>
<path d="M437.2 361.8L436.7 362.6L433.4 363.4L431.3 359.1L435.7 357.5zM472.6 377.3L468.3 377.3L468.3 375.4L469.4 374.3L472.5 374.6z" fill="#f03e8d"/>
<path d="M422.6 319.6L421.5 323.6L420.6 324.1L417 322.1L417 319.5L422.2 318.8L422.4 319z" fill="#e356a2"/>
<path d="M485.4 345.1L485.8 348.9L485.4 349.2L481.6 348.2L481.9 343.7L482.3 343.4zM444 336.9L440.1 336.9L439.3 333.6L441 331.5L443.9 332.8L444.2 336.7z" fill="#d73a7c"/>
<path d="M474.4 328L471.9 330.7L471.9 330.7L469.6 328.5L469.9 327.2L471.9 325.9z" fill="#af76a3"/>
<path d="M445.1 308.4L444.9 309.8L442 312.5L439.3 311.3L438.6 309.8L439.2 308.1L442.5 306.2zM495 368.6L492.7 366.3L493 363.3L494.5 362.3L497 365z" fill="#8b3dd5"/>
<path d="M437.1 347.4L437.1 349.8L435.5 351.8L433.5 350.8L433.2 347.1L434.4 345.7zM421.3 377.3L417 377.3L417 371.8L418.6 371.9z" fill="#e75bdc"/>
<path d="M461.8 371.1L464.6 371.8L465.1 374.3L462.8 376.7L460.3 373.7L460.8 371.4zM456.2 314.7L453.7 317.9L453.2 317.9L451 313.9L454.6 311.6z" fill="#d18427"/>
<path d="M457 363.8L460.5 366.8L459.3 368.9L455.5 368.4L455.1 366.2L456.7 363.9zM461.4 336.4L461.8 333L465.2 333.1L465.2 337.6z" fill="#9f61d6"/>
<path d="M417 355.3L417 350.5L420.5 350.1L422.2 352.9L420.1 356.1zM447.7 294L453.3 294L452.1 297.7L447.8 296.4z" fill="#e76bd4"/>
<path d="M438.4 369.6L442.4 370.1L443.1 371.8L442.6 373.2L438.9 374.1L438.2 373.6zM435.3 319.5L435.8 323.5L435.1 324.1L431 323.9L431 319.9z" fill="#7b8017"/>
<path d="M474.8 339.2L473.5 342.5L470 342.4L470.4 338.8L474 338.3zM449.6 359.1L452.6 360L452.8 361.6L451.3 363.3L448.4 361.1zM473.5 342.5L474.8 339.2L477.2 339.8L477.9 343.2L476.4 344.4z" fill="#fa967c"/>
<path d="M448.7 356.1L449.6 359.1L448.4 361.1L444.5 361.8L444.8 356.3z" fill="#33a24d"/>
<path d="M432.3 329.4L434.7 328.8L436.5 330.8L436.2 332.7L433.7 334.1L431.6 332.7z" fill="#e5609c"/>
<path d="M473 352.5L477 353L477.4 356.2L474.6 357.2zM456.8 319.4L459.3 317.6L461.8 320.6L458.9 321.9z" fill="#f848a4"/>
<path d="M459.1 330.9L455.9 335.1L453.3 334L454.1 329.4L458.3 328.4zM429.2 371.9L425.6 375.1L423.8 370.3L426.5 369.5zM469.2 312.6L468.7 314.8L465 316L464.1 314.7L466 311.3L467.5 311zM428.6 345.2L424.9 343.9L426.4 340.8L428.7 341.2L429.6 343.5zM442.2 351.7L440.3 349.7L441.1 347.4L444.2 348.1zM481.6 302.8L484.4 302.3L485.8 304.6L484.4 306L481.7 305L481.3 303.4zM476.9 368.6L473.1 369.6L471.6 367.9L473.8 365.3z" fill="#238845"/>
<path d="M430.9 372L429.2 371.9L426.5 369.5L428.1 366.5L431.9 366.8L432.5 367.9zM420.3 344.4L417 344.4L417 340.9L420 340.3L421.1 343.5zM420.9 359.1L417 361.3L417 355.3L420.1 356.1z" fill="#a161ee"/>
<path d="M438.9 374.1L439 377.3L434.9 377.3L434.9 375L438.2 373.6zM434.5 341.7L432.3 338.6L433.9 336.8L437.4 339.6z" fill="#f443a0"/>
<path d="M459.3 317.6L456.8 319.4L453.7 317.9L456.2 314.7L459.4 315.2zM493 363.3L492.7 366.3L488.6 365.9L488.2 364.5z" fill="#c760f4"/>
<path d="M446 377.3L445 377.3L442.6 373.2L443.1 371.8L448 371.7zM472.4 372L469.8 371.8L469.3 370.7L471.6 367.9L471.6 367.9L473.1 369.6z" fill="#e647cb"/>
<path d="M429.6 296.1L433.8 298.1L433.1 300.2L429.9 301.1L429.5 300.8zM428.7 341.2L426.4 340.8L425.7 338.8L428.4 337.1L430.2 338.8z" fill="#377ed7"/>
<path d="M500.9 310L500.9 314.9L498 313.5L497.3 310.3L498 309.7z" fill="#397742"/>
<path d="M484.4 302.3L481.6 302.8L481.4 300.2L484.2 298.2L485.5 299.7z" fill="#b85b9b"/>
<path d="M488.3 368.1L490.6 371.7L485.2 372.7L484.7 371.9z" fill="#d57a15"/>
<path d="M448.4 342.8L445.1 342.9L445.3 340.7L448.4 340L449.2 341.9zM457.6 294L462.8 294L462.8 296.6L458.2 296.5z" fill="#7b2c9c"/>
<path d="M477.9 351.7L476.1 349.3L476.8 347.8L480.5 349L480.1 350.9zM480.2 357.7L483.2 362.6L481.8 363.5L477.8 361L479.9 357.7z" fill="#f6518c"/>
<path d="M421.5 323.6L422.6 319.6L425.5 321.6L425.5 323.6z" fill="#b67b2b"/>
<path d="M439.3 333.6L436.2 332.7L436.5 330.8L439.8 329.5L441 331.5z" fill="#846738"/>
<path d="M449 308.9L449.2 312.9L446.1 313L444.9 309.8L445.1 308.4z" fill="#653682"/>
<path d="M445.3 340.7L445.1 342.9L444.5 343.3L442.5 341.3L444 339.7zM433.2 347.1L433.5 350.8L431.3 350.8L430.3 347.5z" fill="#357e66"/>
</g></g>
<rect x="485.6" y="375.2" width="11.5" height="1.3" fill="#111"/>
<text x="492.2" y="379.9" font-size="3.4" font-weight="bold" text-anchor="middle" fill="#222">10µm</text>
<rect x="247.3" y="157.5" width="82.4" height="86" fill="#fff" stroke="#adadad" stroke-width="0.9"/>
<clipPath id="clip-d"><circle cx="289" cy="197.3" r="38.9"/></clipPath>
<g clip-path="url(#clip-d)"><g filter="url(#soft)" stroke="#0a0812" stroke-width="0.5" stroke-linejoin="round">
<rect x="248" y="156" width="82" height="83" fill="#283c78" stroke="none"/>
<polygon points="246,180.3 256.1,176.9 264.5,168.5 282.3,156.7 296.6,156.7 301.6,168.5 302.5,176.9 294.9,180.3 279.7,183.7 271.3,184.5 265.4,182" fill="#285abe"/>
<polygon points="262.9,169.3 267.9,165.1 302.5,175.2 300.8,180.3 294.9,180.3 293.2,178.6" fill="#be5a64"/>
<polygon points="282.3,159.2 286.5,155 294.9,155 296.6,164.3 286.5,162.6" fill="#aa50b4"/>
<polygon points="292.4,155 306.7,160.1 305,162.6 302.5,167.6 296.6,164.3" fill="#1e46a0"/>
<polygon points="305,162.6 310.1,161.7 321.9,171.9 321,176.1 313.5,174.4 306.7,176.9 304.2,178.6 301.6,171.9 302.5,167.6" fill="#286ee6"/>
<polygon points="306.7,176.9 313.5,174.4 321,173.5 326.9,182.8 321.9,186.2 316,187 314.3,185.4 310.9,186.2 309.2,180.3" fill="#1e825a"/>
<polygon points="321.9,185.4 326.9,182.8 330.3,195.5 322.7,195.5 321.9,188.7" fill="#2846e6"/>
<polygon points="316.8,187 321.9,186.2 321.9,194.6 316.8,194.6" fill="#1e823c"/>
<polygon points="312.6,187.9 316.8,187.9 316,193.8 312.6,192.9" fill="#2850e6"/>
<polygon points="310.6,187 312.3,187 312.3,192.9 310.6,192.9" fill="#f08232"/>
<polygon points="265.4,189.6 271.3,184.5 279.7,183.7 294.9,180.3 304.2,178.6 307.6,182 309.2,188.7 310.9,195.5 304.2,200.5 296.6,205.6 293.2,209 287.3,208.1 284.8,203.9 282.3,199.7 267.9,198 265.4,193.8" fill="#3c87a0"/>
<polygon points="310.9,195.5 318.5,196.3 330.3,196.3 330.3,210.6 320.2,222.5 313.5,225 308.4,224.1 301.6,221.6 295.7,219.1 294.1,212.3 293.2,209 296.6,205.6 304.2,200.5" fill="#3769a5"/>
<polygon points="246,197.2 256.1,176.9 265.4,182 271.3,184.5 265.4,189.6 251.1,196.3" fill="#e61e82"/>
<polygon points="246,197.2 251.1,196.3 265.4,189.6 265.4,193.8 267.9,198 258.6,202.2 246,203.9" fill="#dc5046"/>
<polygon points="258.6,203.1 267.9,198.5 282.3,199.7 284.8,203.9 279.7,206.4 262.9,205.6" fill="#dc5adc"/>
<polygon points="246,203.1 258.6,203.1 262.9,205.6 256.1,207.3 246,206.9" fill="#963cbe"/>
<polygon points="262.9,205.6 271.3,206.4 269.6,209.8 264.5,208.1" fill="#1e96be"/>
<polygon points="271.3,206.4 279.7,206.4 284.8,203.9 283.9,207.3 274.7,208.6" fill="#a05a32"/>
<polygon points="246,207.3 262.9,207.3 267.9,210.6 267.9,225.8 262.9,229.2 256.1,225.8 249.4,214" fill="#506e78"/>
<polygon points="260.3,210.6 262.9,209.8 263.4,215.7 260.8,216.6" fill="#f07828"/>
<polygon points="268.8,210.6 278,209.8 287.3,209 293.2,209.8 294.1,219.1 288.2,219.9 269.6,221.6 267.9,215.7" fill="#50506e"/>
<polygon points="278,210.6 283.9,209.8 283.1,213.2 279.7,214" fill="#e65adc"/>
<polygon points="268.8,222.5 288.2,219.9 289,222.5 282.3,225.8 271.3,226.7" fill="#d746c8"/>
<polygon points="289,222.5 295.7,219.9 303.3,223.3 300.8,229.2 289,232.6 287.3,227.5" fill="#6e6e82"/>
<polygon points="287.3,233.4 300.8,229.2 309.2,228.4 303.3,237.6 289.8,238.5" fill="#dc3264"/>
<polygon points="271.3,226.7 282.3,225.8 279.7,230 274.7,230" fill="#aa6496"/>
<polygon points="279.7,230 282.3,225.8 287.3,224.1 287.3,233.4 282.3,234.3" fill="#786e6e"/>
<polygon points="276.4,230 279.7,230 280.6,233.4 277.2,232.9" fill="#283cdc"/>
<polygon points="267.9,225.8 271.3,226.7 274.7,230.9 271.3,232.6" fill="#328296"/>
<polygon points="303.3,223.3 308.4,224.1 310.1,228.4 301.6,229.2" fill="#5a46a0"/>
<polygon points="310.1,228.4 309.2,224.1 313.5,225 325.3,215.7 321.9,225.8 313.5,230.9" fill="#9678d2"/>
</g></g>
<rect x="311.2" y="235.6" width="13.4" height="1.5" fill="#111"/>
<text x="318.7" y="240.2" font-size="3.4" font-weight="bold" text-anchor="middle" fill="#222">10µm</text>
<rect x="421.7" y="158.7" width="78.4" height="83.6" fill="#fff" stroke="#adadad" stroke-width="0.9"/>
<clipPath id="clip-e"><circle cx="460.6" cy="197.9" r="37.6"/></clipPath>
<g clip-path="url(#clip-e)"><g filter="url(#soft)" stroke="#0a0812" stroke-width="0.5" stroke-linejoin="round">
<rect x="420" y="158" width="81" height="80" fill="#5a3c6e" stroke="none"/>
<polygon points="440.8,166 448.4,158.4 466.1,158.4 463.5,174.4 453.4,181.1 446.7,172.7" fill="#c83250"/>
<polygon points="421.4,188.7 429.8,178.6 436.5,169.3 441.6,168.5 446.7,172.7 453.4,181.1 452.6,187.9 449.2,193.8 434,197.2 424.7,191.3" fill="#a06482"/>
<polygon points="434,197.2 449.2,194.1 463.5,209 469.4,221.6 467.7,237.6 451.7,237.6 438.2,229.2 434.9,210.6" fill="#e13c28"/>
<polygon points="453.4,181.1 463.5,174.4 477,180.3 482.9,183.7 483.8,189.6 477,187.9 472,187 476.2,195.5 466.1,194.6 454.3,187.9" fill="#196e32"/>
<polygon points="452.6,187.9 454.3,187.9 466.1,194.6 476.2,195.5 472,209 463.5,209 449.2,194.1" fill="#6e78d2"/>
<polygon points="472,187 477,187.9 483.8,189.6 482.9,193.8 476.2,195.5" fill="#6e78d7"/>
<polygon points="476.2,195.5 482.9,193.8 485.5,197.2 485.5,212.3 473.6,216.6 472,209" fill="#328c8c"/>
<polygon points="473.6,216.6 485.5,212.3 492.2,213.2 497.3,222.5 482.1,234.3 472,236.8 467.7,234.3 469.4,221.6" fill="#6e28aa"/>
<polygon points="463.5,209 472,209 473.6,216.6 469.4,221.6" fill="#be78be"/>
<polygon points="421.4,210.6 433.2,198 434.9,210.6 438.2,229.2 428.1,222.5" fill="#1e6e50"/>
<polygon points="419.7,193.8 424.7,191.3 434,197.2 425.6,210.6 419.7,205.6" fill="#c828c8"/>
<polygon points="466.1,158.4 477.9,160.9 474.5,177.8 463.5,174.4" fill="#e678f0"/>
<polygon points="477,161.7 480.7,164.3 477.4,178.6 474.5,177.8" fill="#aa8214"/>
<polygon points="481.2,169.3 487.5,180.3 484.6,183.7 477.9,179.5 480.1,171" fill="#f5781e"/>
<polygon points="481.2,165.1 492.2,175.2 487.5,180.3 481.2,169.3" fill="#4678f0"/>
<polygon points="484.6,183.7 490.5,176.9 498.9,186.2 483.8,190.4" fill="#5064e6"/>
<polygon points="483.8,190.4 498.9,186.2 500.6,198.8 493.9,204.7 485.5,195.5" fill="#a05a32"/>
<polygon points="485.5,197.2 493.9,204.7 492.2,211.5 485.5,212.3" fill="#1e3ce6"/>
<polygon points="493.9,204.7 500.6,200.5 498.9,210.6 492.2,213.2" fill="#8c6446"/>
<polygon points="435.7,168.5 440.8,165.1 442.5,168.5 439.1,169.8" fill="#dc8c28"/>
</g></g>
<rect x="484.8" y="236.3" width="12.4" height="1.4" fill="#111"/>
<text x="491.8" y="240.7" font-size="3.4" font-weight="bold" text-anchor="middle" fill="#222">10µm</text>
<rect x="251" y="432" width="79.4" height="83" fill="#fff" stroke="#adadad" stroke-width="0.9"/>
<clipPath id="clip-h"><rect x="252" y="432.5" width="77.9" height="77"/></clipPath>
<g clip-path="url(#clip-h)"><g filter="url(#soft)" stroke="#0a0812" stroke-width="0.6" stroke-linejoin="round">
<rect x="250" y="430.5" width="81.9" height="81" fill="#463264" stroke="none"/>
<path d="M264.7 481L264.9 483.5L263 486L261.3 486L259.1 483.9L261.2 479.5z" fill="#489340"/>
<path d="M291.9 429.5L292.7 429.5L295 435L292.5 436.3L288.8 434.5z" fill="#ee4dc5"/>
<path d="M256.7 435.4L258.4 438.3L257.5 440.7L257.3 440.8L253.8 439.2L253.2 436.1L253.5 435.7z" fill="#c25bd3"/>
<path d="M319.8 438.9L319.9 442.4L318.8 443.2L315.7 442.4L315.1 439.7L317.2 437.9L319.2 437.9z" fill="#e1649c"/>
<path d="M303.7 504.9L303.2 509.5L299.1 509.3L298.8 505.9L301.1 504z" fill="#389e9f"/>
<path d="M284.9 512.5L280.5 512.5L279.6 508.4L279.9 507.6L284.1 507.2L285.5 508.9z" fill="#b57c80"/>
<path d="M321.2 451.2L322.7 454.9L322.6 455.2L320.6 456.9L320.1 457L318.8 456.5L317.9 452.6L317.9 452.5L320.4 451.1z" fill="#802dd7"/>
<path d="M263.6 474.3L265.9 474.9L267.5 476.8L267.2 480L264.7 481L261.2 479.5L260.9 479L261.5 476.3z" fill="#f57d22"/>
<path d="M283.8 474.9L282.6 476.6L280.4 477.3L278.9 476.7L277.9 474.7L280.1 471.2L280.4 471.2L282.2 471.9L283.8 474.9z" fill="#9440cd"/>
<path d="M257.6 449L253.7 450L252.3 447.8L252.4 445.9L256 444.4L258.2 446.9z" fill="#a95b46"/>
<path d="M287.1 453.7L287.8 457.8L285.1 459.9L282.7 459L282.3 455.3L284.7 452.3L285.3 452.4z" fill="#3d51d8"/>
<path d="M306.2 446.6L309.1 447.6L310.4 451.4L309.5 452.6L304.9 453.1L303.5 450.7L304.6 447.3z" fill="#1d7953"/>
<path d="M294.1 504.9L291.1 503L290.3 500.3L291 499.5L293.6 498.8L295.9 500.2L294.6 504.6z" fill="#d076de"/>
<path d="M276.3 509.2L275.8 512.5L270.2 512.5L270.6 508.2L271.3 507.5L274.5 507.1z" fill="#1594a2"/>
<path d="M285.8 493.7L283.5 493.9L281.4 491.5L281.4 491.3L283.7 489.6L286.3 490.3L287.1 491.6z" fill="#de337d"/>
<path d="M313.1 473.7L315.5 475.5L315.6 476.2L313.5 480.1L312.6 480L309.5 477.6L309 476.1L311.7 473.9z" fill="#cf5cfa"/>
<path d="M279 486.3L276.4 490L273.8 489.6L273.1 485.9L274.3 484.2L277.5 484L278.3 484.5z" fill="#e66c9e"/>
<path d="M300.2 466.8L298.7 470.4L296.9 470.6L295.3 469.4L294.6 467.2L294.9 466.3L297.8 464L300.1 466.1z" fill="#fe3596"/>
<path d="M327.4 465.7L330 468L329.5 471.2L329.1 471.5L324.7 471L325.1 467.1L327.1 465.6z" fill="#383bcb"/>
<path d="M253.7 490.1L252.2 486.6L252.6 485.7L256.7 484.4L257 484.5L257.5 489.3L256.1 490.2z" fill="#f13043"/>
<path d="M332.9 493.4L332.9 499.4L328.8 499.1L327.7 496.9L328.3 495.6L332.3 493.3z" fill="#ed5081"/>
<path d="M283.1 486.8L280.2 487L279 486.3L278.3 484.5L282.2 481.4L282.4 481.4L284.6 485.1L284.5 485.3z" fill="#0c6669"/>
<path d="M290.8 444.9L287.5 447.1L287.3 447L285.4 443.2L288.8 440.9L289.6 441.1z" fill="#852ac7"/>
<path d="M269.3 460.1L272.5 460.7L272.8 462L271.7 463.9L269.1 464.3L267.4 462.9L267.4 461.9z" fill="#fa629c"/>
<path d="M259.9 466.8L257.8 469.7L253.9 469.5L252.9 466.7L253.7 464.6L255.5 463.7L259.8 465.4z" fill="#723493"/>
<path d="M323.1 494.1L325.3 497.2L323 500.3L319.4 497.9L319.4 496.4L321.8 493.7z" fill="#9f6a9a"/>
<path d="M324.3 506L324.9 509.1L322.1 510.8L319.5 508.1L320.4 505.4z" fill="#2c714a"/>
<path d="M249 467.1L249 460.6L250.1 460.8L253.7 464.6L252.9 466.7z" fill="#4273b5"/>
<path d="M298.8 505.9L299.1 509.3L297.7 511.2L293.6 508.7L293.4 506.3L294.1 504.9L294.6 504.6z" fill="#2e3bc2"/>
<path d="M253.8 506.7L251.2 503.3L252.6 501L256.2 500.4L258.5 504.1L258.4 504.5L255.9 506.5z" fill="#a96997"/>
<path d="M263.5 460.6L261.3 459.4L260.8 457.6L262 456L264.2 455.8L265.7 458L265.2 460z" fill="#0d784f"/>
<path d="M252.2 441.8L251.4 444.9L249 445L249 439.6L251.9 440.9z" fill="#3784b2"/>
<path d="M279.2 429.5L281.8 429.5L283.2 433.5L282.4 435.1L280 436.2L278.4 435.4L277.6 432.2z" fill="#2e9e8c"/>
<path d="M277.1 462.5L276.2 460L277.7 457.3L281.8 459.3L278.8 463.3z" fill="#2d2b9b"/>
<path d="M322 512.5L316.4 512.5L317.7 508.9L319.5 508.1L322.1 510.8z" fill="#633897"/>
<path d="M261.2 429.5L264.9 429.5L266.1 432.5L264.4 435L261.4 435.1L261.3 435L260.5 431.4z" fill="#aa677e"/>
<path d="M291.8 439.5L295.1 440.3L296.8 442.6L296.8 442.9L295.6 444.3L291.8 445.3L290.8 444.9L289.6 441.1z" fill="#409d3d"/>
<path d="M254.9 473.8L252.6 475.9L249 474.5L249 471.7L253.6 470.1z" fill="#b07627"/>
<path d="M324 488.6L321.7 490.1L317.4 488.4L318.7 484.6L322.5 483.8L323.9 484.3L324.1 484.6z" fill="#e53cae"/>
<path d="M293.7 496.3L290.7 494.9L290.5 492.6L294 490.8L294.7 490.9L296.4 493.1L296.5 495z" fill="#e02cb3"/>
<path d="M271.1 496.4L269.7 498.6L267.6 499.3L265.4 497.5L265.3 497L266.8 494L268.8 493.1L270.4 493.8z" fill="#e7689b"/>
<path d="M332.9 504L332.9 512.5L332.4 512.5L328.2 508.7L328.5 506.7L331.8 504z" fill="#e547a0"/>
<path d="M315.8 470.2L317.3 466.4L320.3 465.6L320.8 466.1L321.8 470.9L318.7 472.7L318.6 472.7z" fill="#f17ade"/>
<path d="M278.2 498.6L274.6 496.8L274.9 494.2L276.9 492.6L279.5 493.7L280.1 496.1L279.3 498.1z" fill="#b47a84"/>
<path d="M285 466L282 466.3L279 464.1L278.8 463.3L281.8 459.3L282.7 459L285.1 459.9L286.3 463.3L286.1 464.9z" fill="#9a34b7"/>
<path d="M306.5 443.5L309.1 440.7L309.7 440.5L310.5 441L313.2 445L313.2 445.3L312.6 446L309.1 447.6L306.2 446.6z" fill="#5d7381"/>
<path d="M258.5 504.1L262 500.8L265.7 503.6L265.4 505.3L261.2 506.9L258.4 504.5z" fill="#e867e0"/>
<path d="M262 500.8L259.3 498.2L259.7 495.3L262.6 494.9L265.3 497L265.4 497.5z" fill="#2e9b47"/>
<path d="M307.2 457.8L305.5 462L304 462.6L301.3 461L300.7 456.9L304.6 455.3L307.2 457.6z" fill="#30829a"/>
<path d="M300.5 476L300.3 471.5L303.9 469.7L306.4 471.7L306.6 475.3L305.3 476.2L301 476.6z" fill="#8d48c0"/>
<path d="M288.4 500.4L287.2 503.8L284.6 504.3L282.3 502.4L282.2 500.1L284.6 498.1L286.3 497.8z" fill="#358fa0"/>
<path d="M275.9 467.2L279 464.1L282 466.3L280.4 471.2L280.1 471.2L276.9 469.7z" fill="#46924b"/>
<path d="M325.1 461.3L327.1 465.6L325.1 467.1L320.8 466.1L320.3 465.6L320.7 463.1L324.2 461z" fill="#5f8d28"/>
<path d="M249 498.1L249 493.3L252.2 493.2L253.2 495.1L250.4 498.2z" fill="#125f51"/>
<path d="M291.1 488L289.9 492L287.1 491.6L286.3 490.3L287.2 487.7L289.7 486.5z" fill="#7a852f"/>
<path d="M329.5 450L329.5 453L328 454.9L325.2 453.2L324 449.8L325.4 448.7L328.7 449z" fill="#874cca"/>
<path d="M266.7 437.8L268.9 433.9L271.4 434.3L272 437.9L269.2 439.4L267.4 438.9L266.8 438.2z" fill="#146c57"/>
<path d="M311.5 500.7L316.3 501L317.4 503.8L315.2 506.1L313.4 506.2L311.4 504.5L311.2 500.9z" fill="#f58a41"/>
<path d="M310.3 482.4L311 484.2L310.3 485.8L309.2 486.2L306.7 485.2L306.4 483.8L307.4 481.4L307.4 481.4z" fill="#338982"/>
<path d="M329.8 461L330.2 463.8L327.4 465.7L327.1 465.6L325.1 461.3L328 460z" fill="#24228c"/>
<path d="M249 460.6L249 455.7L252.9 454.6L254.5 458.5L250.1 460.8z" fill="#563984"/>
<path d="M316.4 512.5L311.7 512.5L311.3 509.6L313.4 506.2L315.2 506.1L317.7 508.9z" fill="#e0292c"/>
<path d="M323.9 484.3L325.3 479.1L326.7 478.8L329.1 479.8L329.4 483.7L328.8 484.3L324.1 484.6z" fill="#bf6da4"/>
<path d="M261.5 476.3L257.9 473.7L258.7 471.3L261.7 471L263.5 472.9L263.6 474.3z" fill="#7e6696"/>
<path d="M260.9 441.9L261.8 445.6L258.2 446.9L256 444.4L256 443.2L257.3 440.8L257.5 440.7z" fill="#8039b9"/>
<path d="M312.8 451.1L314.7 453.9L314.2 456.1L312.3 456.6L309.9 455.2L309.5 452.6L310.4 451.4z" fill="#f14685"/>
<path d="M269.4 429.5L273.4 429.5L273.7 431.5L273.3 433L271.4 434.3L268.9 433.9L268.2 433z" fill="#be7592"/>
<path d="M323.7 439.4L324 438.1L328.2 435.6L328.4 435.7L328.6 435.8L328.9 440.9L327.2 441.9L324.2 441.5z" fill="#b8617e"/>
<path d="M332.9 456.2L332.9 459.9L329.8 461L328 460L327.8 456.1L328 455.7z" fill="#de388a"/>
<path d="M264.4 435L266.7 437.8L266.8 438.2L262.8 440L260.8 437.2L261.4 435.1z" fill="#f178e8"/>
<path d="M265 464.8L265.5 467.5L265 468.3L262.1 469L259.9 466.8L259.8 465.4L260.9 464.1L262.5 463.7z" fill="#822bda"/>
<path d="M300.5 476L296.8 475.9L295.7 473L296.9 470.6L298.7 470.4L300.3 471.5z" fill="#e43b72"/>
<path d="M303.1 485.9L305.6 486.6L306.9 489.6L303.9 491.2L301.8 490.2L300.9 488z" fill="#f830b2"/>
<path d="M265.5 488.7L263.5 492L260.2 491.4L259 489.5L261.3 486L263 486L265.2 487.9z" fill="#bd6294"/>
<path d="M250.4 498.2L253.2 495.1L255.1 495.5L256.4 499.6L256.2 500.4L252.6 501z" fill="#3d4ac4"/>
<path d="M298.8 505.9L294.6 504.6L295.9 500.2L297.8 499.3L300.4 500.6L301.1 504z" fill="#316e95"/>
<path d="M318.7 472.7L320.8 475.6L320 477.6L318.3 478.3L315.6 476.2L315.5 475.5L318.6 472.7z" fill="#ba53db"/>
<path d="M258.2 450L258.1 453.6L257.3 454.4L253.4 453.6L253 451.6L253.7 450L257.6 449z" fill="#fe6d3d"/>
<path d="M308.8 490.9L307.9 495.1L307.1 495.9L303.8 495.2L303.6 495.1L303.9 491.2L306.9 489.6L307.5 489.7z" fill="#2a7a37"/>
<path d="M303.2 433.7L305.3 436L304.6 439.1L303.1 440.3L300.3 439.1L300.1 435L303 433.6z" fill="#eb462e"/>
<path d="M269.7 488.3L273.6 489.7L272.5 492.7L270.4 493.8L268.8 493.1L268.2 489.6z" fill="#1b96a5"/>
<path d="M292.7 429.5L299.3 429.5L298.4 434.1L295.2 435L295 435z" fill="#f631c2"/>
<path d="M323.2 449.8L320.9 446.6L323.1 443.8L325.5 446.4L325.4 448.7L324 449.8z" fill="#f73a8e"/>
<path d="M323.8 429.5L330.2 429.5L328.4 435.7L328.2 435.6L324.4 433.5z" fill="#a67583"/>
<path d="M314.5 429.5L322 429.5L320 433.7L316.2 432.8z" fill="#7d812e"/>
<path d="M311.4 504.5L308 507L304.8 504.5L306.1 500.8L307.8 499.8L311.2 500.9z" fill="#678a18"/>
<path d="M296 461.9L295.6 457.9L299.8 456.4L300.7 456.9L301.3 461L297.8 463.3z" fill="#7f4cba"/>
<path d="M291.8 445.3L294 449.2L290.5 451.3L287.8 449.1L287.5 447.1L290.8 444.9z" fill="#e02cb5"/>
<path d="M323.1 500.6L320.1 504.7L317.4 503.8L316.3 501L317 499.4L319.4 497.9L323 500.3z" fill="#d965f9"/>
<path d="M284.6 504.3L284.1 507.2L279.9 507.6L279 504.4L282.3 502.4z" fill="#9d4be4"/>
<path d="M271.5 504L271.3 507.5L270.6 508.2L266.2 506.6L265.4 505.3L265.7 503.6L267.2 502.3L270.5 502.8z" fill="#23a78b"/>
<path d="M270.2 512.5L264.8 512.5L264.5 511.6L266.2 506.6L270.6 508.2z" fill="#8f5f36"/>
<path d="M249 455.7L249 450.9L253 451.6L253.4 453.6L252.9 454.6z" fill="#16839f"/>
<path d="M291.1 458.8L291.5 462L286.3 463.3L285.1 459.9L287.8 457.8L290.3 458z" fill="#a86c3f"/>
<path d="M311 429.5L314.5 429.5L316.2 432.8L315.3 435.1L313.1 436.6L310.5 436.4L310.1 435.9L310.8 429.9z" fill="#177152"/>
<path d="M307.9 495.1L311.2 494.7L313.7 496.7L311.5 500.7L311.2 500.9L307.8 499.8L307.1 495.9z" fill="#ff4b88"/>
<path d="M266.8 494L263.5 492.1L263.5 492L265.5 488.7L268.2 489.6L268.8 493.1z" fill="#bb7b94"/>
<path d="M255.2 429.6L257.5 432.2L257.4 434.4L256.7 435.4L253.5 435.7L252.8 432.8z" fill="#fa43b3"/>
<path d="M323.7 474.8L325.1 479L321.6 479.3L320 477.6L320.8 475.6z" fill="#3854d4"/>
<path d="M332.9 435.9L332.9 442.6L328.9 440.9L328.6 435.8z" fill="#f3457a"/>
<path d="M317.3 466.4L315 465.2L314.6 464.1L316.1 460.6L319.2 461.4L320.7 463.1L320.3 465.6z" fill="#6d8122"/>
<path d="M256.7 484.4L254.3 481.3L254.4 479.1L256.7 478L260.9 479L261.2 479.5L259.1 483.9L257 484.5z" fill="#6c659a"/>
<path d="M303.8 495.2L303 499.3L300.4 500.6L297.8 499.3L297.7 496L300.9 494.4L303.6 495.1z" fill="#26417a"/>
<path d="M316.8 447.4L315.9 449.9L313.1 450.7L312.6 446L313.2 445.3z" fill="#9c4ecd"/>
<path d="M254.3 481.3L251.4 483L249 482.2L249 479.7L253.1 478.3L254.4 479.1z" fill="#2b3885"/>
<path d="M311.6 492.6L311.2 494.7L307.9 495.1L308.8 490.9L309 490.9z" fill="#4d7f97"/>
<path d="M332.9 487.8L332.9 493.4L332.3 493.3L328.7 489.8L329.7 488.2z" fill="#f060e5"/>
<path d="M331.8 504L328.5 506.7L325.7 504.6L326 502.7L328.4 501.7z" fill="#6b399c"/>
<path d="M324 449.8L325.2 453.2L322.7 454.9L321.2 451.2L323.2 449.8z" fill="#d6494a"/>
<path d="M273.7 431.5L277.6 432.2L278.4 435.4L275.7 435.9L273.3 433z" fill="#ee6d9b"/>
<path d="M332.9 477.7L332.9 483.8L329.4 483.7L329.1 479.8z" fill="#5e7a86"/>
<path d="M315.9 449.9L317.9 452.5L317.9 452.6L314.7 453.9L312.8 451.1L313.1 450.7z" fill="#fa3a80"/>
<path d="M262.8 446.6L262.3 451.3L258.2 450L257.6 449L258.2 446.9L261.8 445.6L262.1 445.7z" fill="#fc843e"/>
<path d="M249 429.5L255.2 429.5L255.2 429.6L252.8 432.8L249 431.9z" fill="#663a88"/>
<path d="M298.7 470.4L300.2 466.8L303.8 469.1L303.9 469.7L300.3 471.5z" fill="#ed3dab"/>
<path d="M315.7 442.4L318.8 443.2L318.7 446.6L318.2 447.1L316.8 447.4L313.2 445.3L313.2 445z" fill="#e93d8d"/>
<path d="M314.2 491.2L312.1 489.1L312.2 487.6L314.5 486.3L317.3 488.4L316.5 490.3z" fill="#1a4dc0"/>
<path d="M321.2 492.5L317.9 492.4L316.5 490.3L317.3 488.4L317.4 488.4L321.7 490.1z" fill="#936943"/>
<path d="M323.9 460L325.1 456.9L327.8 456.1L328 460L325.1 461.3L324.2 461z" fill="#b252df"/>
<path d="M317 499.4L314.2 496.5L315.1 495.2L317.1 494.8L319.4 496.4L319.4 497.9z" fill="#f45ca4"/>
<path d="M261.3 435L257.4 434.4L257.5 432.2L260.5 431.4z" fill="#641ba5"/>
<path d="M314 480.5L317.9 480L318.5 481L318 483.7L314.5 483.7z" fill="#4891a7"/>
<path d="M260.2 491.4L258.9 494.4L257.2 494.2L256.1 490.2L257.5 489.3L259 489.5z" fill="#ec44b5"/>
<path d="M274.1 466.7L275.2 463.2L277.1 462.5L278.8 463.3L279 464.1L275.9 467.2z" fill="#eb45b4"/>
<path d="M315.7 460L311.3 460.5L311.2 460.3L312.3 456.6L314.2 456.1L316 457.7z" fill="#922db5"/>
<path d="M259.7 495.3L259.3 498.2L256.4 499.6L255.1 495.5L257.2 494.2L258.9 494.4z" fill="#a16fa3"/>
<path d="M252.3 447.8L249 448.7L249 445L251.4 444.9L252.4 445.9z" fill="#de6498"/>
<path d="M265.2 487.9L267.4 485.1L268.6 485L269.9 486.4L269.7 488.3L268.2 489.6L265.5 488.7z" fill="#e93ca9"/>
<path d="M322 429.5L323.8 429.5L324.4 433.5L321.5 435.1L320.8 435L320 433.7z" fill="#9b6d9e"/>
<path d="M261.2 506.9L261.2 508.4L257.5 512.3L255.9 506.5L258.4 504.5z" fill="#ef4031"/>
<path d="M314.6 464.1L311.9 463.1L311.1 461.2L311.3 460.5L315.7 460L316.1 460.6z" fill="#ba56d9"/>
<path d="M294 490.8L292.2 488.2L294.6 486.3L297 488.4L294.7 490.9z" fill="#ad5bde"/>
<path d="M320.1 457L319.2 461.4L316.1 460.6L315.7 460L316 457.7L318.8 456.5z" fill="#249f9d"/>
<path d="M295.9 500.2L293.6 498.8L293.7 496.3L296.5 495L297.7 496L297.8 499.3z" fill="#bb7b99"/>
<path d="M309.5 477.6L307.4 481.4L307.4 481.4L305.4 480.4L305.3 476.2L306.6 475.3L309 476.1z" fill="#ee28c6"/>
<path d="M313.1 436.6L314.6 439.5L310.5 441L309.7 440.5L310.5 436.4z" fill="#b66fcf"/>
<path d="M284.7 480.1L287.2 482.4L287.1 483.7L284.6 485.1L282.4 481.4L283.6 480.3z" fill="#2c7b4e"/>
<path d="M280.4 479.9L280.4 477.3L282.6 476.6L283.6 480.3L282.4 481.4L282.2 481.4z" fill="#b86bf3"/>
<path d="M252.7 490.9L249 489.3L249 487.5L252.2 486.6L253.7 490.1z" fill="#72787d"/>
<path d="M283.5 493.9L282.7 495.7L280.1 496.1L279.5 493.7L281.4 491.5z" fill="#b14eef"/>
<path d="M257.4 512.5L252.8 512.5L253.8 506.7L253.8 506.7L255.9 506.5L257.5 512.3z" fill="#22a6a8"/>
<path d="M312.6 468.7L312.8 467L315 465.2L317.3 466.4L315.8 470.2L314.4 470.5z" fill="#173183"/>
<path d="M332.9 499.4L332.9 504L331.8 504L328.4 501.7L328.8 499.1z" fill="#2f297c"/>
<path d="M328.2 435.6L324 438.1L321.5 435.1L324.4 433.5z" fill="#737227"/>
<path d="M332.9 444.7L332.9 450.5L329.5 450L328.7 449L330 446z" fill="#d9502d"/>
<path d="M262.1 469L261.7 471L258.7 471.3L257.8 469.7L259.9 466.8z" fill="#5c7939"/>
<path d="M274 497.1L273.3 500.3L271.5 500.4L269.7 498.6L271.1 496.4z" fill="#a053d6"/>
<path d="M252.8 512.5L249 512.5L249 508L253.8 506.7z" fill="#1e49c8"/>
<path d="M297.5 488.3L298.5 491.5L296.4 493.1L294.7 490.9L297 488.4z" fill="#f771bd"/>
<path d="M319.5 508.1L317.7 508.9L315.2 506.1L317.4 503.8L320.1 504.7L320.4 505.4z" fill="#fa32c8"/>
<path d="M292.3 462.8L294.9 466.3L294.6 467.2L290.8 467.3L290.4 466.6L292.2 462.7z" fill="#ba7fa2"/>
<path d="M332.9 452.9L332.9 456.2L328 455.7L328 454.9L329.5 453z" fill="#371d9e"/>
<path d="M332.9 476.9L332.9 477.7L329.1 479.8L326.7 478.8L327.5 475.3L328.4 474.8z" fill="#9041dc"/>
<path d="M314.2 496.5L317 499.4L316.3 501L311.5 500.7L313.7 496.7z" fill="#ba7a91"/>
<path d="M249 437.2L249 431.9L252.8 432.8L253.5 435.7L253.2 436.1z" fill="#21388c"/>
<path d="M293.4 506.3L288.9 506.9L288.3 504.6L291.1 503L294.1 504.9z" fill="#417a3a"/>
<path d="M297.7 512.5L292.2 512.5L292.6 509.6L293.6 508.7L297.7 511.2z" fill="#706c1b"/>
<path d="M303.8 512.5L297.7 512.5L297.7 511.2L299.1 509.3L303.2 509.5L303.7 510.1z" fill="#2a94a3"/>
<path d="M278.9 504.3L275.2 505.6L273.7 503.5L274.5 501.4L277 501.1z" fill="#309d4e"/>
<path d="M280.6 490.5L280.2 487L283.1 486.8L283.7 489.6L281.4 491.3z" fill="#5b7934"/>
<path d="M280.2 487L280.6 490.5L276.6 490.3L276.4 490L279 486.3z" fill="#2d229f"/>
<path d="M323 442.9L319.9 442.4L319.8 438.9L323.7 439.4L324.2 441.5z" fill="#1a327b"/>
<path d="M312.1 489.1L309 490.9L308.8 490.9L307.5 489.7L309.2 486.2L310.3 485.8L312.2 487.6z" fill="#a85d20"/>
<path d="M251.4 444.9L252.2 441.8L256 443.2L256 444.4L252.4 445.9z" fill="#ff5db8"/>
<path d="M275.2 463.2L272.8 462L272.5 460.7L273.3 459.4L276.2 460L277.1 462.5z" fill="#fb50b3"/>
<path d="M288.5 508L285.5 508.9L284.1 507.2L284.6 504.3L287.2 503.8L288.3 504.6L288.9 506.9z" fill="#a563a0"/>
<path d="M311.7 512.5L308.4 512.5L306.9 509L308 507.1L311.3 509.6z" fill="#828119"/>
<path d="M327.2 441.9L327.8 445L325.5 446.4L323.1 443.8L323 442.9L324.2 441.5z" fill="#3c8b2d"/>
<path d="M318.2 447.1L320.4 451.1L317.9 452.5L315.9 449.9L316.8 447.4z" fill="#dd5a86"/>
<path d="M267.4 485.1L265.2 487.9L263 486L264.9 483.5z" fill="#e467d3"/>
<path d="M256.4 499.6L259.3 498.2L262 500.8L262 500.8L258.5 504.1L256.2 500.4z" fill="#379c83"/>
<path d="M266.2 506.6L264.5 511.6L261.2 508.4L261.2 506.9L265.4 505.3z" fill="#f45fb8"/>
<path d="M310.5 441L314.6 439.5L315.1 439.7L315.7 442.4L313.2 445z" fill="#a47aa0"/>
<path d="M322.5 483.8L320.9 481.1L321.6 479.3L325.1 479L325.3 479.1L323.9 484.3z" fill="#2d7b99"/>
<path d="M311 484.2L314.4 483.8L314.5 486.3L312.2 487.6L310.3 485.8z" fill="#2946d9"/>
<path d="M289.5 509.4L288.9 512.5L284.9 512.5L285.5 508.9L288.5 508z" fill="#a5697d"/>
<path d="M330.2 429.5L332.9 429.5L332.9 435.9L328.6 435.8L328.4 435.7z" fill="#f44a86"/>
<path d="M272.5 492.7L274.9 494.2L274.6 496.8L274 497.1L271.1 496.4L270.4 493.8z" fill="#e94577"/>
<path d="M273.1 485.9L273.8 489.6L273.6 489.7L269.7 488.3L269.9 486.4z" fill="#bf51de"/>
<path d="M327.5 475.3L326.7 478.8L325.3 479.1L325.1 479L323.7 474.8L324.1 474z" fill="#f43e3b"/>
<path d="M253.6 470.1L249 471.7L249 467.1L252.9 466.7L253.9 469.5z" fill="#182b82"/>
<path d="M256.7 474.3L256.7 478L254.4 479.1L253.1 478.3L252.6 475.9L254.9 473.8z" fill="#f15df1"/>
<path d="M314.4 483.8L311 484.2L310.3 482.4L312.6 480L313.5 480.1L314 480.5L314.5 483.7z" fill="#d9444f"/>
<path d="M319.4 496.4L317.1 494.8L317.9 492.4L321.2 492.5L321.8 493.7z" fill="#226d59"/>
<path d="M265.9 442.9L267.4 438.9L269.2 439.4L270.5 444.3L269.4 445L268.2 444.9z" fill="#d474f9"/>
<path d="M253.7 464.6L250.1 460.8L254.5 458.5L255.9 458.9L256.3 460.1L255.5 463.7z" fill="#3644d3"/>
<path d="M318.6 472.7L315.5 475.5L313.1 473.7L314.4 470.5L315.8 470.2z" fill="#e67f39"/>
<path d="M293.7 496.3L293.6 498.8L291 499.5L289.8 495.9L290.7 494.9z" fill="#2140ca"/>
<path d="M268.9 433.9L266.7 437.8L264.4 435L266.1 432.5L268.2 433z" fill="#287a2f"/>
<path d="M329.1 471.5L328.4 474.8L327.5 475.3L324.1 474L323.9 471.7L324.7 471z" fill="#af782d"/>
<path d="M303.3 441.2L306.5 443.5L306.2 446.6L304.6 447.3L302.1 445.3z" fill="#159399"/>
<path d="M271.5 500.4L270.5 502.8L267.2 502.3L267.6 499.3L269.7 498.6z" fill="#3f7fab"/>
<path d="M323.7 474.8L320.8 475.6L318.7 472.7L321.8 470.9L323.9 471.7L324.1 474z" fill="#1a59db"/>
<path d="M301.1 504L300.4 500.6L303 499.3L306.1 500.8L304.8 504.5L303.7 504.9z" fill="#27889f"/>
<path d="M287.2 487.7L284.5 485.3L284.6 485.1L287.1 483.7L289.7 485.7L289.7 486.5z" fill="#267e38"/>
<path d="M276.6 490.3L276.9 492.6L274.9 494.2L272.5 492.7L273.6 489.7L273.8 489.6L276.4 490z" fill="#21a0a5"/>
<path d="M332.9 442.6L332.9 444.7L330 446L327.8 445L327.2 441.9L328.9 440.9z" fill="#de577a"/>
<path d="M305.3 476.2L305.4 480.4L302.7 481.4L300.9 477.1L301 476.6z" fill="#dd6f32"/>
<path d="M328.7 489.8L332.3 493.3L328.3 495.6L326.3 492.3L326.6 490.5z" fill="#ad6ce6"/>
<path d="M305.1 429.5L311 429.5L310.8 429.9L307.1 432.6L305.2 431.9z" fill="#7d9134"/>
<path d="M312.8 467L310.8 465.2L311.9 463.1L314.6 464.1L315 465.2z" fill="#2e70ad"/>
<path d="M325.7 504.6L324.3 506L320.4 505.4L320.1 504.7L323.1 500.6L326 502.7z" fill="#df7933"/>
<path d="M292.2 462.7L290.4 466.6L286.1 464.9L286.3 463.3L291.5 462z" fill="#ea60aa"/>
<path d="M319.2 461.4L320.1 457L320.6 456.9L323.9 460L324.2 461L320.7 463.1z" fill="#f430af"/>
<path d="M332.9 483.8L332.9 487.8L329.7 488.2L328.8 484.3L329.4 483.7z" fill="#e535b8"/>
<path d="M332.4 512.5L326.3 512.5L326 509.6L328.2 508.7z" fill="#f9398c"/>
<path d="M262.7 440.3L265.1 443L262.1 445.7L261.8 445.6L260.9 441.9z" fill="#a272f3"/>
<path d="M306.1 500.8L303 499.3L303.8 495.2L307.1 495.9L307.8 499.8z" fill="#788124"/>
<path d="M306.9 509L308.4 512.5L303.8 512.5L303.7 510.1z" fill="#4784a0"/>
<path d="M332.9 465L332.9 466.7L330 468L327.4 465.7L330.2 463.8z" fill="#9049c6"/>
<path d="M271.3 507.5L271.5 504L273.7 503.5L275.2 505.6L274.5 507.1z" fill="#738a1b"/>
<path d="M264.9 429.5L269.4 429.5L268.2 433L266.1 432.5z" fill="#b655e5"/>
<path d="M265.3 453.5L264.2 455.8L262 456L261.2 453.7L262.5 451.6L264.4 452.1z" fill="#332f7a"/>
<path d="M289.8 495.9L286.9 496.7L285.8 493.7L287.1 491.6L289.9 492L290.5 492.6L290.7 494.9z" fill="#da2f28"/>
<path d="M314 491.7L311.6 492.6L309 490.9L312.1 489.1L314.2 491.2z" fill="#af6446"/>
<path d="M308 507.1L306.9 509L303.7 510.1L303.2 509.5L303.7 504.9L304.8 504.5L308 507z" fill="#161d87"/>
<path d="M261.3 486L259 489.5L257.5 489.3L257 484.5L259.1 483.9z" fill="#8e3ccb"/>
<path d="M267.4 462.9L265 464.8L262.5 463.7L263.5 460.6L265.2 460L267.4 461.9z" fill="#a85d46"/>
<path d="M327.8 456.1L325.1 456.9L322.6 455.2L322.7 454.9L325.2 453.2L328 454.9L328 455.7z" fill="#828e39"/>
<path d="M287.5 429.5L291.9 429.5L288.8 434.5L288.7 434.5L286.6 432.9z" fill="#277b50"/>
<path d="M323.1 443.8L320.9 446.6L318.7 446.6L318.8 443.2L319.9 442.4L323 442.9z" fill="#274bd5"/>
<path d="M253.2 436.1L253.8 439.2L251.9 440.9L249 439.6L249 437.2z" fill="#ff4392"/>
<path d="M258.4 438.3L256.7 435.4L257.4 434.4L261.3 435L261.4 435.1L260.8 437.2z" fill="#5f19a3"/>
<path d="M315.6 476.2L318.3 478.3L317.9 480L314 480.5L313.5 480.1z" fill="#8144c8"/>
<path d="M309.9 455.2L307.2 457.6L304.6 455.3L304.9 453.1L309.5 452.6z" fill="#a35d9c"/>
<path d="M314.2 456.1L314.7 453.9L317.9 452.6L318.8 456.5L316 457.7z" fill="#b77aa4"/>
<path d="M279.6 508.4L276.3 509.2L274.5 507.1L275.2 505.6L278.9 504.3L279 504.4L279.9 507.6z" fill="#212da0"/>
<path d="M285.5 469.6L282.2 471.9L280.4 471.2L282 466.3L285 466z" fill="#3a3ec0"/>
<path d="M320.8 466.1L325.1 467.1L324.7 471L323.9 471.7L321.8 470.9z" fill="#2f7148"/>
<path d="M273.7 503.5L271.5 504L270.5 502.8L271.5 500.4L273.3 500.3L274.5 501.4z" fill="#dc60b6"/>
<path d="M306.4 483.8L303 483.5L302.3 482.4L302.7 481.4L305.4 480.4L307.4 481.4z" fill="#1b357a"/>
<path d="M253 451.6L249 450.9L249 448.7L252.3 447.8L253.7 450z" fill="#28802d"/>
<path d="M325.7 504.6L328.5 506.7L328.2 508.7L326 509.6L324.9 509.1L324.3 506z" fill="#7f659f"/>
<path d="M281.8 429.5L287.5 429.5L286.6 432.9L283.2 433.5z" fill="#1b2191"/>
<path d="M332.9 459.9L332.9 465L330.2 463.8L329.8 461z" fill="#9a3ed9"/>
<path d="M273.4 429.5L279.2 429.5L277.6 432.2L273.7 431.5z" fill="#612f9b"/>
<path d="M312.6 446L313.1 450.7L312.8 451.1L310.4 451.4L309.1 447.6z" fill="#e15aa7"/>
<path d="M280.5 512.5L275.8 512.5L276.3 509.2L279.6 508.4z" fill="#1a1978"/>
<path d="M277 501.1L274.5 501.4L273.3 500.3L274 497.1L274.6 496.8L278.2 498.6z" fill="#ba6288"/>
<path d="M312.6 480L310.3 482.4L307.4 481.4L309.5 477.6z" fill="#ff446f"/>
<path d="M260.8 437.2L262.8 440L262.7 440.3L260.9 441.9L257.5 440.7L258.4 438.3z" fill="#996638"/>
<path d="M307.6 435.1L307.1 432.6L310.8 429.9L310.1 435.9z" fill="#177b66"/>
<path d="M295.2 435L296.2 437.7L295.1 440.3L291.8 439.5L292.5 436.3L295 435z" fill="#706a7d"/>
<path d="M256.7 484.4L252.6 485.7L251.4 483L254.3 481.3z" fill="#363a9c"/>
<path d="M285.3 452.4L287.8 449.1L290.5 451.3L290.2 452.9L287.1 453.7z" fill="#299532"/>
<path d="M294.9 466.3L292.3 462.8L296 461.9L297.8 463.3L297.8 464z" fill="#d82db7"/>
<path d="M254.9 473.8L253.6 470.1L253.9 469.5L257.8 469.7L258.7 471.3L257.9 473.7L256.7 474.3z" fill="#e329a3"/>
<path d="M301.8 490.2L300.2 491.9L298.5 491.5L297.5 488.3L298.9 487.5L300.9 488z" fill="#438840"/>
<path d="M300.7 429.5L305.1 429.5L305.2 431.9L303.2 433.7L303 433.6z" fill="#7348bd"/>
<path d="M299.3 429.5L300.7 429.5L303 433.6L300.1 435L298.4 434.1z" fill="#f44583"/>
<path d="M284.6 498.1L282.7 495.7L283.5 493.9L285.8 493.7L286.9 496.7L286.3 497.8z" fill="#75842e"/>
<path d="M312.3 456.6L311.2 460.3L307.2 457.8L307.2 457.6L309.9 455.2z" fill="#7834dc"/>
<path d="M318 483.7L318.5 481L320.9 481.1L322.5 483.8L318.7 484.6z" fill="#0c7e4c"/>
<path d="M289.8 495.9L291 499.5L290.3 500.3L288.4 500.4L286.3 497.8L286.9 496.7z" fill="#f23287"/>
<path d="M255.2 429.5L261.2 429.5L260.5 431.4L257.5 432.2L255.2 429.6z" fill="#2084aa"/>
<path d="M322.6 455.2L325.1 456.9L323.9 460L320.6 456.9z" fill="#6b6b21"/>
<path d="M256 443.2L252.2 441.8L251.9 440.9L253.8 439.2L257.3 440.8z" fill="#36a687"/>
<path d="M263.5 492.1L262.6 494.9L259.7 495.3L258.9 494.4L260.2 491.4L263.5 492z" fill="#6f2b95"/>
<path d="M326 509.6L326.3 512.5L322 512.5L322.1 510.8L324.9 509.1z" fill="#459a3b"/>
<path d="M317.3 488.4L314.5 486.3L314.4 483.8L314.5 483.7L318 483.7L318.7 484.6L317.4 488.4z" fill="#349e29"/>
<path d="M256.7 478L256.7 474.3L257.9 473.7L261.5 476.3L260.9 479z" fill="#d5493d"/>
<path d="M292.2 512.5L288.9 512.5L289.5 509.4L292.6 509.6z" fill="#b26ba0"/>
<path d="M332.9 472.3L332.9 476.9L328.4 474.8L329.1 471.5L329.5 471.2z" fill="#378bb4"/>
<path d="M332.9 466.7L332.9 472.3L329.5 471.2L330 468z" fill="#a24cf5"/>
<path d="M291.4 454.3L290.3 458L287.8 457.8L287.1 453.7L290.2 452.9z" fill="#652d85"/>
<path d="M325.5 446.4L327.8 445L330 446L328.7 449L325.4 448.7z" fill="#651987"/>
<path d="M249 487.5L249 482.2L251.4 483L252.6 485.7L252.2 486.6z" fill="#f92fa9"/>
<path d="M290.3 500.3L291.1 503L288.3 504.6L287.2 503.8L288.4 500.4z" fill="#767616"/>
<path d="M249 493.3L249 489.3L252.7 490.9L252.2 493.2z" fill="#196b60"/>
<path d="M253.1 478.3L249 479.7L249 474.5L252.6 475.9z" fill="#235fd8"/>
<path d="M261.2 453.7L258.1 453.6L258.2 450L262.3 451.3L262.5 451.6z" fill="#2754c7"/>
<path d="M283.7 489.6L283.1 486.8L284.5 485.3L287.2 487.7L286.3 490.3z" fill="#213596"/>
<path d="M309.2 486.2L307.5 489.7L306.9 489.6L305.6 486.6L306.7 485.2z" fill="#1e7c61"/>
<path d="M264.8 512.5L257.4 512.5L257.5 512.3L261.2 508.4L264.5 511.6z" fill="#b9798e"/>
<path d="M320.4 451.1L318.2 447.1L318.7 446.6L320.9 446.6L323.2 449.8L321.2 451.2z" fill="#8c4cb5"/>
<path d="M280.1 496.1L282.7 495.7L284.6 498.1L282.2 500.1L279.3 498.1z" fill="#ec29c1"/>
<path d="M249 503.7L249 498.1L250.4 498.2L252.6 501L251.2 503.3z" fill="#966522"/>
<path d="M300.9 494.4L300.2 491.9L301.8 490.2L303.9 491.2L303.6 495.1z" fill="#b06040"/>
<path d="M265.3 497L262.6 494.9L263.5 492.1L266.8 494z" fill="#7a8715"/>
<path d="M267.4 438.9L265.9 442.9L265.1 443L262.7 440.3L262.8 440L266.8 438.2z" fill="#ef66b3"/>
<path d="M306.5 443.5L303.3 441.2L303.1 440.3L304.6 439.1L309.1 440.7z" fill="#ff7028"/>
<path d="M253.8 506.7L249 508L249 503.7L251.2 503.3L253.8 506.7z" fill="#3454cd"/>
<path d="M315.3 435.1L317.2 437.9L315.1 439.7L314.6 439.5L313.1 436.6z" fill="#238836"/>
<path d="M332.9 450.5L332.9 452.9L329.5 453L329.5 450z" fill="#7f6917"/>
<path d="M292.2 488.2L294 490.8L290.5 492.6L289.9 492L291.1 488z" fill="#5b2e7f"/>
<polygon points="259.5,448.7 267.6,438.8 264.9,431.6 293.8,431.6 289.3,449.6 286.6,463.2 283,461.4 275.8,460.5 265.8,462.3 263.1,455.1" fill="#3c7828"/>
<polygon points="293.8,431.6 299.2,431.6 303.7,439.7 310.9,450.6 308.2,454.2 300.1,457.8 292.9,465 287.1,463.2 289.3,449.6" fill="#fa5a50"/>
<polygon points="292.9,465 300.1,457.8 308.2,454.2 315.5,465.9 314.6,473.1 309.1,480.3 305.5,478.5 300.1,471.3" fill="#4646be"/>
<polygon points="281.2,466.8 287.1,463.2 292.9,465 300.1,471.3 305.5,478.5 307.3,485.7 303.7,491.1 297.4,489.3 288.4,487.5 283,480.3" fill="#1e7878"/>
<polygon points="260.4,471.3 265.8,462.3 275.8,460.5 281.2,466.8 283,480.3 280.3,485.7 273.1,490.2 265.8,485.7 261.3,478.5" fill="#6e3296"/>
<polygon points="250.5,453.3 256.8,448.7 260.4,450.6 263.1,455.1 265.8,462.3 260.4,471.3 255,470.4 252.9,464.1" fill="#466464"/>
<polygon points="258.6,435.2 264,432.5 266.7,438.8 263.1,442.4 259.5,438.8" fill="#1e6eaa"/>
<polygon points="254.1,440.6 258.6,437.9 263.1,443.3 259.5,447.8 255,446" fill="#dc50dc"/>
<polygon points="250.5,431.6 257.7,431.6 255.9,439.7 250.5,441.5" fill="#8c8228"/>
<polygon points="299.2,431.6 313.7,431.6 312.8,439.7 306.4,442.4 303.7,439.7" fill="#1e6e82"/>
<polygon points="313.7,431.6 326.3,431.6 326.3,441.5 318.2,443.3 313.7,439.7" fill="#82821e"/>
<polygon points="310,442.4 316.4,443.3 318.2,449.6 310.9,450.6" fill="#f05aaa"/>
<polygon points="309.1,454.2 310.9,450.6 315.5,456.9 317.3,465 315.5,465.9" fill="#f08c3c"/>
<polygon points="319.1,455.1 325.4,451.5 328.1,457.8 321.8,460.5" fill="#328228"/>
<polygon points="320,443.3 325.4,442.4 326.3,448.7 320.9,449.6" fill="#64781e"/>
<polygon points="326.3,455.1 331.7,455.1 331.7,465.9 326.3,464.1" fill="#1e2896"/>
<polygon points="321.8,465 327.2,464.1 329,474.9 323.6,475.8" fill="#f05ac8"/>
<polygon points="316.4,466.8 321.8,465 323.6,475.8 317.3,473.1" fill="#aa3cdc"/>
<polygon points="311.8,473.1 317.3,473.1 316.4,482.1 310.9,481.2" fill="#7828aa"/>
<polygon points="317.3,476.7 325.4,475.8 324.5,482.1 318.2,485.7" fill="#f06e28"/>
<polygon points="318.2,485.7 324.5,482.1 331.7,478.5 331.7,507.4 321.8,503.8 319.1,496.6" fill="#1e8228"/>
<polygon points="309.1,490.2 318.2,487.5 320,498.4 312.8,500.2 309.1,496.6" fill="#be1e5a"/>
<polygon points="303.7,491.1 308.2,488.4 310.9,498.4 305.5,500.2" fill="#b46eb4"/>
<polygon points="286.6,488.4 297.4,489.3 303.7,492 301.9,497.5 292.9,498.4" fill="#6e8282"/>
<polygon points="293.8,499.3 301.9,497.5 306.4,501.1 303.7,505.6 295.6,505.6" fill="#1e2878"/>
<polygon points="282.1,490.2 286.6,488.4 292.9,498.4 293.8,502 289.3,501.1" fill="#e64696"/>
<polygon points="274.9,498.4 284.8,495.7 289.3,502 286.6,507.4 277.6,507.4" fill="#eb6eaa"/>
<polygon points="271.3,491.1 280.3,488.4 283,493.8 275.8,497.5 271.3,495.7" fill="#aa285a"/>
<polygon points="258.6,497.5 267.6,494.8 270.4,500.2 265.8,503.8 258.6,503.8" fill="#b45aaa"/>
<polygon points="250.5,487.5 256.8,487.5 259.5,497.5 257.7,505.6 250.5,506.5" fill="#323282"/>
<polygon points="255.9,485.7 261.3,484.8 263.1,490.2 258.6,492" fill="#3c781e"/>
<polygon points="253.2,473.1 259.5,472.2 258.6,477.6 254.1,478.5" fill="#8c821e"/>
<polygon points="254.1,479.4 258.6,478.5 259.5,483 255,483.9" fill="#d23cc8"/>
<polygon points="259.5,475.8 263.1,474.9 264,482.1 260.4,483" fill="#288c96"/>
<polygon points="315.5,503.8 321.8,503.8 320.9,508.3 315.5,509.2" fill="#f050dc"/>
<polygon points="294.7,506.5 305.5,505.6 306.4,511 295.6,511" fill="#f05a5a"/>
<polygon points="286.6,507.4 294.7,505.6 293.8,511 284.8,511" fill="#963caa"/>
<polygon points="250.5,506.5 265.8,504.7 277.6,508.3 276.7,511 250.5,511" fill="#aa5a8c"/>
<polygon points="267.6,497.5 272.2,496.6 273.1,500.2 268.6,501.1" fill="#e63228"/>
<polygon points="307.3,500.2 312.8,500.2 315.5,503.8 314.6,510.1 308.2,510.1" fill="#825a3c"/>
<polygon points="267.6,502 274.9,499.3 277.6,507.4 269.5,507.4" fill="#32788c"/>
<polygon points="250.5,462.3 254.1,463.2 255,470.4 250.5,471.3" fill="#e63ca0"/>
<polygon points="316.4,447.8 320,449.6 321.8,455.1 317.3,456.9" fill="#646e1e"/>
<polygon points="265.8,485.7 273.1,490.2 271.3,492.9 264,491.1" fill="#3c5a46"/>
<polygon points="267.3,483.9 271.3,484.8 272.2,489.3 268.6,488.4" fill="#968c1e"/>
</g></g>
<rect x="317" y="510.4" width="12.2" height="1.4" fill="#111"/>
<text x="323.9" y="515" font-size="3.4" font-weight="bold" text-anchor="middle" fill="#222">10µm</text>
<rect x="418.3" y="432" width="78.5" height="83.5" fill="#fff" stroke="#adadad" stroke-width="0.9"/>
<clipPath id="clip-i"><rect x="419.2" y="432.5" width="76.7" height="76.3"/></clipPath>
<g clip-path="url(#clip-i)"><g filter="url(#soft)" stroke="#0a0812" stroke-width="0.8" stroke-linejoin="round">
<rect x="417.2" y="430.5" width="80.7" height="80.3" fill="#3c285a" stroke="none"/>
<path d="M498.9 438.6L498.9 442.8L493 443.9L492.9 443.6L492.7 439.1L494.1 438.1z" fill="#ff7b3f"/>
<path d="M430.9 483.3L432.4 479.6L433.8 479L437.6 481.2L437.7 481.2L436.1 484.9L435.5 485.1L431.6 484.3z" fill="#193b80"/>
<path d="M453.5 473.4L450.6 469.6L450.6 469.5L453.3 467.1L456.3 468.8L456.7 472.2z" fill="#3c4bbb"/>
<path d="M482 435.3L486.3 436L487 439.8L483.6 440.6L483.5 440.6L481.3 436.8z" fill="#608e2d"/>
<path d="M416.2 454.7L416.2 449.9L418.8 449.2L421.1 450.5L422 453.5L420.2 455.2z" fill="#b26ae4"/>
<path d="M489 458L492.9 460.1L493.2 462L492.3 463.2L488.2 463.3L487.5 459.1z" fill="#f33f78"/>
<path d="M440.3 511.8L436.3 511.8L436.2 509.1L438.7 507.7L440.1 508.7z" fill="#fc36c8"/>
<path d="M443.9 489.3L441.2 485.6L442 483.1L442.8 482.7L443.8 482.8L447.2 485.1L447.6 488L445.8 489.1z" fill="#e63ec3"/>
<path d="M425.6 436.5L427.1 433.7L429.8 432.7L431.1 433.8L431.7 436.7L429.7 438.9L427.5 439.1z" fill="#5a7d2b"/>
<path d="M456 449.6L453.6 446.6L453.8 445L457.4 442.5L460 443.5L460.3 445.3L458.7 449.2z" fill="#3791a4"/>
<path d="M466.2 492.5L462.1 491.5L461.1 487.9L462.2 486.2L465.6 486.1L467.3 488.3L467.1 491z" fill="#193282"/>
<path d="M426.4 488.5L428.3 488.8L430.8 490.9L430.7 494.6L429.3 495.2L425 493.9L424.2 490.3z" fill="#ed7122"/>
<path d="M472.7 489.8L470.3 487L470.5 486.1L473.1 484.7L475.1 486.3L475.2 487.7z" fill="#693392"/>
<path d="M429.6 475.8L426.2 474L425.6 471.7L425.8 471.4L429.9 470L432.1 472.3L432.1 474.1z" fill="#e35894"/>
<path d="M420.3 459.9L416.2 460.3L416.2 454.7L420.2 455.2L421 459.1z" fill="#fd6d97"/>
<path d="M450.2 463.4L448.5 459.5L448.7 458.9L450.5 457.8L453.8 460L454 461.5L451.5 463.7z" fill="#11685c"/>
<path d="M430.8 490.9L433.2 489L433.9 488.9L435.8 490.3L436.5 492.7L433.3 495.9L430.7 494.6z" fill="#145f50"/>
<path d="M421.4 489.8L419.7 494.2L416.2 493.8L416.2 488.7z" fill="#1c724c"/>
<path d="M433.6 466.8L430.3 468.3L427.5 465L430.3 462.2L431.9 462.3L434.2 465.6z" fill="#c38185"/>
<path d="M450.6 469.5L448 467L448.8 464.3L450.2 463.4L451.5 463.7L453.3 466.8L453.3 467.1z" fill="#0e8150"/>
<path d="M426.4 440.9L424.3 441.5L422.1 440L422.1 438.5L424.5 436.2L425.6 436.5L427.5 439.1z" fill="#fd7ba6"/>
<path d="M448.9 493.7L447.7 498.1L445.8 498.1L443.4 495.9L443.5 494L446.7 492.9z" fill="#298446"/>
<path d="M477.4 511.8L470.8 511.8L471.3 507.7L474.6 506.5L477.9 508.7z" fill="#f74cbe"/>
<path d="M416.2 444.1L416.2 438.9L417.5 438.7L420.5 440.9L420.3 443L418.1 444.5z" fill="#3c853a"/>
<path d="M492.8 429.5L498.9 429.5L498.9 433.3L495.1 433.6L493.3 432.4z" fill="#cc7ae6"/>
<path d="M436.7 502.4L433 503.9L431.6 503.7L431 500.3L433.8 497L435.1 497.6L437.2 500.2z" fill="#f23c44"/>
<path d="M498.9 489.6L498.9 492.8L495.6 494.4L492.8 492.2L493 489.2L494.1 488.5z" fill="#fa2bb1"/>
<path d="M428.9 479L425.2 479.4L425 479.3L424.6 476.4L426.2 474L429.6 475.8L429.6 478.3z" fill="#bc6fd7"/>
<path d="M448.2 446.9L448.8 449.8L448.3 450.4L445 450.9L443.4 446.9L443.6 446.5L446.4 445.8z" fill="#227f45"/>
<path d="M416.2 483.7L416.2 476.7L420.2 478L421.2 480.5L420.5 482.6z" fill="#e66397"/>
<path d="M479.8 503.3L480 507.2L477.9 508.7L474.6 506.5L474.5 503.5L476.4 501.1z" fill="#e282f5"/>
<path d="M498.9 457.9L498.9 463.3L493.2 462L492.9 460.1L494.1 457.9z" fill="#317d37"/>
<path d="M495 495.6L498.6 500.6L494.8 502.4L493.8 502L491.6 497z" fill="#602c84"/>
<path d="M437.6 481.2L439 477.3L441.9 477.7L443.2 479L442.8 482.7L442 483.1L437.7 481.2z" fill="#f144aa"/>
<path d="M484.8 481.5L482 481.4L480.4 478.4L481.8 476.5L483.3 476.3L486 477.7L486.2 480.1z" fill="#ee3b86"/>
<path d="M487.7 453.6L484.4 454.9L483.9 454.7L482.2 451.8L484.2 449.2L487 449.9z" fill="#996137"/>
<path d="M429.3 495.2L428.6 499L425.4 500.4L424.3 499.8L424.5 494.6L425 493.9z" fill="#eb721e"/>
<path d="M440.7 498.1L438.5 495.9L438.5 493.4L439.5 492.8L443.1 493.4L443.5 494L443.4 495.9z" fill="#5b7989"/>
<path d="M441.3 504.2L438.4 504.8L436.7 502.4L437.2 500.2L440.6 498.8L442.9 501.4z" fill="#e131b7"/>
<path d="M448.5 506L448.4 511.8L445.2 511.8L443.3 507.4L447.4 504.9z" fill="#717d80"/>
<path d="M462 496.8L466.3 493.3L468.4 495.9L468.5 496.8L466.3 500.6L462.2 498.8z" fill="#487f4c"/>
<path d="M483.1 495.4L479.7 497.2L477.9 494.7L478.7 491.9L480.6 491.1L482.2 491.9z" fill="#e35aa6"/>
<path d="M471.7 491L472.5 494.8L468.4 495.9L466.3 493.3L466.2 492.5L467.1 491z" fill="#f44cac"/>
<path d="M486.4 486.7L485.8 490.3L482.2 491.9L480.6 491.1L479.9 487.2L480.3 486L480.9 485.4L484.9 485.7z" fill="#2d1a89"/>
<path d="M472.8 457.8L476.1 455.4L476.6 455.4L478.1 458.9L477 461.6L475.9 461.9L474.8 461.5L472.7 458.7z" fill="#bd689a"/>
<path d="M442.8 442.5L443.6 446.5L443.4 446.9L440.9 447.9L439.6 447.3L438.2 444.7L438.7 443L440.3 442z" fill="#6b8c93"/>
<path d="M476.4 500.5L473.6 496.4L473.6 495.4L474.8 494.5L477.9 494.7L479.7 497.2L479.5 498.1z" fill="#a46ea5"/>
<path d="M498.9 500.6L498.9 509.1L495.4 507.7L494.5 506.5L494.8 502.4L498.6 500.6z" fill="#6f6a85"/>
<path d="M476.6 433.2L480.7 433.6L481.8 434.7L482 435.3L481.3 436.8L477.8 438.6L477 438.2L476.4 433.4z" fill="#a75b25"/>
<path d="M495.4 475.6L494.5 479.2L490.7 479.2L489.7 476.5L491.9 474.2L492.8 474z" fill="#698419"/>
<path d="M494.4 483.8L494.1 488.5L493 489.2L490.8 488.9L488 486.4L490.4 482.8z" fill="#f150bd"/>
<path d="M458.9 458L459.5 461.7L456.3 462.9L454 461.5L453.8 460L455.8 456.7L456.4 456.3z" fill="#362f8c"/>
<path d="M460.3 511.8L456.1 511.8L454.6 507.9L457.6 505.1L458.1 505.1L460 506.8L460.4 511.5z" fill="#377da0"/>
<path d="M493.6 450.1L495.5 453.9L493.6 456.4L489.6 455.3L489.3 454.6L492.5 450.3z" fill="#8d5f3c"/>
<path d="M431.6 484.3L431.2 486.8L428.3 488.8L426.4 488.5L425.9 484.1L426.2 483.6L429.4 482.8L430.9 483.3z" fill="#409a2e"/>
<path d="M434.7 475.7L433.8 479L432.4 479.6L429.6 478.3L429.6 475.8L432.1 474.1z" fill="#58348b"/>
<path d="M498.9 463.3L498.9 466.4L498.6 466.5L493.7 466.7L492.4 465.1L492.3 463.2L493.2 462z" fill="#ea3e76"/>
<path d="M467.4 430.2L471.1 433.8L467.4 437.1L466 436L465.7 432.7z" fill="#0c6244"/>
<path d="M449.9 475L447.4 478.5L445.5 477.9L444.3 474.8L446.7 472.5L448 472.6z" fill="#319088"/>
<path d="M456.7 479.5L454.8 483.3L451.5 483.7L451.4 483.7L450.4 480.2L452.9 477.5L456.7 479.3z" fill="#f85cae"/>
<path d="M467.1 456.6L470.9 455.3L472.8 457.8L472.7 458.7L469.7 460.6L467.2 458.3z" fill="#b86e99"/>
<path d="M471.4 450.2L470.4 452.7L467.2 453L465.9 451.2L467.2 448.2L470.5 448.3z" fill="#9b47da"/>
<path d="M434.7 437L436 439.3L435.8 441L433 443.3L432.4 443.4L429.7 438.9L431.7 436.7z" fill="#143393"/>
<path d="M480.8 458.2L480.9 455.7L483.9 454.7L484.4 454.9L485 458.9L481.9 459.1z" fill="#35a78f"/>
<path d="M453.6 502.8L452.1 506.5L448.5 506L447.4 504.9L447.2 503.4L448.8 501.1L452 501z" fill="#da61f4"/>
<path d="M429.7 438.9L432.4 443.4L431.1 445.2L427.3 444L426.4 440.9L427.5 439.1z" fill="#3a92a5"/>
<path d="M422.3 472.3L419.8 469.9L419.9 468.5L421.6 467.1L424.7 467.7L425.8 471.4L425.6 471.7z" fill="#287f67"/>
<path d="M441.1 473.5L438.2 475.8L436.5 475.1L435.9 470.7L438.7 469.2L441 470.7z" fill="#f8781e"/>
<path d="M491.6 497L493.8 502L489.5 503.6L488.8 503.5L487.3 502.4L487.1 500.9L488.7 497.8L491.1 496.9z" fill="#283796"/>
<path d="M456.1 511.8L449.4 511.8L452.5 507.3L454.6 507.9z" fill="#141a88"/>
<path d="M439 477.3L437.6 481.2L433.8 479L434.7 475.7L436.5 475.1L438.2 475.8z" fill="#8647cb"/>
<path d="M426.7 465.1L424.2 462.8L424.3 459.7L425.3 458.9L428.7 459.1L430.3 462.2L427.5 465z" fill="#448e98"/>
<path d="M498.9 442.8L498.9 449.3L494 449.8L493 444.1L493 443.9z" fill="#2c8b36"/>
<path d="M448.7 458.9L445.3 456.5L445.8 454.4L448.8 453.2L450.9 454.2L451.3 456L450.5 457.8z" fill="#40792e"/>
<path d="M470.8 511.8L466.9 511.8L464.8 508.2L464.9 506.9L467.8 505.3L470.1 506L471.3 507.7z" fill="#7f3ec5"/>
<path d="M483.6 440.6L484.4 445.1L480.7 445.6L479 442.4L479.2 442L483.5 440.6z" fill="#d87bfa"/>
<path d="M455.7 491.5L453.8 494.4L451.6 494.9L449.5 493.4L450.1 490.6L453.4 489.2z" fill="#e96a2e"/>
<path d="M447.2 442.1L443.4 441.9L443.4 437.8L443.9 437.2L445.4 437.2L448.2 439.5L447.5 442z" fill="#75399c"/>
<path d="M433.6 466.8L435.3 470.5L432.1 472.3L429.9 470L430.3 468.3z" fill="#dd2cb0"/>
<path d="M461.1 487.9L458 488.2L456.2 486.3L456.3 485.5L459.6 483.1L461 483.2L462.2 486.2z" fill="#2ba99f"/>
<path d="M481.9 471.2L477.8 470.3L477.8 467.4L479.2 465.8L483 466.2L483.9 467.7z" fill="#f868b8"/>
<path d="M430.9 511.8L428.2 511.8L426.4 507.8L427.8 504.5L431.3 504.1L432.3 509.2z" fill="#302790"/>
<path d="M491.5 511.8L486.8 511.8L486.5 509L488.4 507.5L490.9 508.3z" fill="#2e8aa9"/>
<path d="M488.8 503.5L488.4 507.5L486.5 509L483.4 507.4L484.4 504.1L487.3 502.4z" fill="#ab668d"/>
<path d="M443.4 437.8L440.1 439L438.9 438.3L438.2 435.8L439 433.9L442 434L442.8 434.5L443.9 437.2z" fill="#dd3fbd"/>
<path d="M488.7 497.8L485.8 495.3L487.4 492L488.7 492L490.8 493.5L491.1 496.9z" fill="#797d78"/>
<path d="M427.8 504.5L426 503.2L425.4 500.4L428.6 499L431 500.3L431.6 503.7L431.3 504.1z" fill="#b55b93"/>
<path d="M421.7 483.9L421.9 489.6L421.4 489.8L416.2 488.7L416.2 483.7L420.5 482.6z" fill="#222a7b"/>
<path d="M470.8 476L466.9 477.6L464.9 476.3L464.6 473.3L468.2 471.4L470.7 472.2z" fill="#2d6f4e"/>
<path d="M447.4 504.9L443.3 507.4L443.2 507.4L441.3 504.2L442.9 501.4L443.3 501.3L447.2 503.4z" fill="#5e6e33"/>
<path d="M454.9 451.4L456.7 454.6L456.4 456.3L455.8 456.7L451.3 456L450.9 454.2L452.6 451.8z" fill="#914bcf"/>
<path d="M479 442.4L475.5 444.6L474.4 443.5L474.1 440.3L476.6 438.3L477 438.2L477.8 438.6L479.2 442z" fill="#e64b94"/>
<path d="M419.9 468.5L416.2 466.8L416.2 464L420.8 463.3L421.1 463.6L421.6 467.1z" fill="#c260ea"/>
<path d="M425.5 455.4L425.3 458.9L424.3 459.7L421 459.1L420.2 455.2L422 453.5L423.8 453.7z" fill="#f461ae"/>
<path d="M484.4 504.1L481.3 502.5L481.8 500.1L484 499.1L487.1 500.9L487.3 502.4z" fill="#62842b"/>
<path d="M490.7 435.2L490.6 438.4L487.5 440.1L487 439.8L486.3 436L486.8 435.3L490.3 434.5z" fill="#271985"/>
<path d="M490.7 435.2L493.6 436.1L494.1 438.1L492.7 439.1L490.6 438.4z" fill="#277934"/>
<path d="M453.4 489.2L450.1 490.6L447.8 488L451.6 486L453.5 487.8z" fill="#b05d87"/>
<path d="M416.2 429.5L422.1 429.5L420.7 434.2L420.1 434.4L416.2 432.2z" fill="#eb3d39"/>
<path d="M449.9 446L452 447.2L450.8 449.8L448.8 449.8L448.2 446.9z" fill="#9a4fbf"/>
<path d="M450.7 429.5L452.1 429.5L453.5 433.9L450.3 435.4L448 433.9L447.9 433.4z" fill="#818420"/>
<path d="M427.5 465L430.3 468.3L429.9 470L425.8 471.4L424.7 467.7L426.7 465.1z" fill="#d87def"/>
<path d="M438.5 429.5L442.2 429.5L442 434L439 433.9L438.2 432.8z" fill="#26a7a0"/>
<path d="M439 486.8L436.1 484.9L437.7 481.2L442 483.1L441.2 485.6z" fill="#41784d"/>
<path d="M420.2 478L421.3 475.9L424.6 476.4L425 479.3L421.2 480.5z" fill="#7f3fdc"/>
<path d="M472.7 489.9L475.4 491.8L474.8 494.5L473.6 495.4L472.5 494.8L471.7 491z" fill="#e5619a"/>
<path d="M486 429.9L486.8 435.3L486.3 436L482 435.3L481.8 434.7z" fill="#ff6ca2"/>
<path d="M449.9 438.8L452.7 440.4L452 443.2L450.4 443.7L447.5 442L448.2 439.5z" fill="#202582"/>
<path d="M480 507.2L479.8 503.3L481.3 502.5L484.4 504.1L483.4 507.4L482.5 507.8z" fill="#873acb"/>
<path d="M422.1 499.9L420.2 496.2L420.4 495.4L424.5 494.6L424.3 499.8z" fill="#ed55b4"/>
<path d="M435.2 433.3L435 436.6L434.7 437L431.7 436.7L431.1 433.8L434.2 432.5z" fill="#bd58d5"/>
<path d="M481.9 451.8L479.7 450.1L480.4 447.7L484 448.7L484.2 449.2L482.2 451.8z" fill="#b86192"/>
<path d="M447.5 480.8L443.8 482.8L442.8 482.7L443.2 479L445.5 477.9L447.4 478.5L448 479.8z" fill="#399f30"/>
<path d="M472.8 429.5L476.8 429.5L476.6 433.2L476.4 433.4L472.6 434.2L471.9 433.8z" fill="#419447"/>
<path d="M471.2 454.2L474.5 453.8L476.1 455.4L472.8 457.8L470.9 455.3z" fill="#f84590"/>
<path d="M464.8 508.2L460.4 511.5L460 506.8L463.6 505.9L464.9 506.9z" fill="#215bd0"/>
<path d="M488.7 471.1L491.9 474.2L489.7 476.5L487.9 476L486.9 473.6L488.7 471.1z" fill="#416ea5"/>
<path d="M481.9 459.1L481.4 462.2L478.7 462.7L477 461.6L478.1 458.9L480.8 458.2z" fill="#488a93"/>
<path d="M443.4 489.8L440 490.2L438.7 488.5L439 486.8L441.2 485.6L443.9 489.3z" fill="#1b1c8f"/>
<path d="M471.4 481.1L467.5 480.4L466.9 477.6L470.8 476L472.2 477z" fill="#d53e35"/>
<path d="M436.2 509.1L436.3 511.8L430.9 511.8L432.3 509.2L434.7 508.2z" fill="#36922f"/>
<path d="M487.7 429.5L492.8 429.5L493.3 432.4L490.4 433.9z" fill="#3850bc"/>
<path d="M498.9 509.1L498.9 511.8L493.2 511.8L495.4 507.7z" fill="#e42c40"/>
<path d="M470.9 455.3L467.1 456.6L466.6 456.1L467.2 453L470.4 452.7L471.2 454.2z" fill="#2f3a9e"/>
<path d="M479.2 465.8L478.7 462.7L481.4 462.2L483.6 463.4L483 466.2z" fill="#238889"/>
<path d="M495.4 507.7L493.2 511.8L491.5 511.8L490.9 508.3L491.9 507L494.5 506.5z" fill="#1e2584"/>
<path d="M460.9 469.6L457.6 472.6L456.7 472.2L456.3 468.8L458.7 466.9L460.5 466.8z" fill="#a863e1"/>
<path d="M489.8 481L486.2 480.1L486 477.7L487.9 476L489.7 476.5L490.7 479.2z" fill="#ff72b7"/>
<path d="M487.4 492L485.8 495.3L483.9 495.8L483.1 495.4L482.2 491.9L485.8 490.3z" fill="#ed32aa"/>
<path d="M494.5 506.5L491.9 507L489.5 503.6L493.8 502L494.8 502.4z" fill="#3c9149"/>
<path d="M457.3 429.5L462.4 429.5L462.1 432.3L461.2 433.4L457.8 432.4z" fill="#ea3ec2"/>
<path d="M442.2 429.5L445 429.5L446 432.4L442.8 434.5L442 434z" fill="#aa6ed6"/>
<path d="M480.4 478.4L482 481.4L480.7 483.6L476.9 481.4L477.7 478.5z" fill="#ab81a1"/>
<path d="M456.7 479.5L459.6 483.1L456.3 485.5L454.8 483.3z" fill="#4988a1"/>
<path d="M443 474.8L441.9 477.7L439 477.3L438.2 475.8L441.1 473.5z" fill="#763c9d"/>
<path d="M457.6 505.1L454.9 502.8L457.4 499.4L460.2 500.7L460.3 501.3L458.1 505.1z" fill="#d662e7"/>
<path d="M424.7 467.7L421.6 467.1L421.1 463.6L424.2 462.8L426.7 465.1z" fill="#fe4c77"/>
<path d="M421.2 480.5L425 479.3L425.2 479.4L426.2 483.6L425.9 484.1L421.7 483.9L420.5 482.6z" fill="#3c9b89"/>
<path d="M457.7 492.4L457.5 495.9L456.4 497.2L453.8 494.4L455.7 491.5L456.8 491.6z" fill="#d74eba"/>
<path d="M460.3 445.3L463.5 447.4L462.7 449.5L459.1 449.6L458.7 449.2z" fill="#e950bb"/>
<path d="M416.2 476.7L416.2 473.2L420.8 474.3L421.3 475.9L420.2 478z" fill="#9e5e83"/>
<path d="M458 488.2L456.8 491.6L455.7 491.5L453.4 489.2L453.5 487.8L456.2 486.3z" fill="#688a38"/>
<path d="M434.7 508.2L435.1 506.3L438.2 505.3L438.7 507.7L436.2 509.1z" fill="#7e7c21"/>
<path d="M458.7 466.9L456.3 464.3L456.3 462.9L459.5 461.7L460.4 462.1L461.2 466.1L460.5 466.8z" fill="#2540da"/>
<path d="M446.7 492.9L445.8 489.1L447.6 488L447.8 488L450.1 490.6L449.5 493.4L448.9 493.7z" fill="#79801b"/>
<path d="M479 442.4L480.7 445.6L480.1 447.1L476.5 447.1L475.4 445.3L475.5 444.6z" fill="#358794"/>
<path d="M476.4 433.4L477 438.2L476.6 438.3L473 436.3L472.6 434.2z" fill="#ac6430"/>
<path d="M420.2 496.2L416.2 498.6L416.2 493.8L419.7 494.2L420.4 495.4z" fill="#189a8d"/>
<path d="M432.1 472.3L435.3 470.5L435.9 470.7L436.5 475.1L434.7 475.7L432.1 474.1z" fill="#ae5036"/>
<path d="M452.9 477.5L450.4 480.2L448 479.8L447.4 478.5L449.9 475L452.2 475.5z" fill="#243e7b"/>
<path d="M445.2 511.8L440.3 511.8L440.1 508.7L443.2 507.4L443.3 507.4z" fill="#a17297"/>
<path d="M488 486.4L490.8 488.9L488.7 492L487.4 492L485.8 490.3L486.4 486.7z" fill="#e4527a"/>
<path d="M445.8 489.1L446.7 492.9L443.5 494L443.1 493.4L443.4 489.8L443.9 489.3z" fill="#e17a24"/>
<path d="M443.1 493.4L439.5 492.8L440 490.2L443.4 489.8z" fill="#b76c92"/>
<path d="M498.9 485.4L498.9 489.6L494.1 488.5L494.4 483.8L494.5 483.7z" fill="#5f6a14"/>
<path d="M498.9 474.4L498.9 480.3L495.8 480.8L494.5 479.2L495.4 475.6z" fill="#e766d2"/>
<path d="M482.5 507.8L482.7 511.8L477.4 511.8L477.9 508.7L480 507.2z" fill="#33307a"/>
<path d="M463.6 505.9L463.4 503.7L466.5 501L466.7 501.1L467.8 505.3L464.9 506.9z" fill="#6c8b7f"/>
<path d="M451.5 483.7L454.8 483.3L456.3 485.5L456.2 486.3L453.5 487.8L451.6 486z" fill="#e15cf4"/>
<path d="M483.9 495.8L484 499.1L481.8 500.1L479.5 498.1L479.7 497.2L483.1 495.4z" fill="#7d2e7e"/>
<path d="M476.8 471.4L479.1 474.3L477 477.5L475.1 476.4L475.5 471.9z" fill="#1a237d"/>
<path d="M456.4 497.2L457.5 495.9L461.4 496.1L462 496.8L462.2 498.8L460.2 500.7L457.4 499.4L456.3 497.6z" fill="#4c75a1"/>
<path d="M422.6 511.8L417.5 511.8L420.3 505.7L420.4 505.6L422.5 506.5L422.9 507.2z" fill="#f75a94"/>
<path d="M438.7 488.5L435.8 490.3L433.9 488.9L435.5 485.1L436.1 484.9L439 486.8z" fill="#106865"/>
<path d="M466.5 501L463.4 503.7L460.3 501.3L460.2 500.7L462.2 498.8L466.3 500.6z" fill="#9f4ced"/>
<path d="M445 429.5L450.7 429.5L447.9 433.4L446 432.4z" fill="#a05ed1"/>
<path d="M420.3 505.7L416.2 505.1L416.2 500L420.3 501.3L420.4 505.6z" fill="#1d7263"/>
<path d="M477 477.5L479.1 474.3L480.7 474.4L481.8 476.5L480.4 478.4L477.7 478.5z" fill="#5b1d96"/>
<path d="M452 447.2L449.9 446L450.4 443.7L452 443.2L453.8 445L453.6 446.6z" fill="#ac4ddf"/>
<path d="M478.7 491.9L476.9 491.2L476.6 488.5L479.9 487.2L480.6 491.1z" fill="#343a8e"/>
<path d="M498.9 449.3L498.9 454.2L495.5 453.9L493.6 450.1L494 449.8z" fill="#ff7738"/>
<path d="M433.8 497L431 500.3L428.6 499L429.3 495.2L430.7 494.6L433.3 495.9z" fill="#ea42c1"/>
<path d="M484 448.7L480.4 447.7L480.1 447.1L480.7 445.6L484.4 445.1L484.5 445.1z" fill="#e169aa"/>
<path d="M466.5 483.4L469.6 484.2L470.5 486.1L470.3 487L467.3 488.3L465.6 486.1z" fill="#892eb8"/>
<path d="M450.6 469.6L453.5 473.4L452.2 475.5L449.9 475L448 472.6z" fill="#727c33"/>
<path d="M486.8 511.8L482.7 511.8L482.5 507.8L483.4 507.4L486.5 509z" fill="#5d8c2b"/>
<path d="M484 448.7L484.5 445.1L486.2 444.9L489 448L489 448.2L487 449.9L484.2 449.2z" fill="#339048"/>
<path d="M433 503.9L435.1 506.3L434.7 508.2L432.3 509.2L431.3 504.1L431.6 503.7z" fill="#315f60"/>
<path d="M487.1 500.9L484 499.1L483.9 495.8L485.8 495.3L488.7 497.8z" fill="#5a6a96"/>
<path d="M489 448.2L492.5 450.3L489.3 454.6L487.7 453.6L487 449.9z" fill="#e24971"/>
<path d="M421.9 489.6L421.7 483.9L425.9 484.1L426.4 488.5L424.2 490.3z" fill="#d92dc8"/>
<path d="M498.6 466.5L495.1 470.6L494.3 470.6L493.1 469.3L493.7 466.7z" fill="#7d1e9b"/>
<path d="M447.2 442.1L446.4 445.8L443.6 446.5L442.8 442.5L443.4 441.9z" fill="#dd46ad"/>
<path d="M482.1 471.8L480.7 474.4L479.1 474.3L476.8 471.4L477.8 470.3L481.9 471.2z" fill="#277f5c"/>
<path d="M460.3 501.3L463.4 503.7L463.6 505.9L460 506.8L458.1 505.1z" fill="#667a17"/>
<path d="M476.9 481.4L480.7 483.6L480.9 485.4L480.3 486L476.7 484.8L476.2 482.1z" fill="#d841ab"/>
<path d="M498.9 492.8L498.9 500.6L498.6 500.6L495 495.6L495.6 494.4z" fill="#e14aa4"/>
<path d="M428.9 479L429.4 482.8L426.2 483.6L425.2 479.4z" fill="#e27d96"/>
<path d="M463.7 472.6L459.9 474.5L459 474.4L457.6 472.6L460.9 469.6L463.3 471.1z" fill="#ac7639"/>
<path d="M452.6 451.8L450.8 449.8L452 447.2L453.6 446.6L456 449.6L454.9 451.4z" fill="#732b81"/>
<path d="M416.2 473.2L416.2 473.1L419.8 469.9L422.3 472.3L420.8 474.3z" fill="#6f6a93"/>
<path d="M447.5 480.8L448.4 483.8L447.2 485.1L443.8 482.8z" fill="#a3799f"/>
<path d="M445.8 498.1L443.3 501.3L442.9 501.4L440.6 498.8L440.7 498.1L443.4 495.9z" fill="#b45533"/>
<path d="M420.1 434.4L419.5 437L417.5 438.7L416.2 438.9L416.2 432.2z" fill="#3a7ca5"/>
<path d="M487.7 463.8L484 463.2L485 458.9L487.5 459.1L488.2 463.3z" fill="#1ca9a1"/>
<path d="M438.2 505.3L435.1 506.3L433 503.9L436.7 502.4L438.4 504.8z" fill="#b169ed"/>
<path d="M448.2 439.5L445.4 437.2L448 433.9L450.3 435.4L449.9 438.8z" fill="#a050d5"/>
<path d="M492.9 460.1L489 458L489.6 455.3L493.6 456.4L494.1 457.9z" fill="#ff6d40"/>
<path d="M447.5 442L450.4 443.7L449.9 446L448.2 446.9L446.4 445.8L447.2 442.1z" fill="#eb6eb4"/>
<path d="M498.9 454.2L498.9 457.9L494.1 457.9L493.6 456.4L495.5 453.9z" fill="#1a2c95"/>
<path d="M489.5 503.6L491.9 507L490.9 508.3L488.4 507.5L488.8 503.5z" fill="#5d337d"/>
<path d="M471.5 481.2L469.6 484.2L466.5 483.4L466.3 482.6L467.5 480.4L471.4 481.1z" fill="#fc45a5"/>
<path d="M422.1 429.5L424.7 429.5L424.9 431.6L423 434.6L420.7 434.2z" fill="#9b3bb5"/>
<path d="M428.3 488.8L431.2 486.8L433.2 489L430.8 490.9z" fill="#8b45cf"/>
<path d="M452.1 429.5L457.3 429.5L457.8 432.4L455.6 434.6L453.5 433.9z" fill="#7939d8"/>
<path d="M453.3 466.8L456.3 464.3L458.7 466.9L456.3 468.8L453.3 467.1z" fill="#fc2aaf"/>
<path d="M472.2 439.9L474.1 440.3L474.4 443.5L471 443z" fill="#1a279b"/>
<path d="M448.5 459.5L446.2 461.4L443.1 460.3L443.3 457.6L445.3 456.5L448.7 458.9z" fill="#e1358a"/>
<path d="M492.8 492.2L490.8 493.5L488.7 492L490.8 488.9L493 489.2z" fill="#29397d"/>
<path d="M424.7 429.5L429.7 429.5L429.8 432.7L427.1 433.7L424.9 431.6z" fill="#7841db"/>
<path d="M476.6 488.5L476.9 491.2L475.4 491.8L472.7 489.9L472.7 489.8L475.2 487.7z" fill="#203188"/>
<path d="M484.8 481.5L484.9 485.7L480.9 485.4L480.7 483.6L482 481.4z" fill="#783492"/>
<path d="M462.1 482L466.3 482.6L466.5 483.4L465.6 486.1L462.2 486.2L461 483.2z" fill="#631a98"/>
<path d="M476.8 429.5L480.6 429.5L480.7 433.6L476.6 433.2z" fill="#fb3c2d"/>
<path d="M434 429.5L438.5 429.5L438.2 432.8L435.2 433.3L434.2 432.5z" fill="#ab64ea"/>
<path d="M448.3 450.4L448.8 453.2L445.8 454.4L444.5 451.9L445 450.9z" fill="#b57f9e"/>
<path d="M426.2 474L424.6 476.4L421.3 475.9L420.8 474.3L422.3 472.3L425.6 471.7z" fill="#457694"/>
<path d="M432.4 479.6L430.9 483.3L429.4 482.8L428.9 479L429.6 478.3z" fill="#1e9793"/>
<path d="M487.5 459.1L485 458.9L485 458.9L484.4 454.9L487.7 453.6L489.3 454.6L489.6 455.3L489 458z" fill="#5d8e17"/>
<path d="M479.9 487.2L476.6 488.5L475.2 487.7L475.1 486.3L476.7 484.8L480.3 486z" fill="#3f51da"/>
<path d="M418.8 449.2L419.7 446.9L422 446.8L422.9 447.9L421.1 450.5z" fill="#f77996"/>
<path d="M475.5 471.9L475.1 476.4L472.2 477L470.8 476L470.7 472.2L472.6 471z" fill="#726788"/>
<path d="M474.5 503.5L472 503.3L471.1 500.5L471.4 500.1L476.3 500.9L476.4 501.1z" fill="#957035"/>
<path d="M498.9 480.3L498.9 485.4L494.5 483.7L495.8 480.8z" fill="#e14131"/>
<path d="M476.3 500.9L471.4 500.1L471.3 499.2L473.6 496.4L476.4 500.5z" fill="#608619"/>
<path d="M435.1 497.6L438.5 495.9L440.7 498.1L440.6 498.8L437.2 500.2z" fill="#f0358c"/>
<path d="M486.2 429.5L487.7 429.5L490.4 433.9L490.3 434.5L486.8 435.3L486 429.9z" fill="#12389f"/>
<path d="M451.5 497.1L451.6 494.9L453.8 494.4L456.4 497.2L456.3 497.6L452.7 498.5z" fill="#b266df"/>
<path d="M443.4 446.9L445 450.9L444.5 451.9L440.7 451.9L440.9 447.9z" fill="#82728b"/>
<path d="M419.8 469.9L416.2 473.1L416.2 466.8L419.9 468.5z" fill="#3458c8"/>
<path d="M460.9 492.5L461.4 496.1L457.5 495.9L457.7 492.4z" fill="#ab7c9c"/>
<path d="M467.4 429.5L472.8 429.5L471.9 433.8L471.1 433.8L467.4 430.2z" fill="#df7436"/>
<path d="M471 443L474.4 443.5L475.5 444.6L475.4 445.3L471.2 446.8L470.3 443.5z" fill="#b471db"/>
<path d="M424.3 459.7L424.2 462.8L421.1 463.6L420.8 463.3L420.3 459.9L421 459.1z" fill="#bf7194"/>
<path d="M428.2 511.8L422.6 511.8L422.9 507.2L426.4 507.8z" fill="#f4577b"/>
<path d="M498.9 466.4L498.9 473.7L495.1 470.6L498.6 466.5z" fill="#9945be"/>
<path d="M416.2 500L416.2 498.6L420.2 496.2L422.1 499.9L420.3 501.3z" fill="#f640a4"/>
<path d="M452.5 507.3L449.4 511.8L448.4 511.8L448.5 506L452.1 506.5z" fill="#d841b6"/>
<path d="M495.1 470.6L498.9 473.7L498.9 474.4L495.4 475.6L492.8 474L494.3 470.6z" fill="#1d2984"/>
<path d="M491.1 496.9L490.8 493.5L492.8 492.2L495.6 494.4L495 495.6L491.6 497z" fill="#651d92"/>
<path d="M463.3 471.1L465.2 468L466.6 467.9L468.2 471.4L464.6 473.3L463.7 472.6z" fill="#3e3ace"/>
<path d="M435.5 485.1L433.9 488.9L433.2 489L431.2 486.8L431.6 484.3z" fill="#279aa1"/>
<path d="M466.3 493.3L462 496.8L461.4 496.1L460.9 492.5L462.1 491.5L466.2 492.5z" fill="#e8327d"/>
<path d="M470.3 443.5L471.2 446.8L470.5 448.3L467.2 448.2L466.2 447.1L467.1 443.1z" fill="#ee3a35"/>
<path d="M425 493.9L424.5 494.6L420.4 495.4L419.7 494.2L421.4 489.8L421.9 489.6L424.2 490.3z" fill="#7e6c26"/>
<path d="M498.9 433.3L498.9 438.6L494.1 438.1L493.6 436.1L495.1 433.6z" fill="#2a7aa2"/>
<path d="M429.7 429.5L434 429.5L434.2 432.5L431.1 433.8L429.8 432.7z" fill="#162788"/>
<path d="M420.3 459.9L420.8 463.3L416.2 464L416.2 460.3z" fill="#153f8d"/>
<path d="M470.3 487L472.7 489.8L472.7 489.9L471.7 491L467.1 491L467.3 488.3z" fill="#3a6e9a"/>
<path d="M447.2 503.4L443.3 501.3L445.8 498.1L447.7 498.1L447.8 498.2L448.8 501.1z" fill="#8c29b7"/>
<path d="M438.5 493.4L438.5 495.9L435.1 497.6L433.8 497L433.3 495.9L436.5 492.7z" fill="#348e4e"/>
<path d="M448 433.9L445.4 437.2L443.9 437.2L442.8 434.5L446 432.4L447.9 433.4z" fill="#2e8b8d"/>
<path d="M485 458.9L484 463.2L483.6 463.4L481.4 462.2L481.9 459.1L485 458.9z" fill="#ad57d7"/>
<path d="M481.3 436.8L483.5 440.6L479.2 442L477.8 438.6z" fill="#eb6832"/>
<path d="M466.9 511.8L460.3 511.8L460.4 511.5L464.8 508.2z" fill="#6a8f1c"/>
<path d="M484.6 473.7L483.3 476.3L481.8 476.5L480.7 474.4L482.1 471.8z" fill="#ee3ca3"/>
<path d="M451.5 497.1L447.8 498.2L447.7 498.1L448.9 493.7L449.5 493.4L451.6 494.9z" fill="#a38097"/>
<path d="M487.9 476L486 477.7L483.3 476.3L484.6 473.7L486.9 473.6z" fill="#b15f38"/>
<path d="M443.4 437.8L443.4 441.9L442.8 442.5L440.3 442L440.1 439z" fill="#e27dbc"/>
<path d="M462.4 429.5L467.4 429.5L467.4 430.2L465.7 432.7L462.1 432.3z" fill="#a86035"/>
<path d="M479.5 498.1L481.8 500.1L481.3 502.5L479.8 503.3L476.4 501.1L476.3 500.9L476.4 500.5z" fill="#235ad7"/>
<path d="M419.7 446.9L418.8 449.2L416.2 449.9L416.2 444.1L418.1 444.5z" fill="#f55796"/>
<path d="M420.3 505.7L417.5 511.8L416.2 511.8L416.2 505.1z" fill="#9735d0"/>
<path d="M473 436.3L476.6 438.3L474.1 440.3L472.2 439.9L471.6 438.7z" fill="#b34fe5"/>
<path d="M456.3 462.9L456.3 464.3L453.3 466.8L451.5 463.7L454 461.5z" fill="#a46ad1"/>
<path d="M448.4 483.8L451.4 483.7L451.5 483.7L451.6 486L447.8 488L447.6 488L447.2 485.1z" fill="#794cc6"/>
<path d="M480.6 429.5L486.2 429.5L486 429.9L481.8 434.7L480.7 433.6z" fill="#a073ec"/>
<path d="M478.7 491.9L477.9 494.7L474.8 494.5L475.4 491.8L476.9 491.2z" fill="#f93e96"/>
<path d="M435.8 441L438.7 443L438.2 444.7L435.9 445.3L433 443.3z" fill="#dd72ba"/>
<path d="M495.1 433.6L493.6 436.1L490.7 435.2L490.3 434.5L490.4 433.9L493.3 432.4z" fill="#47833f"/>
<path d="M422.9 444.2L420.3 443L420.5 440.9L422.1 440L424.3 441.5L423.3 444z" fill="#822bbd"/>
<path d="M467.2 448.2L465.9 451.2L463.9 451.3L462.7 449.5L463.5 447.4L466.2 447.1z" fill="#a96ca5"/>
<path d="M473.1 484.7L470.5 486.1L469.6 484.2L471.5 481.2L473.3 482.4z" fill="#2f97a3"/>
<path d="M441.9 477.7L443 474.8L444.3 474.8L445.5 477.9L443.2 479z" fill="#f7518d"/>
<polygon points="417.4,430.7 431.8,430.7 429.1,438.8 422.8,440.6 417.4,441.5" fill="#e16ee1"/>
<polygon points="443.6,430.7 474.2,430.7 472.4,442.4 465.2,449.6 453.5,446 448.1,442.4" fill="#e16ee1"/>
<polygon points="431.8,430.7 441.8,430.7 443.6,438.8 439.1,443.3 430,439.7" fill="#c878aa"/>
<polygon points="417.4,443.3 429.1,439.7 439.1,443.3 444.5,447.8 449,460.5 454.4,472.2 445.4,476.7 435.5,474 429.1,465.9 421,453.3" fill="#cd8c14"/>
<polygon points="417.4,448.7 422.8,447.8 446.3,455.1 447.2,458.7 421,452.4 417.4,452.4" fill="#1e4696"/>
<polygon points="445.4,463.2 448.1,462.3 446.3,473.1 443.6,473.1" fill="#2864e6"/>
<polygon points="441.8,441.5 446.3,439.7 450.8,446.9 444.5,447.8" fill="#1e8250"/>
<polygon points="446.3,448.7 452.6,446.9 460.7,470.4 456.2,470.4 449,460.5" fill="#d232d2"/>
<polygon points="452.6,446.9 465.2,449.6 473.3,457.8 479.7,461.4 478.8,472.2 469.7,473.1 460.7,470.4" fill="#1e82dc"/>
<polygon points="465.2,449.6 472.4,442.4 479.7,446 484.2,453.3 483.3,460.5 479.7,461.4 473.3,457.8" fill="#6e6e8c"/>
<polygon points="482.4,439.7 491.4,437 497.7,438.8 497.7,453.3 487.8,453.3 482.4,446.9" fill="#466e1e"/>
<polygon points="476,430.7 491.4,430.7 491.4,437 482.4,438.8" fill="#3c3ce6"/>
<polygon points="474.2,435.2 480.6,438.8 481.5,445.1 473.3,442.4" fill="#e664be"/>
<polygon points="480.6,462.3 489.6,459.6 496.8,464.1 496.8,476.7 486,475.8 479.7,472.2" fill="#eb4682"/>
<polygon points="489.6,456.9 496.8,457.8 496.8,463.2 490.5,461.4" fill="#f08c28"/>
<polygon points="484.2,453.3 488.7,453.3 489.6,458.7 485.1,459.6" fill="#2882e6"/>
<polygon points="478.8,472.2 486,475.8 481.5,485.7 477.8,482.1" fill="#8232d2"/>
<polygon points="469.7,474.9 477.8,473.1 477.8,489.3 469.7,485.7" fill="#1e785a"/>
<polygon points="450.8,475.8 456.2,470.4 469.7,474 468.8,484.8 460.7,485.7 452.6,481.2" fill="#965a28"/>
<polygon points="463.4,471.3 469.7,470.4 472.4,474 466.1,475.8" fill="#f07828"/>
<polygon points="481.5,485.7 486,475.8 496.8,477.6 497.7,485.7 487.8,490.2 480.6,490.2" fill="#f55a3c"/>
<polygon points="451.7,489.3 460.7,485.7 468.8,486.6 465.2,493.8 456.2,495.7" fill="#eb326e"/>
<polygon points="462.5,493.8 473.3,492.9 478.8,509.2 467.9,509.2" fill="#f05abe"/>
<polygon points="444.5,496.6 456.2,495.7 460.7,509.2 449.9,509.2" fill="#2878be"/>
<polygon points="436.4,502 443.6,497.5 449.9,509.2 435.5,509.2" fill="#eb3c96"/>
<polygon points="432.7,490.2 439.1,487.5 444.5,492 442.7,498.4 434.6,497.5" fill="#d26e32"/>
<polygon points="443.6,479.4 449,476.7 454.4,485.7 449.9,489.3 445.4,485.7" fill="#aa6ee6"/>
<polygon points="439.1,479.4 443.6,478.5 447.2,486.6 442.7,486.6" fill="#f05082"/>
<polygon points="417.4,497.5 426.4,494.8 431.8,500.2 430,509.2 417.4,509.2" fill="#78788c"/>
<polygon points="417.4,471.3 422.8,473.1 421.9,487.5 417.4,488.4" fill="#1e3c8c"/>
<polygon points="421,466.8 426.4,465 429.1,471.3 424.6,474.9" fill="#f56e32"/>
<polygon points="417.4,456 421.9,456.9 421.9,460.5 417.4,460.5" fill="#e62828"/>
<polygon points="431.8,498.4 437.3,497.5 435.5,509.2 430.9,509.2" fill="#288250"/>
<polygon points="480.6,491.1 487.8,490.2 489.6,496.6 483.3,497.5" fill="#aa3c82"/>
<polygon points="481.5,499.3 487.8,498.4 489.6,505.6 482.4,506.5" fill="#f0466e"/>
<polygon points="489.6,496.6 497.7,497.5 497.7,509.2 490.5,509.2" fill="#1e3278"/>
<polygon points="476,490.2 480.6,491.1 479.7,496.6 476,495.7" fill="#8c8232"/>
<polygon points="422.8,475.8 427.3,474.9 428.2,480.3 423.7,481.2" fill="#6e7882"/>
<polygon points="489.6,501.1 495,502 494.1,507.4 489.6,507.4" fill="#3c6edc"/>
<polygon points="423.7,482.1 430,481.2 431.8,487.5 425.5,489.3" fill="#289696"/>
<polygon points="426.4,489.3 431.8,488.4 432.7,494.8 427.3,495.7" fill="#3250dc"/>
<polygon points="430,476.7 434.6,475.8 436.4,481.2 431.8,482.1" fill="#c83cc8"/>
<polygon points="434.6,482.1 439.1,481.2 440.9,486.6 436.4,487.5" fill="#3c8c3c"/>
<polygon points="445.4,489.3 450.8,490.2 449.9,495.7 444.5,494.8" fill="#6e6e82"/>
</g></g>
<rect x="483.5" y="510" width="12.1" height="1.4" fill="#111"/>
<text x="490.4" y="514.5" font-size="3.4" font-weight="bold" text-anchor="middle" fill="#222">10µm</text>
<g id="ipf-key" filter="url(#soft)">
<path d="M100.8 523.7L100.8 520.8L103.2 523.8z" fill="#06ff06" stroke="#06ff06" stroke-width="0.35"/>
<path d="M100.8 520.8L103.2 520.9L103.2 523.8z" fill="#0cff0c" stroke="#0cff0c" stroke-width="0.35"/>
<path d="M103.2 523.8L103.2 520.9L105.6 523.9z" fill="#06ff18" stroke="#06ff18" stroke-width="0.35"/>
<path d="M103.2 520.9L105.6 520.9L105.6 523.9z" fill="#0cff1f" stroke="#0cff1f" stroke-width="0.35"/>
<path d="M105.6 523.9L105.6 520.9L107.9 523.9z" fill="#06ff2d" stroke="#06ff2d" stroke-width="0.35"/>
<path d="M105.6 520.9L108 520.8L107.9 523.9z" fill="#0dff36" stroke="#0dff36" stroke-width="0.35"/>
<path d="M107.9 523.9L108 520.8L110.3 523.8z" fill="#07ff45" stroke="#07ff45" stroke-width="0.35"/>
<path d="M108 520.8L110.4 520.7L110.3 523.8z" fill="#0fff50" stroke="#0fff50" stroke-width="0.35"/>
<path d="M110.3 523.8L110.4 520.7L112.7 523.6z" fill="#07ff62" stroke="#07ff62" stroke-width="0.35"/>
<path d="M110.4 520.7L112.8 520.5L112.7 523.6z" fill="#10ff70" stroke="#10ff70" stroke-width="0.35"/>
<path d="M112.7 523.6L112.8 520.5L115.2 523.3z" fill="#08ff84" stroke="#08ff84" stroke-width="0.35"/>
<path d="M112.8 520.5L115.2 520.2L115.2 523.3z" fill="#12ff95" stroke="#12ff95" stroke-width="0.35"/>
<path d="M115.2 523.3L115.2 520.2L117.6 523z" fill="#09ffad" stroke="#09ffad" stroke-width="0.35"/>
<path d="M115.2 520.2L117.6 519.8L117.6 523z" fill="#14ffc4" stroke="#14ffc4" stroke-width="0.35"/>
<path d="M117.6 523L117.6 519.8L120 522.6z" fill="#0affe0" stroke="#0affe0" stroke-width="0.35"/>
<path d="M117.6 519.8L120 519.4L120 522.6z" fill="#16ffff" stroke="#16ffff" stroke-width="0.35"/>
<path d="M120 522.6L120 519.4L122.4 522.1z" fill="#0ae0ff" stroke="#0ae0ff" stroke-width="0.35"/>
<path d="M120 519.4L122.5 518.9L122.4 522.1z" fill="#14c4ff" stroke="#14c4ff" stroke-width="0.35"/>
<path d="M122.4 522.1L122.5 518.9L124.9 521.6z" fill="#09adff" stroke="#09adff" stroke-width="0.35"/>
<path d="M122.5 518.9L124.9 518.3L124.9 521.6z" fill="#1295ff" stroke="#1295ff" stroke-width="0.35"/>
<path d="M124.9 521.6L124.9 518.3L127.3 521z" fill="#0884ff" stroke="#0884ff" stroke-width="0.35"/>
<path d="M124.9 518.3L127.4 517.6L127.3 521z" fill="#1070ff" stroke="#1070ff" stroke-width="0.35"/>
<path d="M127.3 521L127.4 517.6L129.8 520.2z" fill="#0762ff" stroke="#0762ff" stroke-width="0.35"/>
<path d="M127.4 517.6L129.8 516.9L129.8 520.2z" fill="#0f50ff" stroke="#0f50ff" stroke-width="0.35"/>
<path d="M129.8 520.2L129.8 516.9L132.3 519.5z" fill="#0745ff" stroke="#0745ff" stroke-width="0.35"/>
<path d="M129.8 516.9L132.3 516.1L132.3 519.5z" fill="#0d36ff" stroke="#0d36ff" stroke-width="0.35"/>
<path d="M132.3 519.5L132.3 516.1L134.7 518.6z" fill="#062dff" stroke="#062dff" stroke-width="0.35"/>
<path d="M132.3 516.1L134.8 515.2L134.7 518.6z" fill="#0c1fff" stroke="#0c1fff" stroke-width="0.35"/>
<path d="M134.7 518.6L134.8 515.2L137.2 517.7z" fill="#0618ff" stroke="#0618ff" stroke-width="0.35"/>
<path d="M134.8 515.2L137.3 514.2L137.2 517.7z" fill="#0c0cff" stroke="#0c0cff" stroke-width="0.35"/>
<path d="M137.2 517.7L137.3 514.2L139.7 516.7z" fill="#0606ff" stroke="#0606ff" stroke-width="0.35"/>
<path d="M100.8 520.8L100.8 517.8L103.2 520.9z" fill="#18ff06" stroke="#18ff06" stroke-width="0.35"/>
<path d="M100.8 517.8L103.2 517.9L103.2 520.9z" fill="#1fff0c" stroke="#1fff0c" stroke-width="0.35"/>
<path d="M103.2 520.9L103.2 517.9L105.6 520.9z" fill="#19ff19" stroke="#19ff19" stroke-width="0.35"/>
<path d="M103.2 517.9L105.6 517.9L105.6 520.9z" fill="#22ff22" stroke="#22ff22" stroke-width="0.35"/>
<path d="M105.6 520.9L105.6 517.9L108 520.8z" fill="#1cff30" stroke="#1cff30" stroke-width="0.35"/>
<path d="M105.6 517.9L108 517.8L108 520.8z" fill="#24ff3a" stroke="#24ff3a" stroke-width="0.35"/>
<path d="M108 520.8L108 517.8L110.4 520.7z" fill="#1eff4b" stroke="#1eff4b" stroke-width="0.35"/>
<path d="M108 517.8L110.4 517.6L110.4 520.7z" fill="#28ff58" stroke="#28ff58" stroke-width="0.35"/>
<path d="M110.4 520.7L110.4 517.6L112.8 520.5z" fill="#21ff6b" stroke="#21ff6b" stroke-width="0.35"/>
<path d="M110.4 517.6L112.8 517.3L112.8 520.5z" fill="#2cff7b" stroke="#2cff7b" stroke-width="0.35"/>
<path d="M112.8 520.5L112.8 517.3L115.2 520.2z" fill="#24ff92" stroke="#24ff92" stroke-width="0.35"/>
<path d="M112.8 517.3L115.2 517L115.2 520.2z" fill="#31ffa7" stroke="#31ffa7" stroke-width="0.35"/>
<path d="M115.2 520.2L115.2 517L117.6 519.8z" fill="#29ffc2" stroke="#29ffc2" stroke-width="0.35"/>
<path d="M115.2 517L117.6 516.6L117.6 519.8z" fill="#37ffde" stroke="#37ffde" stroke-width="0.35"/>
<path d="M117.6 519.8L117.6 516.6L120 519.4z" fill="#2effff" stroke="#2effff" stroke-width="0.35"/>
<path d="M117.6 516.6L120.1 516.1L120 519.4z" fill="#37deff" stroke="#37deff" stroke-width="0.35"/>
<path d="M120 519.4L120.1 516.1L122.5 518.9z" fill="#29c2ff" stroke="#29c2ff" stroke-width="0.35"/>
<path d="M120.1 516.1L122.5 515.6L122.5 518.9z" fill="#31a7ff" stroke="#31a7ff" stroke-width="0.35"/>
<path d="M122.5 518.9L122.5 515.6L124.9 518.3z" fill="#2492ff" stroke="#2492ff" stroke-width="0.35"/>
<path d="M122.5 515.6L125 515L124.9 518.3z" fill="#2c7bff" stroke="#2c7bff" stroke-width="0.35"/>
<path d="M124.9 518.3L125 515L127.4 517.6z" fill="#216bff" stroke="#216bff" stroke-width="0.35"/>
<path d="M125 515L127.4 514.2L127.4 517.6z" fill="#2858ff" stroke="#2858ff" stroke-width="0.35"/>
<path d="M127.4 517.6L127.4 514.2L129.8 516.9z" fill="#1e4bff" stroke="#1e4bff" stroke-width="0.35"/>
<path d="M127.4 514.2L129.9 513.5L129.8 516.9z" fill="#243aff" stroke="#243aff" stroke-width="0.35"/>
<path d="M129.8 516.9L129.9 513.5L132.3 516.1z" fill="#1c30ff" stroke="#1c30ff" stroke-width="0.35"/>
<path d="M129.9 513.5L132.4 512.6L132.3 516.1z" fill="#2222ff" stroke="#2222ff" stroke-width="0.35"/>
<path d="M132.3 516.1L132.4 512.6L134.8 515.2z" fill="#1919ff" stroke="#1919ff" stroke-width="0.35"/>
<path d="M132.4 512.6L134.8 511.7L134.8 515.2z" fill="#1f0cff" stroke="#1f0cff" stroke-width="0.35"/>
<path d="M134.8 515.2L134.8 511.7L137.3 514.2z" fill="#1806ff" stroke="#1806ff" stroke-width="0.35"/>
<path d="M100.8 517.8L100.8 514.9L103.2 517.9z" fill="#2dff06" stroke="#2dff06" stroke-width="0.35"/>
<path d="M100.8 514.9L103.2 514.9L103.2 517.9z" fill="#36ff0d" stroke="#36ff0d" stroke-width="0.35"/>
<path d="M103.2 517.9L103.2 514.9L105.6 517.9z" fill="#30ff1c" stroke="#30ff1c" stroke-width="0.35"/>
<path d="M103.2 514.9L105.6 514.8L105.6 517.9z" fill="#3aff24" stroke="#3aff24" stroke-width="0.35"/>
<path d="M105.6 517.9L105.6 514.8L108 517.8z" fill="#34ff34" stroke="#34ff34" stroke-width="0.35"/>
<path d="M105.6 514.8L108 514.7L108 517.8z" fill="#40ff40" stroke="#40ff40" stroke-width="0.35"/>
<path d="M108 517.8L108 514.7L110.4 517.6z" fill="#3aff52" stroke="#3aff52" stroke-width="0.35"/>
<path d="M108 514.7L110.4 514.5L110.4 517.6z" fill="#46ff61" stroke="#46ff61" stroke-width="0.35"/>
<path d="M110.4 517.6L110.4 514.5L112.8 517.3z" fill="#40ff76" stroke="#40ff76" stroke-width="0.35"/>
<path d="M110.4 514.5L112.8 514.2L112.8 517.3z" fill="#4eff89" stroke="#4eff89" stroke-width="0.35"/>
<path d="M112.8 517.3L112.8 514.2L115.2 517z" fill="#47ffa3" stroke="#47ffa3" stroke-width="0.35"/>
<path d="M112.8 514.2L115.2 513.8L115.2 517z" fill="#59ffbc" stroke="#59ffbc" stroke-width="0.35"/>
<path d="M115.2 517L115.2 513.8L117.6 516.6z" fill="#51ffdc" stroke="#51ffdc" stroke-width="0.35"/>
<path d="M115.2 513.8L117.7 513.4L117.6 516.6z" fill="#66ffff" stroke="#66ffff" stroke-width="0.35"/>
<path d="M117.6 516.6L117.7 513.4L120.1 516.1z" fill="#51dcff" stroke="#51dcff" stroke-width="0.35"/>
<path d="M117.7 513.4L120.1 512.9L120.1 516.1z" fill="#59bcff" stroke="#59bcff" stroke-width="0.35"/>
<path d="M120.1 516.1L120.1 512.9L122.5 515.6z" fill="#47a3ff" stroke="#47a3ff" stroke-width="0.35"/>
<path d="M120.1 512.9L122.5 512.3L122.5 515.6z" fill="#4e89ff" stroke="#4e89ff" stroke-width="0.35"/>
<path d="M122.5 515.6L122.5 512.3L125 515z" fill="#4076ff" stroke="#4076ff" stroke-width="0.35"/>
<path d="M122.5 512.3L125 511.6L125 515z" fill="#4661ff" stroke="#4661ff" stroke-width="0.35"/>
<path d="M125 515L125 511.6L127.4 514.2z" fill="#3a52ff" stroke="#3a52ff" stroke-width="0.35"/>
<path d="M125 511.6L127.5 510.9L127.4 514.2z" fill="#4040ff" stroke="#4040ff" stroke-width="0.35"/>
<path d="M127.4 514.2L127.5 510.9L129.9 513.5z" fill="#3434ff" stroke="#3434ff" stroke-width="0.35"/>
<path d="M127.5 510.9L129.9 510.1L129.9 513.5z" fill="#3a24ff" stroke="#3a24ff" stroke-width="0.35"/>
<path d="M129.9 513.5L129.9 510.1L132.4 512.6z" fill="#301cff" stroke="#301cff" stroke-width="0.35"/>
<path d="M129.9 510.1L132.4 509.2L132.4 512.6z" fill="#360dff" stroke="#360dff" stroke-width="0.35"/>
<path d="M132.4 512.6L132.4 509.2L134.8 511.7z" fill="#2d06ff" stroke="#2d06ff" stroke-width="0.35"/>
<path d="M100.8 514.9L100.8 512L103.2 514.9z" fill="#45ff07" stroke="#45ff07" stroke-width="0.35"/>
<path d="M100.8 512L103.2 511.9L103.2 514.9z" fill="#50ff0f" stroke="#50ff0f" stroke-width="0.35"/>
<path d="M103.2 514.9L103.2 511.9L105.6 514.8z" fill="#4bff1e" stroke="#4bff1e" stroke-width="0.35"/>
<path d="M103.2 511.9L105.6 511.8L105.6 514.8z" fill="#58ff28" stroke="#58ff28" stroke-width="0.35"/>
<path d="M105.6 514.8L105.6 511.8L108 514.7z" fill="#52ff3a" stroke="#52ff3a" stroke-width="0.35"/>
<path d="M105.6 511.8L108 511.7L108 514.7z" fill="#61ff46" stroke="#61ff46" stroke-width="0.35"/>
<path d="M108 514.7L108 511.7L110.4 514.5z" fill="#5bff5b" stroke="#5bff5b" stroke-width="0.35"/>
<path d="M108 511.7L110.4 511.4L110.4 514.5z" fill="#6cff6c" stroke="#6cff6c" stroke-width="0.35"/>
<path d="M110.4 514.5L110.4 511.4L112.8 514.2z" fill="#66ff85" stroke="#66ff85" stroke-width="0.35"/>
<path d="M110.4 511.4L112.8 511.1L112.8 514.2z" fill="#7aff9b" stroke="#7aff9b" stroke-width="0.35"/>
<path d="M112.8 514.2L112.8 511.1L115.2 513.8z" fill="#74ffb9" stroke="#74ffb9" stroke-width="0.35"/>
<path d="M112.8 511.1L115.2 510.7L115.2 513.8z" fill="#8cffd9" stroke="#8cffd9" stroke-width="0.35"/>
<path d="M115.2 513.8L115.2 510.7L117.7 513.4z" fill="#86ffff" stroke="#86ffff" stroke-width="0.35"/>
<path d="M115.2 510.7L117.7 510.2L117.7 513.4z" fill="#8cd9ff" stroke="#8cd9ff" stroke-width="0.35"/>
<path d="M117.7 513.4L117.7 510.2L120.1 512.9z" fill="#74b9ff" stroke="#74b9ff" stroke-width="0.35"/>
<path d="M117.7 510.2L120.1 509.7L120.1 512.9z" fill="#7a9bff" stroke="#7a9bff" stroke-width="0.35"/>
<path d="M120.1 512.9L120.1 509.7L122.5 512.3z" fill="#6685ff" stroke="#6685ff" stroke-width="0.35"/>
<path d="M120.1 509.7L122.6 509L122.5 512.3z" fill="#6c6cff" stroke="#6c6cff" stroke-width="0.35"/>
<path d="M122.5 512.3L122.6 509L125 511.6z" fill="#5b5bff" stroke="#5b5bff" stroke-width="0.35"/>
<path d="M122.6 509L125 508.3L125 511.6z" fill="#6146ff" stroke="#6146ff" stroke-width="0.35"/>
<path d="M125 511.6L125 508.3L127.5 510.9z" fill="#523aff" stroke="#523aff" stroke-width="0.35"/>
<path d="M125 508.3L127.5 507.6L127.5 510.9z" fill="#5828ff" stroke="#5828ff" stroke-width="0.35"/>
<path d="M127.5 510.9L127.5 507.6L129.9 510.1z" fill="#4b1eff" stroke="#4b1eff" stroke-width="0.35"/>
<path d="M127.5 507.6L130 506.7L129.9 510.1z" fill="#500fff" stroke="#500fff" stroke-width="0.35"/>
<path d="M129.9 510.1L130 506.7L132.4 509.2z" fill="#4507ff" stroke="#4507ff" stroke-width="0.35"/>
<path d="M100.8 512L100.8 509L103.2 511.9z" fill="#62ff07" stroke="#62ff07" stroke-width="0.35"/>
<path d="M100.8 509L103.2 508.9L103.2 511.9z" fill="#70ff10" stroke="#70ff10" stroke-width="0.35"/>
<path d="M103.2 511.9L103.2 508.9L105.6 511.8z" fill="#6bff21" stroke="#6bff21" stroke-width="0.35"/>
<path d="M103.2 508.9L105.6 508.8L105.6 511.8z" fill="#7bff2c" stroke="#7bff2c" stroke-width="0.35"/>
<path d="M105.6 511.8L105.6 508.8L108 511.7z" fill="#76ff40" stroke="#76ff40" stroke-width="0.35"/>
<path d="M105.6 508.8L108 508.6L108 511.7z" fill="#89ff4e" stroke="#89ff4e" stroke-width="0.35"/>
<path d="M108 511.7L108 508.6L110.4 511.4z" fill="#85ff66" stroke="#85ff66" stroke-width="0.35"/>
<path d="M108 508.6L110.4 508.3L110.4 511.4z" fill="#9bff7a" stroke="#9bff7a" stroke-width="0.35"/>
<path d="M110.4 511.4L110.4 508.3L112.8 511.1z" fill="#97ff97" stroke="#97ff97" stroke-width="0.35"/>
<path d="M110.4 508.3L112.8 508L112.8 511.1z" fill="#b3ffb3" stroke="#b3ffb3" stroke-width="0.35"/>
<path d="M112.8 511.1L112.8 508L115.2 510.7z" fill="#aeffd7" stroke="#aeffd7" stroke-width="0.35"/>
<path d="M112.8 508L115.3 507.5L115.2 510.7z" fill="#d2ffff" stroke="#d2ffff" stroke-width="0.35"/>
<path d="M115.2 510.7L115.3 507.5L117.7 510.2z" fill="#aed7ff" stroke="#aed7ff" stroke-width="0.35"/>
<path d="M115.3 507.5L117.7 507L117.7 510.2z" fill="#b3b3ff" stroke="#b3b3ff" stroke-width="0.35"/>
<path d="M117.7 510.2L117.7 507L120.1 509.7z" fill="#9797ff" stroke="#9797ff" stroke-width="0.35"/>
<path d="M117.7 507L120.2 506.4L120.1 509.7z" fill="#9b7aff" stroke="#9b7aff" stroke-width="0.35"/>
<path d="M120.1 509.7L120.2 506.4L122.6 509z" fill="#8566ff" stroke="#8566ff" stroke-width="0.35"/>
<path d="M120.2 506.4L122.6 505.8L122.6 509z" fill="#894eff" stroke="#894eff" stroke-width="0.35"/>
<path d="M122.6 509L122.6 505.8L125 508.3z" fill="#7640ff" stroke="#7640ff" stroke-width="0.35"/>
<path d="M122.6 505.8L125.1 505L125 508.3z" fill="#7b2cff" stroke="#7b2cff" stroke-width="0.35"/>
<path d="M125 508.3L125.1 505L127.5 507.6z" fill="#6b21ff" stroke="#6b21ff" stroke-width="0.35"/>
<path d="M125.1 505L127.5 504.2L127.5 507.6z" fill="#7010ff" stroke="#7010ff" stroke-width="0.35"/>
<path d="M127.5 507.6L127.5 504.2L130 506.7z" fill="#6207ff" stroke="#6207ff" stroke-width="0.35"/>
<path d="M100.8 509L100.8 506.1L103.2 508.9z" fill="#84ff08" stroke="#84ff08" stroke-width="0.35"/>
<path d="M100.8 506.1L103.2 506L103.2 508.9z" fill="#95ff12" stroke="#95ff12" stroke-width="0.35"/>
<path d="M103.2 508.9L103.2 506L105.6 508.8z" fill="#92ff24" stroke="#92ff24" stroke-width="0.35"/>
<path d="M103.2 506L105.6 505.8L105.6 508.8z" fill="#a7ff31" stroke="#a7ff31" stroke-width="0.35"/>
<path d="M105.6 508.8L105.6 505.8L108 508.6z" fill="#a3ff47" stroke="#a3ff47" stroke-width="0.35"/>
<path d="M105.6 505.8L108 505.6L108 508.6z" fill="#bcff59" stroke="#bcff59" stroke-width="0.35"/>
<path d="M108 508.6L108 505.6L110.4 508.3z" fill="#b9ff74" stroke="#b9ff74" stroke-width="0.35"/>
<path d="M108 505.6L110.4 505.2L110.4 508.3z" fill="#d9ff8c" stroke="#d9ff8c" stroke-width="0.35"/>
<path d="M110.4 508.3L110.4 505.2L112.8 508z" fill="#d7ffae" stroke="#d7ffae" stroke-width="0.35"/>
<path d="M110.4 505.2L112.9 504.8L112.8 508z" fill="#ffffd2" stroke="#ffffd2" stroke-width="0.35"/>
<path d="M112.8 508L112.9 504.8L115.3 507.5z" fill="#ffffff" stroke="#ffffff" stroke-width="0.35"/>
<path d="M112.9 504.8L115.3 504.4L115.3 507.5z" fill="#ffd2ff" stroke="#ffd2ff" stroke-width="0.35"/>
<path d="M115.3 507.5L115.3 504.4L117.7 507z" fill="#d7aeff" stroke="#d7aeff" stroke-width="0.35"/>
<path d="M115.3 504.4L117.7 503.8L117.7 507z" fill="#d98cff" stroke="#d98cff" stroke-width="0.35"/>
<path d="M117.7 507L117.7 503.8L120.2 506.4z" fill="#b974ff" stroke="#b974ff" stroke-width="0.35"/>
<path d="M117.7 503.8L120.2 503.2L120.2 506.4z" fill="#bc59ff" stroke="#bc59ff" stroke-width="0.35"/>
<path d="M120.2 506.4L120.2 503.2L122.6 505.8z" fill="#a347ff" stroke="#a347ff" stroke-width="0.35"/>
<path d="M120.2 503.2L122.6 502.5L122.6 505.8z" fill="#a731ff" stroke="#a731ff" stroke-width="0.35"/>
<path d="M122.6 505.8L122.6 502.5L125.1 505z" fill="#9224ff" stroke="#9224ff" stroke-width="0.35"/>
<path d="M122.6 502.5L125.1 501.7L125.1 505z" fill="#9512ff" stroke="#9512ff" stroke-width="0.35"/>
<path d="M125.1 505L125.1 501.7L127.5 504.2z" fill="#8408ff" stroke="#8408ff" stroke-width="0.35"/>
<path d="M100.8 506.1L100.8 503.1L103.2 506z" fill="#adff09" stroke="#adff09" stroke-width="0.35"/>
<path d="M100.8 503.1L103.2 503L103.2 506z" fill="#c4ff14" stroke="#c4ff14" stroke-width="0.35"/>
<path d="M103.2 506L103.2 503L105.6 505.8z" fill="#c2ff29" stroke="#c2ff29" stroke-width="0.35"/>
<path d="M103.2 503L105.6 502.8L105.6 505.8z" fill="#deff37" stroke="#deff37" stroke-width="0.35"/>
<path d="M105.6 505.8L105.6 502.8L108 505.6z" fill="#dcff51" stroke="#dcff51" stroke-width="0.35"/>
<path d="M105.6 502.8L108 502.5L108 505.6z" fill="#ffff66" stroke="#ffff66" stroke-width="0.35"/>
<path d="M108 505.6L108 502.5L110.4 505.2z" fill="#ffff86" stroke="#ffff86" stroke-width="0.35"/>
<path d="M108 502.5L110.4 502.1L110.4 505.2z" fill="#ffd98c" stroke="#ffd98c" stroke-width="0.35"/>
<path d="M110.4 505.2L110.4 502.1L112.9 504.8z" fill="#ffd7ae" stroke="#ffd7ae" stroke-width="0.35"/>
<path d="M110.4 502.1L112.9 501.7L112.9 504.8z" fill="#ffb3b3" stroke="#ffb3b3" stroke-width="0.35"/>
<path d="M112.9 504.8L112.9 501.7L115.3 504.4z" fill="#ffaed7" stroke="#ffaed7" stroke-width="0.35"/>
<path d="M112.9 501.7L115.3 501.2L115.3 504.4z" fill="#ff8cd9" stroke="#ff8cd9" stroke-width="0.35"/>
<path d="M115.3 504.4L115.3 501.2L117.7 503.8z" fill="#ff86ff" stroke="#ff86ff" stroke-width="0.35"/>
<path d="M115.3 501.2L117.8 500.6L117.7 503.8z" fill="#ff66ff" stroke="#ff66ff" stroke-width="0.35"/>
<path d="M117.7 503.8L117.8 500.6L120.2 503.2z" fill="#dc51ff" stroke="#dc51ff" stroke-width="0.35"/>
<path d="M117.8 500.6L120.2 499.9L120.2 503.2z" fill="#de37ff" stroke="#de37ff" stroke-width="0.35"/>
<path d="M120.2 503.2L120.2 499.9L122.6 502.5z" fill="#c229ff" stroke="#c229ff" stroke-width="0.35"/>
<path d="M120.2 499.9L122.7 499.2L122.6 502.5z" fill="#c414ff" stroke="#c414ff" stroke-width="0.35"/>
<path d="M122.6 502.5L122.7 499.2L125.1 501.7z" fill="#ad09ff" stroke="#ad09ff" stroke-width="0.35"/>
<path d="M100.8 503.1L100.8 500.2L103.2 503z" fill="#e0ff0a" stroke="#e0ff0a" stroke-width="0.35"/>
<path d="M100.8 500.2L103.2 500L103.2 503z" fill="#ffff16" stroke="#ffff16" stroke-width="0.35"/>
<path d="M103.2 503L103.2 500L105.6 502.8z" fill="#ffff2e" stroke="#ffff2e" stroke-width="0.35"/>
<path d="M103.2 500L105.6 499.8L105.6 502.8z" fill="#ffde37" stroke="#ffde37" stroke-width="0.35"/>
<path d="M105.6 502.8L105.6 499.8L108 502.5z" fill="#ffdc51" stroke="#ffdc51" stroke-width="0.35"/>
<path d="M105.6 499.8L108 499.5L108 502.5z" fill="#ffbc59" stroke="#ffbc59" stroke-width="0.35"/>
<path d="M108 502.5L108 499.5L110.4 502.1z" fill="#ffb974" stroke="#ffb974" stroke-width="0.35"/>
<path d="M108 499.5L110.5 499.1L110.4 502.1z" fill="#ff9b7a" stroke="#ff9b7a" stroke-width="0.35"/>
<path d="M110.4 502.1L110.5 499.1L112.9 501.7z" fill="#ff9797" stroke="#ff9797" stroke-width="0.35"/>
<path d="M110.5 499.1L112.9 498.6L112.9 501.7z" fill="#ff7a9b" stroke="#ff7a9b" stroke-width="0.35"/>
<path d="M112.9 501.7L112.9 498.6L115.3 501.2z" fill="#ff74b9" stroke="#ff74b9" stroke-width="0.35"/>
<path d="M112.9 498.6L115.3 498L115.3 501.2z" fill="#ff59bc" stroke="#ff59bc" stroke-width="0.35"/>
<path d="M115.3 501.2L115.3 498L117.8 500.6z" fill="#ff51dc" stroke="#ff51dc" stroke-width="0.35"/>
<path d="M115.3 498L117.8 497.4L117.8 500.6z" fill="#ff37de" stroke="#ff37de" stroke-width="0.35"/>
<path d="M117.8 500.6L117.8 497.4L120.2 499.9z" fill="#ff2eff" stroke="#ff2eff" stroke-width="0.35"/>
<path d="M117.8 497.4L120.2 496.7L120.2 499.9z" fill="#ff16ff" stroke="#ff16ff" stroke-width="0.35"/>
<path d="M120.2 499.9L120.2 496.7L122.7 499.2z" fill="#e00aff" stroke="#e00aff" stroke-width="0.35"/>
<path d="M100.8 500.2L100.8 497.3L103.2 500z" fill="#ffe00a" stroke="#ffe00a" stroke-width="0.35"/>
<path d="M100.8 497.3L103.2 497.1L103.2 500z" fill="#ffc414" stroke="#ffc414" stroke-width="0.35"/>
<path d="M103.2 500L103.2 497.1L105.6 499.8z" fill="#ffc229" stroke="#ffc229" stroke-width="0.35"/>
<path d="M103.2 497.1L105.6 496.8L105.6 499.8z" fill="#ffa731" stroke="#ffa731" stroke-width="0.35"/>
<path d="M105.6 499.8L105.6 496.8L108 499.5z" fill="#ffa347" stroke="#ffa347" stroke-width="0.35"/>
<path d="M105.6 496.8L108 496.4L108 499.5z" fill="#ff894e" stroke="#ff894e" stroke-width="0.35"/>
<path d="M108 499.5L108 496.4L110.5 499.1z" fill="#ff8566" stroke="#ff8566" stroke-width="0.35"/>
<path d="M108 496.4L110.5 496L110.5 499.1z" fill="#ff6c6c" stroke="#ff6c6c" stroke-width="0.35"/>
<path d="M110.5 499.1L110.5 496L112.9 498.6z" fill="#ff6685" stroke="#ff6685" stroke-width="0.35"/>
<path d="M110.5 496L112.9 495.5L112.9 498.6z" fill="#ff4e89" stroke="#ff4e89" stroke-width="0.35"/>
<path d="M112.9 498.6L112.9 495.5L115.3 498z" fill="#ff47a3" stroke="#ff47a3" stroke-width="0.35"/>
<path d="M112.9 495.5L115.4 494.9L115.3 498z" fill="#ff31a7" stroke="#ff31a7" stroke-width="0.35"/>
<path d="M115.3 498L115.4 494.9L117.8 497.4z" fill="#ff29c2" stroke="#ff29c2" stroke-width="0.35"/>
<path d="M115.4 494.9L117.8 494.2L117.8 497.4z" fill="#ff14c4" stroke="#ff14c4" stroke-width="0.35"/>
<path d="M117.8 497.4L117.8 494.2L120.2 496.7z" fill="#ff0ae0" stroke="#ff0ae0" stroke-width="0.35"/>
<path d="M100.8 497.3L100.8 494.3L103.2 497.1z" fill="#ffad09" stroke="#ffad09" stroke-width="0.35"/>
<path d="M100.8 494.3L103.2 494.1L103.2 497.1z" fill="#ff9512" stroke="#ff9512" stroke-width="0.35"/>
<path d="M103.2 497.1L103.2 494.1L105.6 496.8z" fill="#ff9224" stroke="#ff9224" stroke-width="0.35"/>
<path d="M103.2 494.1L105.6 493.8L105.6 496.8z" fill="#ff7b2c" stroke="#ff7b2c" stroke-width="0.35"/>
<path d="M105.6 496.8L105.6 493.8L108 496.4z" fill="#ff7640" stroke="#ff7640" stroke-width="0.35"/>
<path d="M105.6 493.8L108.1 493.4L108 496.4z" fill="#ff6146" stroke="#ff6146" stroke-width="0.35"/>
<path d="M108 496.4L108.1 493.4L110.5 496z" fill="#ff5b5b" stroke="#ff5b5b" stroke-width="0.35"/>
<path d="M108.1 493.4L110.5 492.9L110.5 496z" fill="#ff4661" stroke="#ff4661" stroke-width="0.35"/>
<path d="M110.5 496L110.5 492.9L112.9 495.5z" fill="#ff4076" stroke="#ff4076" stroke-width="0.35"/>
<path d="M110.5 492.9L112.9 492.3L112.9 495.5z" fill="#ff2c7b" stroke="#ff2c7b" stroke-width="0.35"/>
<path d="M112.9 495.5L112.9 492.3L115.4 494.9z" fill="#ff2492" stroke="#ff2492" stroke-width="0.35"/>
<path d="M112.9 492.3L115.4 491.7L115.4 494.9z" fill="#ff1295" stroke="#ff1295" stroke-width="0.35"/>
<path d="M115.4 494.9L115.4 491.7L117.8 494.2z" fill="#ff09ad" stroke="#ff09ad" stroke-width="0.35"/>
<path d="M100.8 494.3L100.8 491.4L103.2 494.1z" fill="#ff8408" stroke="#ff8408" stroke-width="0.35"/>
<path d="M100.8 491.4L103.2 491.1L103.2 494.1z" fill="#ff7010" stroke="#ff7010" stroke-width="0.35"/>
<path d="M103.2 494.1L103.2 491.1L105.6 493.8z" fill="#ff6b21" stroke="#ff6b21" stroke-width="0.35"/>
<path d="M103.2 491.1L105.6 490.7L105.6 493.8z" fill="#ff5828" stroke="#ff5828" stroke-width="0.35"/>
<path d="M105.6 493.8L105.6 490.7L108.1 493.4z" fill="#ff523a" stroke="#ff523a" stroke-width="0.35"/>
<path d="M105.6 490.7L108.1 490.3L108.1 493.4z" fill="#ff4040" stroke="#ff4040" stroke-width="0.35"/>
<path d="M108.1 493.4L108.1 490.3L110.5 492.9z" fill="#ff3a52" stroke="#ff3a52" stroke-width="0.35"/>
<path d="M108.1 490.3L110.5 489.8L110.5 492.9z" fill="#ff2858" stroke="#ff2858" stroke-width="0.35"/>
<path d="M110.5 492.9L110.5 489.8L112.9 492.3z" fill="#ff216b" stroke="#ff216b" stroke-width="0.35"/>
<path d="M110.5 489.8L113 489.2L112.9 492.3z" fill="#ff1070" stroke="#ff1070" stroke-width="0.35"/>
<path d="M112.9 492.3L113 489.2L115.4 491.7z" fill="#ff0884" stroke="#ff0884" stroke-width="0.35"/>
<path d="M100.8 491.4L100.8 488.4L103.2 491.1z" fill="#ff6207" stroke="#ff6207" stroke-width="0.35"/>
<path d="M100.8 488.4L103.2 488.1L103.2 491.1z" fill="#ff500f" stroke="#ff500f" stroke-width="0.35"/>
<path d="M103.2 491.1L103.2 488.1L105.6 490.7z" fill="#ff4b1e" stroke="#ff4b1e" stroke-width="0.35"/>
<path d="M103.2 488.1L105.6 487.7L105.6 490.7z" fill="#ff3a24" stroke="#ff3a24" stroke-width="0.35"/>
<path d="M105.6 490.7L105.6 487.7L108.1 490.3z" fill="#ff3434" stroke="#ff3434" stroke-width="0.35"/>
<path d="M105.6 487.7L108.1 487.2L108.1 490.3z" fill="#ff243a" stroke="#ff243a" stroke-width="0.35"/>
<path d="M108.1 490.3L108.1 487.2L110.5 489.8z" fill="#ff1e4b" stroke="#ff1e4b" stroke-width="0.35"/>
<path d="M108.1 487.2L110.5 486.7L110.5 489.8z" fill="#ff0f50" stroke="#ff0f50" stroke-width="0.35"/>
<path d="M110.5 489.8L110.5 486.7L113 489.2z" fill="#ff0762" stroke="#ff0762" stroke-width="0.35"/>
<path d="M100.8 488.4L100.8 485.5L103.2 488.1z" fill="#ff4507" stroke="#ff4507" stroke-width="0.35"/>
<path d="M100.8 485.5L103.2 485.1L103.2 488.1z" fill="#ff360d" stroke="#ff360d" stroke-width="0.35"/>
<path d="M103.2 488.1L103.2 485.1L105.6 487.7z" fill="#ff301c" stroke="#ff301c" stroke-width="0.35"/>
<path d="M103.2 485.1L105.7 484.7L105.6 487.7z" fill="#ff2222" stroke="#ff2222" stroke-width="0.35"/>
<path d="M105.6 487.7L105.7 484.7L108.1 487.2z" fill="#ff1c30" stroke="#ff1c30" stroke-width="0.35"/>
<path d="M105.7 484.7L108.1 484.2L108.1 487.2z" fill="#ff0d36" stroke="#ff0d36" stroke-width="0.35"/>
<path d="M108.1 487.2L108.1 484.2L110.5 486.7z" fill="#ff0745" stroke="#ff0745" stroke-width="0.35"/>
<path d="M100.8 485.5L100.8 482.6L103.2 485.1z" fill="#ff2d06" stroke="#ff2d06" stroke-width="0.35"/>
<path d="M100.8 482.6L103.2 482.2L103.2 485.1z" fill="#ff1f0c" stroke="#ff1f0c" stroke-width="0.35"/>
<path d="M103.2 485.1L103.2 482.2L105.7 484.7z" fill="#ff1919" stroke="#ff1919" stroke-width="0.35"/>
<path d="M103.2 482.2L105.7 481.7L105.7 484.7z" fill="#ff0c1f" stroke="#ff0c1f" stroke-width="0.35"/>
<path d="M105.7 484.7L105.7 481.7L108.1 484.2z" fill="#ff062d" stroke="#ff062d" stroke-width="0.35"/>
<path d="M100.8 482.6L100.8 479.6L103.2 482.2z" fill="#ff1806" stroke="#ff1806" stroke-width="0.35"/>
<path d="M100.8 479.6L103.2 479.2L103.2 482.2z" fill="#ff0c0c" stroke="#ff0c0c" stroke-width="0.35"/>
<path d="M103.2 482.2L103.2 479.2L105.7 481.7z" fill="#ff0618" stroke="#ff0618" stroke-width="0.35"/>
<path d="M100.8 479.6L100.8 476.7L103.2 479.2z" fill="#ff0606" stroke="#ff0606" stroke-width="0.35"/>
</g>
<g font-size="7.4" fill="#222" stroke="#222" stroke-width="0.15" text-anchor="middle">
<text x="99.6" y="469.3">001</text>
<text x="98.6" y="534.6">101</text>
<text x="147.9" y="529.3">111</text>
</g>
</svg>
</body></html>
